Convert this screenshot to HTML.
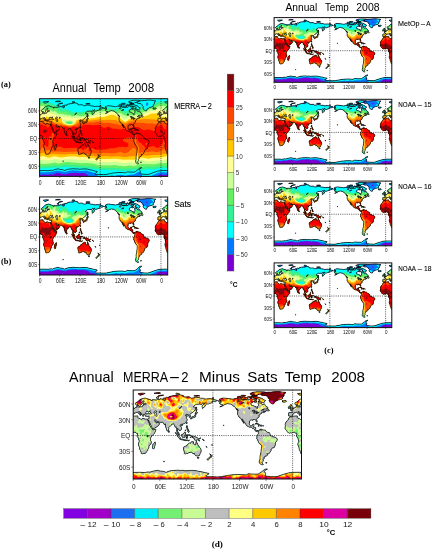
<!DOCTYPE html>
<html lang="en"><head><meta charset="utf-8"><title>Annual Temp 2008 - MERRA-2 vs satellites</title>
<style>
html,body{margin:0;padding:0;background:#fff}
svg{display:block}
text{font-family:"Liberation Sans","DejaVu Sans",sans-serif;fill:#111}
.t{font-size:12.2px;fill:#000}
.tc{font-size:10.4px;fill:#000}
.td{font-size:14.1px;fill:#000}
.s{font-size:8.7px;fill:#000;stroke:#000;stroke-width:.1}
.k{font-size:6.8px;fill:#111}
.kc{font-size:5.8px;fill:#111}
.kd{font-size:7.7px;fill:#1a1a1a}
.cb{font-size:6.3px;fill:#333}
.p{font-family:"Liberation Serif","DejaVu Serif",serif;font-weight:bold;font-size:8.4px;fill:#000}
.co{fill:none;stroke:#000;stroke-width:.72;vector-effect:non-scaling-stroke;stroke-linejoin:round}
.fr{fill:none;stroke:#111;stroke-width:1}
.gl{stroke:#000;stroke-width:.6;stroke-dasharray:1.1 1.1;fill:none}
.tk{stroke:#222;stroke-width:.5}
</style></head><body>
<svg width="434" height="550" viewBox="0 0 434 550">
<rect width="434" height="550" fill="#fff"/>
<defs>
<path id="land" vector-effect="non-scaling-stroke" d="M-1 70.1l16-0.3 10 0.5 10-1.3 3 0.8 2-1 5-1.1 10-1.7 5 1.3 10 0.9 2 1.3 3 0.2 7-2.4 5-0.6 10-0.7 5-0.2 5 0.7 5-0.5 5 1 15-0.8 5 0.1 5 0.5 5 1 10 1.5 5 1.2 9 1.3-1 1.7-4 1.5-2 1.8 2 1.2 24 0.5 10-0.3 3-1 7-0.7 5-1 10-1 10-0.5 10 0 5 0.6 5 0.2 5-2.3 5 0.5 10 0.3 5-0.1 3-0.4 2-1.3 6-3 3-2.7 2-1 3-1 3-0.5 1 0.4-4 1.8-3 2.5 3 4 0 2-2 1.5 3 1.5 10 1 10 0.2 5-0.4 15-4.3 5-1 5-1.5 10-1 15-0.2 6 0.3 0 13.4-382 0zM70.4 49.6l-1.4 0.1-0.2-0.7 1.5-0.2zM45.5 15.8l2-1.3 1.8-2.5 1.1 3.5-0.9 2-2.3 7.3-2 0.7-1.5-2-0.2-2 0.9-1.7-0.4-2.3zM11.5 -33.2l3.8 0.9 1.2 1.1 2.5 0.9 1-0.7 0.2-1.3 1.8-0.6 3 1.2 4 0.8 2-0.6 1.3 0.3 0.2 0.9 0-0.8 1.7-0.2 0.5-0.5 1.1-2.7 0.2-2.3-1 0.1-1.2 0.5-1.8 0.1-1.4-0.7-1.1 0.6-2.2-0.8-0.3-1.4-1-2.4-1.5 0-0.7 0.6-1.1-0.1 0.3 1 1 1.3-0.8 0.2-0.2 1.1-0.5 0.2-0.8-0.3-0.5-1.5-1.8-2 0.1-1.4-4.3-2.5-0.7-1-0.9 0.2 0.1-0.7-1.4 0.4 0.1 1 1.2 0.7 0.9 1.3 1.4 0.4 2.6 1.6-0.1 0.3-1.4-0.5-0.4 0.8 0.5 0.7-0.6 0.7-0.8 0.3 0.3-0.8-0.3-1.2-3.2-1.5-1.5-1-0.8-1.4-1.4-0.5-3.3 1.2-1.5-0.3-1 0.2 0.2 1.4-2.3 0.9-1.2 1.5 0.5 0.7-1.2 1 0-11.9 1.3-0.1 1.4-1.1 1.5-0.4 1-0.7 0.8-1.2 3.8-0.8-0.7-1.5 0.4-1.5 2-0.5 0 2-0.5 1 1 0.5 1-0.2 2.2 0.3 4.3-0.9 1.3 0.4 1.2-0.8 0-1.3 1.5-1.2 1.7 0.5 0.2-1.1-0.9-0.2 0.5-0.9 4-0.1 2-0.4-1.5-0.6-2.5 0.1-3 0.5-1.6-0.7-0.1-1.4 1.2-1.3 2.8-1.6-0.8-0.9-2.3 0.1-1.7 1.9-2.8 1.3-0.4 1.5 1.6 1.2-2.2 2.3-0.2 1.2-2.3 0.9-1.4-0.6-2.2-3.3-3.1 1.3-1.7-0.8-0.8-1.7 0.5-1.5 5-2.3 2.5-1.7 2-2 3.5-1.5 7.2-1.6 2.3 0.1 3 1 10.2 2.5-1.2 1.2 3.5 0 0.5-2.2 2.5 0.7 6.5 0.3 1-0.8 6-0.2 0.5-1.3 3.5 0.3 4.5 1.3-1.5-0.8 1.5-2.5 4 0.5-0.5 2.5-2 2 2 0.2 1.5-2.2-0.5-3 2-1.3 5.5 0.8 0-1.5 6.5-1.7 13-1.1 4-1.4 9 1.7 0.5 2.3 5.5 0.7 7-0.5 3.5 1.5 1.5 1 5-0.5 5-1.3 7 0.6 4 1.3 7 0.2 2 1.2 5 0 5-0.5 5 0.3 14.5 3.2-0.5 0.5-2.5 0.5-1.5 1-3 0-2-1-2.5-0.5-1 1.3 1.5 0.2 0.5 1.7-7 1.8-2.5 1-4.2 0-2.8 2.2-1 2.8-2 0.8-1.8 1.9-1.5 1.1-1.1-3.8 0.1-1.8 4.3-3.2 3-1.5 0.5-1-3.5 1.5-3.3-0.6-2.2 1.6 0.5 0.6-2.5 0.4-3-0.7-3.5 0.4-3 0-2.5 0.8-5.3 3.7 2.3 0.8 2-0.2 1.9 1-0.9 1.7-0.3 2.5-4.7 4.5-4.7 2.1-3.3 2.7 1 1.2 0.9 1.7-0.4 1.6-2.5 0.7-0.2-2 0.2-1-1.5-0.3 0.3-0.9-0.8-1.1-1.5 0.1-1.8 0.7 0.8-1-0.8-0.8-2 1.3-1.5 0.5 0.3 0.8 1 0.9 2-0.3 1.5 0.6-2.2 0.9-1.1 1.1 1 0.8 0.6 2.2 1 1.1 0 1.7-1.5 1.9-1 1.8-1.5 1.5-1.8 1.1-5.5 1.6-0.2 0.9-0.8-1.1-1.5 0-1.2 0.8-1 1.2 0.2 1 2.8 3 0.5 2.5-0.4 1.7-2.1 0.9-1.6 1.7-1.7-1.8-1-1.5-2.5-1.4-0.7 2.9 1.6 3.5 2.1 1.5 1.2 4.1-0.7 0-2.2-1.4-1.5-3.7-1.5-1.5 0.3-3.5-0.9-4-0.7-1.3-1.5 1-1-0.2-0.5-2.5-1.7-2.3-0.5-1.6-4.8 0.9-0.5 1.5-2 1.2-2.5 2.3-1.9 1.2 0.2 1.8-0.4 1.5-0.7 1.7-1.7 2.2-1.5-1.9-3-7.5-0.4-4.8-0.6 1.1-1.7 0.3-1.3-1.3 1-0.1-2.6-1.9-0.9-1.2-5 0.2-4.2-0.5-0.8-1.3-2 0.4-2-0.9-1.5-1-1-1.5-1.2-0.3-0.8 0.8 1 1.7 1.8 2.3 0.8-0.3 0.2 1.8 2.2-0.2 1.2-1.4 1.1-0.6 0.1 1.3 0.6 0.9 1.8 0.4 1 1.1-1.8 2.1-1 1.6-1.5 1-7.5 3.8-4 1.4-0.7-0.4-0.5-1.8-0.8-1.7-1.5-2.5-1.3-1.5-0.2-1.5-4-6-0.1-1.5-0.6 1.7-0.8-0.4-0.6-1.2 0.6 1.4 1 1.5 1 2.5 1.4 2 0.5 3.2 1.1 0.8 1 2.5 1.7 1 1.9 1.8 0.2 1.2 1.2 1.1 2.5-0.8 4-0.8 0.2 1.5-1.4 3-1.8 3-2 2-2.5 2-3.3 3.5-1 2-0.4 1.5 0.7 1.5 0 2 1 1 0.2 3.5-0.9 1.8-2.8 1.5-1.7 3.2 0.2 2.5-2.5 2-0.7 3.3-1.3 1.2-2 2.5-2 1.3-4.5 0.4-2.5 0.6-1.6-0.6-0.2-1.7-1.8-4-1.4-2-0.5-3.5-2.5-5-0.2-2 0.7-2.5 1.3-2.5-2-6.5-2.3-2-0.7-1.8 0.7-1.7 0.2-3-1.2-0.6-1.5 0.2-2.5-1.9-2 0-3.5 1.1 0-30.4 2-0.9 2-0.4 7-0.4 1 0.4-0.8 1.4 0.1 1.2zM33.8 -0.3l-2 0.8 0.2 2 1.5 0 0.7-1.5zM48.5 -46l-1.5 1.5 0.5 1.5 1 1.2 0.8 1.5-0.3 2.1 1 0.9 2 0.6 2-0.3-0.3-1.5-0.7-1.5-0.2-1.5-0.8-1-1.5-1 1-1 1.5-0.5-0.5-1.5-2.5-0.2zM28.6 -43.6l-0.8 0.9 0.2 1.2 1.5 0.3 2 0 1.5-0.8 2 0 1.5 0.7 2.5 0.3 2.5-0.5 0-0.8-4-2.5 0.3-1 1.4-1.3-1.7 0.4-1 1.5-2.3 0.8-1.2-1.6-2-0.6-2.2 1.8zM61 -46.5l-2 0.5-0.5 2 1.5 0.5 1.5-1.5zM109 -55.6l-2 2.1-3.2 1.9 1.7-0.1 3-1.8 1.3-2.1zM-0.2 -54.2l0.4 1.2 1.5 0.3-0.3 1.5-2.4 0.5 0-4.1zM51.5 -71.5l2.5-2 4-2.3 8-1.2 2.7 0.2-9.7 1.8-3 2 1.5 2.3-3.5-0.1zM27 -80l-10 3.3-3-0.8-3-2 9-1zM47 -80.2l3-0.8 8-0.5 4 0.9-7 0.6zM168 44.2l2.5-1.2 2.3-2.4 1.2 0.6 0 0.8-1.2 1.5-1.5 0.8-0.5 1.5-1.5 0.8-2.8-0.8zM148.2 42.2l-0.9 1.1-1.3 0.2-1.3-2.8 1.8 0.4 1.7-0.2zM175 39.8l-1.2-0.5 0.9-1.3-0.2-1-1.8-2.5 2.8 2 0.5 1.1 2 0 0.3 1-1.3 0.8-0.2 1.1-1.5 1.1-0.5-0.8zM129.7 14.8l0.5-1.8 0.8-0.8 1.7-0.7 2.3 0.7 1.7-0.2-1.2 3 2 1 2 1.5 1.3 0 0.8-2.5 0.1-2.2 0.8-2 1 2 0.5 1.7 1.3 0.5 1 4 2.2 1.2 1 1.8 1.3 1.5 1.9 1.5 0.8 3.8-0.5 2.2-2 3.2-1 2.3-0.2 1.2-2.3 0.3-1.5 1-1.5-0.8-2 0.3-2-0.5-1-1.8-1.3-1-0.4-2-0.8 0.8-1.5 0.8-1.5-2-2.5-1.3-5.5 0.8-2 0.7-0.5 0.9-3.5 0-2 1.1-2.3-0.6-0.6-0.8 0.6-1.8-2.2-5.8 0.2-3.5 0.5-0.7 2.6-1.2 4.7-1.6 0.8-1.8 1.4-0.4 1.3-1.6 1.8-1.2 1.7 0.8zM164 20.2l1.5 0.8 1.5 1.3-0.7 0-1.8-1.3zM178.6 18.2l-1.2 0-0.1-0.7 1.2-0.1zM123.5 10.3l1.5-1.3 2-0.6-0.5 0.8-2 1zM115 8.2l4 0.3 4-0.2 0 0.7-3 0.5-4.8-0.7zM156 6.8l2 1 2.5 1.5-0.5 0.5-2.5-1.5zM105.2 6.8l1.3-0.8 2 0.7 2.3-0.3 3.7 1.4-0.2 0.9-6.3-0.9-1.7-0.4zM146 5.3l1.5 0.7-0.3 0.8 1.3 1.7 2 1.8-1 0.1-2.5-0.9-1.5-1.5-2 0-0.5 1.2-2-0.1-1.5-1.1-1.5 0.4 0.5-1.4-0.5-1.5-4.5-1.7-0.7-1 1.2-0.6-1.7 0-1.3-0.8 0-0.6 1.5-0.4 1.5 0.4 0.3 1.7 1.2 0.8 2-1.6 3.5 0.9 3.8 1.4zM151 6l-1.5 0.3-1-0.6 1.7-0.2 1.8-1.3 0.3 0.8zM130.8 3.6l-1.8-0.1-1-0.3 2-0.3zM122.8 4l-0.5 1.2-0.8-0.7-0.7-1.7-0.5 2.7-0.8 0 0-2-0.7-0.7 0.7-1.8 0.2-1.8 1.3-0.5 2 0.4 2-0.7-0.5 1.2-2.5 0-1.5 0.4 0.5 1 2.2-0.1-1.2 1.1zM102.5 4.2l-3-3.7-1-2-3-3.3-0.2-0.8 2.2 0.4 6 5.7 1 1.5 1.5 1.3-0.2 2.5-1.3 0zM127.5 -1.8l1 0.3-0.2 1 0.4 1.3-0.9-1.1zM118 -1.2l-1.5 2.7-0.5 2-1.5 0.5-1.5-0.8-1.5 0.1-1.3-0.8-0.2-1.3-1-1.2 0-1.5 1-0.2 3-1.5 4-3.8 1.5 1.5-1 2.5zM124 -8.5l1.5-0.7 1 1.7-0.5 1.2-0.7 0.3-2.4-1.5 0.6-0.3zM81 -6l-1-0.5-0.2-1.5 0.4-1.8 1 1.3 0.6 1.5zM119.3 -11.3l0.2 0.5-2.3 2.3 0.3-1zM125.5 -10l-2.5 0.5-1-1 1-1 2 0.3zM120.3 -16l0.2-2.5 1.5 0 0.3 2-0.8 2.3 2.5 1.2-0.2 0.5-3.1-1.5-0.7-1zM108.7 -19l1.3-1.1 1 0.3-0.5 1-1 0.6zM120.2 -22.8l0-1 0.8-1.4 0.8 0.4-0.8 2.8zM142 -39.5l-1 1.5-0.2 2.5-1.8 0.7-2 0.2-1.5 1.1-1-0.3-1.5 0.8-1-0.2-0.5 1.7-1.5 0.3-0.2-2.1 1.2-1.1 2-1.1 3-0.2 0.8-1.3 1.7-0.3 1.3-1.7 0.2-1.8 1.3-0.5zM141.6 -43.5l0.4-1.9 3.5 2.1-2.2 1.3-2.3-0.5-1 1 0.3-1.5zM142 -46l-0.2-3.5 0.5-4.7 1 0.2-0.3 2.5 1.5 2.3-1.5 0.2 0.5 2.2zM182.5 -71.3l-1.5 0.5-2.5-0.2 1.5-0.6zM146 -75.2l-4 0.4-5-0.5 3-0.7 8 0 2 1zM96 -79l2-1.5 5 0.7 2 1.3-5 0.3zM302.2 52l-2.2 0.3-1-0.5 3-0.4zM290 -12.2l1.5 0.9 2.5 0.7 1.7 0.3 2.5-0.3 0.3 0.8 1 1.2 1.5 0.6 1.5 1.7 4.7 1 1.3 1 0.7 2.3 0.8 1.3-0.5 0.9 2 0.6 1.5-0.1 2.5 1.5 1 0.3 4 0.5 4.3 2.8 0.4 1.7-0.4 1.7-2.3 2.8-1.3 1-0.4 4.8-1.8 4-1 1.2-2.5 0.2-1.8 0.8-1.7 1.3-0.7 1.2 0.1 2-4.4 5.2-1 0.9-2 0.3-2.2-0.7 1 1.8-0.3 2-1.5 0.7-3 0.2-0.3 1.6-2.5 0.5-0.2 1.3 1 0.5-1.3 1.7-1.7 1-0.5 1 1.7 1-1.7 2-1.5 1.3 0.7 2.2 2.3 1.8-2 0.7-2.5-0.5-2-1-2-1.5-0.7-2-0.3-2 1.7-3.5 0.3-2-0.3-1.5 0.2-2 0.4-2.2 1.6-4.3 0.3-4 0.8-4 0.3-4-0.1-2-1-1.5-4.2-2.5-4.5-8.5-1.2-0.7 0-1.5 1.2-1-0.7-1-0.1-1.3 1.3-2 0.7-0.5 0.3-1.1 1.2-1.2-0.2-1.7 0.2-2.7-0.2 0.7-2-1.5-1 1.7-1.3-0.9-1.2 0-2-1.6-0.7-0.7-0.5-1-1.3-1-0.3-0.5-3.7-1-1.5-1.3-1.5-0.9-1.5 0.5-2-0.4-6-2.7-1.5-1.2 0.2-1-0.7-1.8-3.3-3-1.2-1.7-1.7-1.7-0.8-1.8-1.7-0.2 1.2 1.7 0.7 1.5 3.3 4.8-0.7-0.1-1.3-1.5-1-1.7-1.5-1.5-0.8-1.5-1.2-1.3-1.2-1.8-1.3-1.4-2.1-0.6-1.9-3.2-1.3-1.5-0.5-1.2 0.3-7.3 1.2 0.3-0.2-1.5-4.5-2-1-1.5-1.5-1.5-1-0.8-2-0.7-2-2-5-2.2-3-0.3-3-0.7-3 0.2-1 1-2 0-6.5 3.3-2.5 0.9-3.5 0.7 4.5-1.4 2.5-1.5-0.5-1.2-4 0.1 0-1.2-2.5-0.7-1.5-1 2-1.5 3-0.5 0-1-4 0-3-1.1 4-0.9 3 0.2-2.5-0.7-0.5-0.7-2-1.1 2.5-0.2 1.5-1.2 5.5-1.1 17.5 1.7 4 0.6 4-0.9 3-0.4 6 0.5 6.5 1 2 1 9.5-0.2 3 0.2 3-0.2 2-1.5 0-1.5 2-0.7 2 2 3.5 1.2 2 0.5 1.5-1.8 2.5 0.2 1 1.1-0.2 1.5-1.8 0.8-2-0.3-1 0.5-1 1.5-5 2.2-2 1.3-0.2 1.5 1.7 0.8 0.5 1.7 2-0.2 2.5 0.7 3 1.2 2.7 0.5 0 2 1.3 1.5 1.5-0.2 0.5-1-0.7-2.2 2.7-2.3 0-1.5-1-2 0-1.9 3 0.2 3 0.7 2 1 1 1.7 2 0.3 3-1.7 2 2.2 0.5 1.2 1.5 1.3 4 2 0.2 1-1.2 1-2 0.7-2.5 0.6-3.5 0-2.5 0.8-2 1.4-1 1 2-1.5 2-0.7 2.2 0.3-0.7 1.1 0.3 1.3 1.7 0.3 2-0.8 1 1-5.7 2.5-0.3-0.8 1.5-1.3-5.7 1.9-0.6 1 0.8 0.7-4 1.4-0.2 0.9-1 1.3-1.1-0.1 0.7 3.2-5.4 3.3-0.4 1.5 1.3 4-0.4 1.3-0.8-0.3-0.7-1-0.7-1.3-0.1-1.2-1.2-1-1 0.3-1-0.7-3.5 0.2 0.2 1-0.7 0.1-3.5-0.7-1.3 0.4-2.5 1.7-0.5 5.2 0.5 1.7 1.3 1.8 1.5 0.8 3-0.3 0.7-0.8 0.5-1.7 1.8-0.5 1.5 0.1-0.8 2.9-0.5 1-0.2 1.7 3.5-0.1 1.5 0.7 0.2 1.2-0.4 2 0.2 1.5 1.2 1.3 1.3 0.3 1.5-0.7 1.5 0.2 0.8 0.9 0.7-0.3 1-1.8 4-1.7-0.3 1.3 0.3 1.5 0.5-1.4 1-0.6zM281 -42.8l-3.5 0.8-0.8 0.2 3.3-0.4zM280.5 -43.8l-0.2 0.5 2.7 0 0.7-0.7zM273 -45.7l-1 1.2 0.2 2.5 1.5-0.2 0.8-3.3zM276.5 -46.2l-1 0.4 2 2.8 1-1.5 1.5-0.3-1-1.2zM273.5 -47.8l-2.5-0.2-3 1.3 7.3 0.1zM262 -53.8l-1 0.8 0.2 2.5 2.3 0zM249 -62.8l-4 0.8-2 1 3.5-0.2 4-1.5zM240.5 -67l-3.5 0.8-0.5 1.2 3.5 0.2 2.2-1.2zM371.5 -33.2l3.8 0.9 1.2 1.1 2.5 0.9 1-0.7 0.2-1.3 0.8-0.3 0 67.2-1 0.2-1.6-0.6-0.2-1.7-1.8-4-1.4-2-0.5-3.5-2.5-5-0.2-2 0.7-2.5 1.3-2.5-2-6.5-2.3-2-0.7-1.8 0.7-1.7 0.2-3-1.2-0.6-1.5 0.2-2.5-1.9-2 0-4.5 1.5-1.5-0.4-1.5 0-2.5 0.8-1.5-0.6-2-1.7-1.5-0.8-0.8-1.5-1.4-1.7-2-1.6-0.8-2.4 1-1.3 0.2-3-0.7-2 1-2.5 1.5-2.5 1.5-1.8 1.5-0.7 1.5-1.2 0.3-1.8 1.2-1.8 1.7-0.9 0.9-1.6 3.9 0.7 3-1.4 2-0.4 7-0.4 1 0.4-0.8 1.4 0.1 1.2zM381 -38.5l-1.6-1.8 0.1-1.4-4.3-2.5-0.7-1-0.9 0.2 0.1-0.7-1.4 0.4 0.1 1 1.2 0.7 0.9 1.3 1.4 0.4 2.6 1.6-0.1 0.3-1.4-0.5-0.4 0.8 0.5 0.7-0.6 0.7-0.8 0.3 0.3-0.8-0.3-1.2-3.2-1.5-1.5-1-0.8-1.4-1.4-0.5-3.3 1.2-1.5-0.3-1 0.2 0.2 1.4-2.3 0.9-1.2 1.5 0.5 0.7-2.2 2-2.4 0.1-1.2 0.7-1.6-1.2-1.6 0.2-0.6-1.8 0.6-2.7-0.4-1.5 1.2-0.7 6.5 0.1 0.3-2.4-1.1-1.2-2-0.6-0.4-0.7 3.1-0.2 0.1-0.9 1.8-0.2 1.4-1.1 1.5-0.4 1-0.7 0.8-1.2 3.8-0.8-0.7-1.5 0.4-1.5 2-0.5 0 2-0.5 1 1 0.5 1-0.2 2.2 0.3 4.3-0.9 1.3 0.4 1.2-0.8zM377.7 -62.5l-0.4 1.5 1.6 1.2-2.2 2.3-0.2 1.2-2.3 0.9-1.4-0.6-2.2-3.3-3.1 1.3-1.7-0.8-0.8-1.7 0.5-1.5 5-2.3 2.5-1.7 2-2 3.5-1.5 2.5-0.6 0 5.7-0.5 0.6zM283.5 -18.4l0.2 0.5-2-0.4 0.3-0.2zM294.3 -18.5l0 0.5-1.5 0 0-0.5zM287.4 -19l-0.7-0.8 1.3-0.1 2.2 0.3 1.4 1-2.6 0.9-1.5-0.5-1.9-0.2zM204.8 -20.2l0.2 0.8-1 0.4 0-1zM277.5 -22.4l-2.4 0.5 1.9-1 2.5-0.2 2.5 0.8 2.5 1.6 1.3 0.5-3.3 0.3 0.3-0.7-1.3-0.9zM300.7 -47.7l3.1-3.7 0.7 1.6 2 1 0.8 1.2-0.8 0.9-2.5-0.1zM231.7 -50.7l2.8 0.6 2 1.7-1.5-0.2zM354.2 -54.7l-0.2 2.5-3.5 0.7-0.8-0.4 1-0.7-0.5-0.6-0.2-1 2.8-1.1zM354 -57.3l1-1.3 2 0-0.5 0.9 1.5 0.1-1 1.4 1 0.2 0.5 0.8 1.3 1 0.4 1.2 1.5 0.3-0.3 1.5-1.4 0.4-3 0.2-2.5 0.5 2-1.3-1.7-0.4 1-0.5-0.3-0.9 1.3-0.1 0.2-0.7-1.8-0.8zM279.5 -63.8l-3 0.5-3.5-0.3 2-2.2 3 0.6zM346.3 -65l-1.3 0.7-3.5 0.9-4-0.5 0.5-0.4-2-0.6 2-0.2-2-0.4 1.5-0.9 2.2 0.3 3.8-0.4 1.7 0.4zM281.5 -70l-6.5-0.2-3.5-0.6-1-1.2 0.5-1.5 4-0.2 4 0.2 6.5 1.5 6.5 2 1 1.5 5.5 1.8-2.5 3.4-2.5 1.3-8-2.5-3.5-0.2 1.5-1.3 3.5-1.5zM255 -68.8l-9 0.1-3-1.1 1-1-2.5-0.7 3.5-1.2 4 0.1 3-0.4 3 0.5 3 1.8 0 1.4zM301.5 -75.3l-3.5-0.7-5 0-4-1.2-1-1.1 4-0.7 1-1.2 1.8-0.7-4.8 1.1-4 1.3-4 0.7-2 1.5-10-0.2 1-1 3-1-1.3-1-0.7 1.2-7 0-1-1.7 8-2.3 8-0.7 10 0 8 0.5-2 1.3 4-0.8 12-0.5 8-0.8 9-0.2 9 1.2 7 0.5-2 1.3-3 1.5 1 2-2 3.5-3 1.2 2 1.3-1 1.2-4 1.3-6 1-4 1.8-3.5 1.2-2.5 4.5-2 0-2.5-0.8-1.5-0.7-2-1.7-1.5-2-1-1.8 2.5-2-2-0.7-2-1.3-1-2zM258 -71.5l-0.5-1.3 2-1.2 3.5 0.5-1 2zM242 -74.3l2 1-4 1.7-3 0.4-2-0.6 0.5-1.7 2.5-0.9zM269.5 -74l-0.5 1.3-4.5 0.7 1-2.2zM276 -76l4 0.5-2 0.9-6 0.1-4-0.2-0.5-1.1zM253 -75l-5 0.5-5-0.5 1-1.3 6-0.2 4 0.5zM381 -80.4l0 2.4-4 1.3-3-0.8-3-2 9-1z"/>
<clipPath id="lc"><use href="#land"/></clipPath>
<clipPath id="fc"><rect x="0" y="-86.5" width="380" height="169"/></clipPath>
<g id="gm"><rect x="0" y="-86.5" width="380" height="169" fill="#7800d2"/><path fill="#0078ff" d="M145 81.5l3.6 1 200.9 0 1.6-2 7.9-1.9 11 1 4-0.6 6 0.3 0-165.8-380 0 0 166 5 0.2 5-1.3 15 0.5 7-1 6 0.8 13-3.7 7 0 6 1.5 4.4 0 8.6 1.7 3-0.4 3-1.6 5 0.1 4-1.4 10 0.3 5-0.4 8 0.2 5 0.9 10-0.6 7 1.1z"/><path fill="#00ffff" d="M170 79l4.1 3.5 28.9 0 7-0.8 4-1.5 6 1.2 6-0.5 3.7-1.4 4.3 0.6 5-1.2 4 0.7 6 0.2 5 1.2 17-2.9 9 0.2 8-3.5 8-2.8 1.9 1.5 0.2 2 4.7 3 3 4 22.1 0 13.1-4.9 11-3.2 7-1 8-0.1 13 0.5 0-160.3-380 0 0 160.2 25-0.2 9-1.3 8-0.1 8-1.7 6-0.3 7 1.3 12 1.3 10-2.1 14-1.5 6 0.8 6-0.4 13 1.1 14-0.7 25 5.1 2.7 2.5zM317 -71.4l-1.2-1.1-0.6-2 2.4-4 1.4-0.3 3 1.9 0.4 2.4-1 2-1.3 1-1.1 0.4z"/><path fill="#32f096" d="M230.8 69.5l27.2 0.8 22-1 9-1.2 7-2.9 2 0.4 1 2.7 1 0.5 4 0.2 16-2.3 18 0.9 16-2.7 14 0.2 12-0.9 0-141.1-3 0.3-3-0.7-2.6-2.2-0.2-2-1.2-0.2-16 1.5-5 0.9-6 2.1-7 7.5-8 2.3-7.5 2.9-4.5 3.6-3-0.4-2.4-1.2-3.5-3-1.1-2.3-2-0.8-5 0.9-2.1 3.2-2.9 1.4-9.2-2.4-0.3-2-2.2-1-2.3-0.1-4 3.9-2-0.6-8 2.2-5 3.5-3 0.8-4-1.5-3-0.1-1-2.3-1-0.6-5-0.6-3-3.3-4 0.3-3 1.1-6-0.6-7 2.2-3-0.4-4 0.4-3-1.3-4-0.6-7 1.1-3.7-1.5-2.3-2.7-1-0.1-5.1 0.8-0.8 2-2.1 1.3-5-0.7-5 2.6-3 0.8-4-0.2-3 0.6-3-0.5-5 0.5-4 1.7-15 0.2-6 2.6-4-0.6-3 0.3-4-0.9-8 1.6-4-0.3-4-1.3-4 1.2-5-0.2-3-2-4-1.1-2-1.4-3-0.1-7-2-2 0.3-3 1.3-2 0.2-5-3.1-5-0.9-0.8-0.9 0.3-2-0.5-0.6-7-0.9-18-6.5-7-0.9-10 1.8-3.4-0.9-3.6-2.9-10-0.3 0 145.8 30-0.3 14-1.7 13 0.6 21-2.1 29 2 16 0.1 19 1.7 17 0.2 21 2.7 13 0 17 0.9 13-0.5z"/><path fill="#64f064" d="M238.3 65.5l15.7 0.1 14-1 11 0.2 13-1.6 9-0.6 6 0.7 13-1.6 18 0.8 17-2.7 12 0.3 13-0.6 0-126-3-0.2-0.8-0.8 0.8-1.1 3-1.3 0-5-11-1.5-18 1.8-9.7 3.1-5.3 3.2-8 1.8-7 2.6-3.7 3.4-1.3 0.5-3-0.4-7-2.8-8.1 1.7-1.4 1 0.6 2-1.1 1.3-1.2-0.3-0.8-1 0.7-2-2.7-0.9-1.6-0.1-0.9 2-2.5 0.6-2 1.8-1-0.5-3-5.8-4 0.8-6-0.3-4 1.4-1 0.9-0.3 1.1 0.9 2-0.2 1-2.4 2.2-2-0.5-3 0.6-9-1.3-3-1.8-5-1.8-3-2.3-4-0.4-6 2.4-3 0.1-9-1.7-9 0.1-5-0.9-6 0.7-1.3-0.4-0.9-2-2.8-0.6-7 0.9-4-0.2-2 1.1-8 1.9-5 0.5-5 2.9-3 0.5-1.1 0 0.1-1 1.3-2-1.3-0.6-2 1.1-3 0.6-11-0.1-4 1.6-3 2.6-2 0.8-4-0.2-6 1.6-3-1.3-3 0.4-5-0.4-2-2-4 1.2-4 2.1-5 0.5-2-0.7-3-2.7-5 0.4-1-0.5-5-3.8-3 0.8-3-0.3-4 1.2-4-2-4 1.3-5-0.7-4-3.1-2-3.3-3-0.1-5.3-3.4-11.3-4-11.4-2.2-12-1.1-8 0.1 0 136.4 31-0.8 13-1.6 14 1.2 15-2.4 6-0.3 12 1.1 24 0.8 20 1.6 22 0.1 22 3.6 12-0.4 19 0.9 14-0.4zM339 -64.4l-1.2-1.1 1.2-0.6 4-0.1 1.6 0.7-1.6 1.1zM35 -65.5l-6-0.4-4-1.6-4 0.8-5 0.2 0.2-1 3-2 8.8-2.7 6 2.3 2.7 2.4-0.1 1zM86 -32.4l-2.8-1.1 0-1 3.8-1.5 2-0.2 3.9 1.7 0.2 1-1.1 0.4z"/><path fill="#c8ff96" d="M233.5 59.5l19.5 0.8 14-1.3 12 0.9 5-0.7 16-3.8 40 0.7 15-2 25-0.9 0-117.6-5 1.4-3-0.5-0.1-1 3.1-5 0.1-1-8.1-0.6-12 0.8-5 0.9-4 1.7 0.4 2.2-1.4 1.6-5 0.9-6-1.6-11.8 2.1-5.2 3.3-6 0.3-6.2 2.4-1.5 1-0.4 2-5.9 2.3-3.5-0.3-4.5-1.3-5 1.5-2.8-0.2-0.9-3 0.5-3-1.8-0.8-5-0.1-0.9 0.9 4.4 3 1.3 3 0 1-0.8 0.4-3-1-10 0.7-1-0.2-2-2-0.9 1.1 0.8 2-1.9 0.6-6-0.4-3-1.6-4-0.6-3-2.1-6-2.2-6 1.3-5-1.6-4-2.1-5.5-1.3-5.5-0.3-9 2-10-1.8-7 0.8-11-0.2-7 0.8-3 1-3 2.5-3 1.6-9 0.9-5-1.1-1 0.3-1 1.5-2 0.1-3 2-2-0.8-7 1.5-6 0.5-4 0-7-1.8-5-0.4-1-1.9-1.8 2.8-7.2 1.7-2-0.4-4-2.6-5 1-3.2-0.7-2.8-1.7-4 1.1-4-1.6-3 0.1-6-1.4-4 0.6-3-1-2-0.1-6-4.4-2-0.3-6 0.7-2-0.2-7-3.4-6-0.4-0.7-2-1.3-0.7-6 1.6-2 1.6-6 0.1-0.4-0.6 2.4-1.6 1.9-2.4 2.2-3 0-1-8.1-0.7-7 0.4 0 125.4 11 1 21-1.4 13-1.8 10 1.9 4 0.3 14-2.8 9-0.5 27 1.4 13 1.2 16-0.6 20 1.4 20 3.9 12-0.5 15 0.6 19-0.8zM289 54.9l-1.7-1.4-0.5-2 1.2-5.7 1-0.6 0.7 8.3zM367 -61l-0.3-0.5 1-1 1.7 0-0.8 1zM84 -31.3l-5.4-2.2-2.1-2 1-1 1.5-0.3 5-0.1 6-1 5.7 1.4 1.8 1 0.4 1-1.4 2-2.6 1z"/><path fill="#ffff96" d="M237.8 52.5l13.2 0.6 14-0.9 14 0.9 4-0.3 1-0.2 0.8-1.1 3.2-9.6 1-1.2 1.9 4.8 0.1 4.2 1 1 4-2.7 5-0.9 5 0.2 13 2.2 6 0.4 12-1.4 29-1.3 14-1.9 0-107.7-2 0.7-3 3-2 0.2-2-0.6-3 0.7-2-0.5-1-0.9-0.6-1.7 0.6-2.4-1-0.5-12 0.5-10 2.8-12 1.5-6 1.5-17 6.3-1.4 1.3-0.6 1.7-4-0.6-5 0.3-5 2.2-8-1.2-7 1.3-5-1.1-5 1.8-3 0.3-2 1.7-3 1-5 2.7-3-0.9-3-2.6-4-2-3-2.8-4-1.8-3-0.5-3.8-2.5-5.2-2.2-8.8-1.8-7.2 0.2-6 1.9-14 2.7-15-0.2-12 3.7-8 1.7-8 0-2 0.6-3-0.8-5 2-7-0.3-17 1.7-10-0.6-5 1.3-2-0.6-4-2.5-2 0.6-5 0.2-4-1.9-6 2.1-5-2.4-3 0.1-5-0.8-3 1.5-1-0.2-7-3.4-3 0-2-2.7-8 0.2-6-3.3-2-0.2-2 0.6-1-0.5-1.5-2.7-3.5-2.9-2 0.9-0.5 2-1.5 2.3-2 0.8-3-2.4-4 0-1.2-0.7-0.7-2 2.1-3 0-1-7.2 0.1 0 111.9 26 1.6 7-0.6 13-2.5 4 0.4 10 2.5 14-2.2 12-0.7 20 0.6 13 1.8 15-1.4 15 2.5 15 0.6 12 1.9 27 0.5 21-1.6zM352 -52.7l-1-0.8 0.8-1 1.5 0 0.2 1zM358 -53.4l-3.2-2.1-0.5-2 0.7-1.2 1-0.2 1.5 1.4zM83 -30.4l-5-1.3-7-3.4-2.1-2.4 0.4-2 1.7-1.1 3-0.9 4 1.8 5 0.7 4-1 3 0.1 8 1.6 3 1.6 0.9 1.2 0.1 1-0.8 1-4.2 2.4-5 1.1z"/><path fill="#ffc800" d="M226 44.1l24 2.4 20-0.6 11 0.3 3-0.5 2-2.2 4-12.7 1 0.7-0.5 5 0.7 5 0.8 2.4 1 0.8 2-0.5 2-2 3-0.7 7 0.2 16 2.3 14-1.9 24-0.5 12-2.2 7-0.5 0-89.1-1.5 3.7-1.7 1-5.8 0.7-6-0.6-2-1.1-3 1.1-5.9-5.1-4.1-0.4-2-2.9-1-0.5-13 0.1-4.2 0.7-9.8 3.4-10 2.2-4 1.9-10 0.9-7 1.6-5-0.9-11 0.8-5 1.6-3 0-1.4 0.5-1.7 2-1.7 1-7.2 1.9-3.8-0.9-5.4-4-6.8-3.3-17-6-7-0.9-22 4.9-16-0.1-13.3 2.4-10.7 1.2-10 0.8-4-1-9 1.6-13 0.5-7 2.9-4.3 6-5.7 2.4-6 1.3-11-0.9-10-2.8-2.7-2-1.5-2-0.8-3 0.7-3-0.7-1-3 0.1-3-0.6-6 0.5-3-1.9-3-0.2-2 0.7-2 1.9-1 0.1-8-4.1-7 1.7-4-1.8-4-0.9-4 2.7-5 1-5-0.3-3.8-0.9 0.5-3-0.5-1-2.2-0.3 0 89.6 11-1.6 13 3.1 4 0.4 4-0.5 9-2.4 4-0.3 18 2.8 24-2.3 17-0.3 14 2.4 11-1 5 0.2 8 1.2 4 1.7 4-0.2 15 0.8 3 0.5 2 1.1 17-0.8 22 0.3z"/><path fill="#ff8200" d="M172 39.5l3-0.2 2 0.6 9-1.4 8-0.4 18 1.1 23-0.6 17 1.5 20-1.6 12-0.1 2-1.2 1-1.5 3.5-11.2 0.1-4-0.9-4 0.3-0.5 2.8 2.5-0.6 6 0 12 0.8 2.8 1 0.8 11-3.4 15 0.9 13-1.8 25-0.5 11-2.3 11 0.4 0-73.6-5-0.9-4 0.7-9-0.2-6 2-8-2-32-1.8-7 0.2-13 1.6-8 0.3-4-0.7-4 0.1-19 4.8-5 2.8-5-0.7-8-2.5-3-0.3-3-4.1-1.3 2.4-0.7 0.3-11-2-18-0.6-16 0.4-14-1-32 2.7-13-0.8-3 1.2-8-1-3 2.2-2 0-5 2.4-2 2.5-2 1.3-13 3.3-7-0.2-14-2.4-8-3.2-4 0.2-3-1.8-4 1.5-10-2.3-6-2.4-2-1.6-3-0.2-11-2.5-16 2-5 0 0 74.6 7-2.8 3-0.5 5 1.1 4 2.2 3-0.3 5 0.9 15-1.6 24 1.6 40-1.6 6 0.7 6 1.8 9-1 5 0.2 5 0.7 8 2.8 8-1.2zM23 33.2l-0.7-0.7 0.7-1.3 1-0.3 0.9 0.6z"/><path fill="#ff4600" d="M142 33.3l4 2.2 3-0.6 4-3.2 2-0.9 18 2 20-2 19 1.6 16-1 11-2.4 3 0.5 8 2.6 5 0.2 7-2.1 5-3.1 7-5.4 4-1.3 4 1 6 3.7 1-2.2 0.1-4.4-6.2-8-2-9 0.4-2 2.3-4 0.4-3.6 1-1.2 1 0.6 0 1-1.6 3.2-0.7 4 2.3 9.4 0.9 1.6 7.6 8 0.8 7-0.4 4 3.1 3.1 6-3 5 1.3 4-2.1 9 0.5 12-1.4 12 1.4 7-0.2 6-1.5 8-4.2 2-0.5 2 0.6 5 4.3 3 0.2 1-0.5 0-60.5-2 0.4-5-0.7-5-2-5-0.6-5 1.2-4 0-6 3.1-4 0.3-12-1-13 0-16-1.9-19 0-2-0.8-4-0.1-4 1.1-7-0.4-2.9 0.9-5.9 3-1.2 2 0 2.5-2-0.8-1.8-2.7-1.2-0.7-6-1.3-2 0.2-2 2.1-4 0.3-12-3.2-8-0.1-13-2-14 0.8-13-2.4-7-0.5-13 1.3-21 0.1-5 1-6-0.8-5 0.6-2 2.2-4 0.1-7 3-7 0.5-7 2-5 0.2-15-2.2-4 0-7.5-2.2-3.5 1-5 0.2-6-2-4-0.5-7-2.9-1 0.1-3 2.3-5 0.5-6-1.1-3.6 0.4-9.4-3-3 0.5-3-0.5-3 0.3 0 62.8 2.8-2.1 4.2-5.2 3-1.3 2 1.6 3 4.6 3 2.3 4-2.1 4-1 4 1 4 3 24-0.1 14 1.1 23-0.6 13-0.9 5 0.8 3.3 3.8 1.7 0.8 3 0 10-2.4 3 1 4 0.1zM258 -23l-0.9-0.5 0.9-1.2 0.3 1.2z"/><path fill="#ff0000" d="M150 28.8l-3.7-2.3-1.1-2 1.8-2.6 0.3-1.4-1.6-2-0.8-3-1.9-1.7-2 3.7 0.2 1 2 1-0.2 1-2 0.9-2-0.7-2 2.3-3-0.9-2 0.1-0.2 3.3-1.8 0.8-3.4-1.8-2.6-2.3-10-0.3-2-1-6-0.8-33 1-4-0.7-7-2.6-5-0.4-6 0.9-2.8 3.2-1.2 0.4-1-1.4 1.7-2-0.7-2-2.8 1-2.2 2.6-4 0.2-0.7-0.8 0.2-1 2-2 0.1-1-0.6-0.9-2-0.6-0.2-0.5 1.3-1 1.8-11-0.6-3 1.7-2 1.7-1 0.5-1-1.2-6-1-1.1-1-0.2-3.4 1.3-1.1 3 0.1 3-1.2 1-2.4 0.5-3-0.8-1.5 1.3-0.1 1 1.3 2-2.8 8 0.9 3-0.9 4-1.5 2 1.9 2-0.2 1-1.7-1-0.4-0.9-4 1.2-1-0.9 0.1-2.4-1-1-3.1 0.8-1.5-0.8-0.4-1 0.6-4-2.7-6.1-11-4.7 0-29.7 6 1.1 3-0.6 3 2.1 6 0.9 3 1 1.3 1 0.6 2 1.1 0.2 4-2.3 2.3-3.9 5.7-2.1 1 0.1 7 2.9 3 0.2 5 3.4 3.7 0.5 4.3 2.5 2 0.5 5-0.1 0.6-0.9-0.5-2 0.5-1 1.4-0.4 9 0.1 6 1.8 3 0.1 4 1.4 10-3.9 4 0.3 3 1.2 7 0.5 4-0.9 4-1.8 11-2.5 26 0.8 13-0.9 5 1.1 9 4.4 4 1.1 4-0.3 6-2.2 4-0.2 3 0.8 7 3.2 4 0.8 9 0.1 12 1.6 12-2.1 5 3.5 5 1.1 0.9-0.7 1.1-4.5 10-1.3 4.2-1.2 0.2-1-0.8-3 0.4-1 3 4.6 8-0.1 7 1.1 12 6.2 3-0.2 6-1.7 4-0.2 19 3.5 2-0.7 1.7-5.5 2.3-3.2 2-1 3 0.9 1-0.2 6-4.2 4-0.8 1.8 0.5 1.2 3.8 1.8 3.2 2.1 0-0.1-1 0.6 0-0.4 2 0.4 1 1.6 1.3 2 0.3 1.3-0.6 0.9-2-1.6-2 0.4-1 3.9-4 2.1-0.2 0 49.6-2 0.9-4-2.3-1-3 0.8-3-0.7-3-2.7-5-3.4-2.6-1 0.8 0.6 3.8-0.9 3-6.7 7-5 3.4-3 0.7-3-0.1-8-3.6-4-0.6-15 2.8-3 2.7-4 0-3-3.3-0.2-2-0.8-0.9-6-2.5-2.8-2.6-4.8-2-5.3-4-0.8-3 2.2-2-0.5-1.6-2-0.7-1 0.2-0.2 3.1-0.8 1-1 0-1-1.3-0.2-1.7 1.5-5 0.2-3-2.5-0.8-1.8 0.8-0.6 1-0.6 3.7-3 5-13-2.3-5-0.1-9 1.5-5.3 2.2-0.7 1 0.3 1 2.4 2 4.3 2.2 7 2.2 2.3 1.6 0.8 2 0.1 2-1.6 2-2.6 1.3-3 0.1-7-1.1-15 0.7-13 2.6-12 0.2-10 2-27 1.4-4-0.2-8-2.7-4-0.4-3 0.4-1.2 0.7 0.2 4-1 1.9zM317 14.8l2.3-1.3 1-2-0.2-1-1.1-0.9-4-0.2-0.9 4.1zM320.3 18.5l0.2-1-0.5-0.7-1 0.4 0 0.7zM13 0.1l2.3-0.6 0.4-1-0.5-1-3.2-0.4-0.5 0.4-0.4 1 0.6 1zM18 10.4l0.4-0.9-0.4-0.5-1 0.4 0 0.7zM24 2l1.4-1.5-0.4-1.4-2.7 0.4-0.7 1 0.4 1zM47.6 15.5l1.4-0.3 0.7-0.7-1.7-0.3zM139 19.1l1.7-0.6-2.3 0zM140 6.3l3 0.9 1.3-0.7-1.9-2-3.4-0.9-0.2 0.9z"/><path fill="#7d0a0f" d="M366 -8l-1.1-2.5-5.1-3-1.8-1.7-0.4-1.3 0.4-1.5 6 0.9 1 2.2 2 2.6 1 0.4 1-1 1-3 1 0.8 0.6 1.6-1.1 5-0.9 1-1.6 0.5zM10.8 -14.5l0.6-3 2.6-2.3 4 3.1 1.9-1.8 1.1-0.3 1.1 0.3 1.1 2-0.8 1-1.4 0.4-2 1.7-3 0.9-5 0.2zM47.2 -15.5l1.8-3.7 1-0.3 2.9 1 0.1 1-1 0.9-3 1.4z"/></g>
<g id="gs"><rect x="0" y="-86.5" width="380" height="169" fill="#7800d2"/><path fill="#0078ff" d="M165 80.3l2.4 2.2 171.9 0 2.7-1 3.4 0 4.6-4.7 4.6-1.3 25.4-0.2 0-161.8-380 0 0 161.8 25-0.1 5-0.9 7 0.1 9-1.8 10-0.8 18 2.6 3-0.2 6-1.8 10.2-0.9 12.8-0.6 10 0.6 5 0.9 7-1 8 1.4 5 0.1 7 2.9 2 1.6 10 1.5zM316 -74.4l1-2.1 1-0.5 3.2 1.5 0.5 1-3.7 0.5z"/><path fill="#00ffff" d="M200 81.6l-25-0.6-4-2.4-5-4.1-6-1-7-1.8-22-2.7-11 0.9-13-1.2-11-0.1-12 1.5-9 1.8-20-2.7-17 2.8-7-0.1-6 1-25 0 0-156.2 2.2 0.8 0.2 1-2 2 0.6 2.8 1 0 1.6-0.8 0.4-4 2-2.1 2.5-0.9 0.6-2 5.5 0-0.2 2 0.6 1.9 3 1.6 1-0.2 2-2.5 4.5-1.8-1.6-1 15.8 0 2.3 1.9 1-0.1-0.3-1.8 10.9 0 0.2 1-1.6 4 0.8 1.2 3 0.3 0.5 0.5 1.5 4.5 2 0.5 4-0.2 7 1.2 3.1-1-0.1-1.3-1-1-4-0.2-3-1.2-1-0.1-2 0.9-0.5-2.1 0.4-3-2.1-2-0.4-2 10.9 0 0.7 0.4 8.9-0.4 0.3 2 1.8 1.6 1 0.3 5-0.5 3 2.3 2-3.2 4 0.8 1 1.5 1 0 1.7-1.8 0.4-3 24.4 0 0.5 3.1 2 1.2 4 0.2 2 2.9 1 0.4 1-0.4 2-1.8 3 1.4 1.2 2-1.4 3 2.2 0.9 4-0.7 4 0.6 6-1.5 4 1.6 4.9-0.9 1.8-5 2.3-1.8 1 1.7 0.1 2.1-1.8 3 6.7 3.2 0.6-0.2 0.1-2 1.8-1-1.3-2-1.9-8-0.3-0.4-2 0.7-2 2.5-1 0-2-4.8 15.5 0 3.2 3 1.7 5-1.9 3-0.1 1 3.6 1.3 3.9-1.3 0-1-2.9-2-0.7-1 2.7-1.3 3 0.6 0.8-1.3-2.8-2.5-1.9-3.5 49 0-0.1 1.3 3.3-1.3 3.7 0-2.1 3-0.2 2 2.3 2.1 4-3.8-0.8-3.3 14 0 1.4 3-0.6 1-3.8 1 0.7 3-0.9 0.9-5 1.8-3.5 0.3 0 1 0.5 0.1 1.7-0.1 1.3-0.9 2 0.2 2.8 1.7 2.2 2.2 1 0 0.5-1.2-0.4-1 1.5-1-1.4-3 3.5-2 2.5-3 1.7-4 23.4 0-0.1 4-1.2 1.5-1 0.2-3-1.4-2-0.2-1.3 0.9-0.5 3-2.2 2.8-1-0.2-2-2-5.5 3.4 11.5 0.1 6-3.2 1.2 2.1 1.4 1 5 1 1.4 0.7 1 2.3 4 3 1 0.5 4 0.2 5 3.7 2 0.6 2-1.6 7-8.6 1.8-0.8 5.7-1 0.5-1-7.5-5 0-1 1.5-0.5 1.5-1.5 1.5-3 11 0 0.7 2 2.3 1.8 2.2-0.8 1.4-3 13 0-0.9 3 0.3 1.1 3 0.6 2 1.6 1 0.1 2.6-3.4 1.1-3 3.8 0 1.5 2.1 0 157.3-21 0-7 0.6-15 4-12 4.4-18 0.2-2.8-2.6-2.2-4.2-4-5.2-1 0.2-1-1.1-6 3.8-10 4.3-16-0.4-4 0.5-7 1.7-6-1.1-4 0-5 1-11-1.1-6 1.2zM210 -79.1l1.7-0.4 0.8-4-1.5-1.7-1-0.2-1 0.2-0.5 0.7-1.4 4 0.6 1zM223 -74.6l1.2-0.9-1.2-1.1-1.5 1.1zM231 -73.1l3-1.2 5-0.2 0.5-1-0.3-1-1.2-0.2-1.4 0.2-1.6 1.5-5-0.8-1.9 1.3zM270.6 -74.5l3.4 0.4 2.7-0.4-1.3-1-2.4-0.4-1.8 0.4zM348 -74.5l1.7-2-0.4-2-2.3-1.5-2-0.6-1-2.6-1-0.1-3 4.8 0.5 1 5.5 2.8zM358 -73.8l4.3-0.7 0-1-2.3-1.6-3 0.7-1.4 1.9zM260 -80.8l1.9-1.7-0.9-1.4-2-0.1-2 1.5 0.1 1 0.9 0.7zM16.5 -75.5l4.5-0.8 0.6-1.2-0.6-1.2-2-1.4-2.8 3.6zM37 -83.4l0-1.1-1-0.1-1.7 1.1 0.7 1 1 0.2zM47 -74.8l1-1.7 1.6-1-0.6-0.6-2.8 1.6-0.5 1 0.3 0.7zM84 -74l1.8-0.5-1.8-0.5-1.4 0.5zM98 -73.6l4.1-0.9-3.1-1.8-4-0.3-3-3.4-2.3 1.5-1.3 2 0.1 1 5.5 0.6zM123 -73.2l1.9-1.3-1.9-1.6-2 0.3-1 1.3zM131 -73.6l3.7-0.9-0.3-1-1.4-0.5-3 0.1-1.5 1.4zM147.4 -77.5l3-2-0.4-2.1-1-1.1-4-1.1-3.5-2.7 11.1 0 0.4 1.8 1 0.5 1-0.1 3.1-2.2 6.6 0-1 4-1.7 3.1-2 1.8-1 0.3-3-1.8-2-0.1-2.3 0.7-2.7 3.2-1 0-0.9-1.2zM136 -83.2l-2.6-3.3 6.5 0-2.9 3.5z"/><path fill="#32f096" d="M0 69.5l0-6.1 6 0.6 7-1 4.1 1.5 0.9 2 2 0.5 1.2-0.5 0.6-1-0.4-1 1.6-1.4 5 1.1 5-0.4 2.5 0.7-2.5 1-1.2 1-0.2 1-5.6 2.1-6-0.7-12 1.2-4-0.8zM187 78l-12-1.2-9-6.3-5.2 0-8.8-3.3-3 0-3-1.2-8 0.3-7-0.9-13 1-16-0.7-4-1.1-4 0-9 2.3-8 1.1-3-0.4-5 0.3-15-2.4-12 3-5.7-1 2.1-3 3.6-1.3 18 1.1 6-0.7 9 0.8 5-0.9 17 0.9 6-1 13 0.1 4 0.4 10-0.7 3 0.6 6-0.4 4 0.6 3-0.2 1-0.9 0-0.4-6-1.7-4 0.5-8-0.6-2 0.3-6-1.4-4 1.1-4-0.9-8 0.6-5 1-16-0.5-7-0.8-7 1.2-4-0.9-15 0.1-9 1.4-4-0.8-2 0.7-10-0.7-3 1-3-0.6-7 0-4-0.6-9 0.4 0-127.8 9 3.1 3-1.3 2 1.9 1-0.1 1-1.2 3.5-4.4 1.5-2.8 6 1.6 3.6 0.2 2.4 2.2 1 0.2 1.1-0.4 2.9-2.9 2-0.5 5.7 2.4 2.3 0.4 4-0.4 3-1.2 1.7 2.2-0.1 2 1.4 2.1 1.2-0.1 0.8-2 0.9-1 1.1 0 3 1.6 3 0.3 3 2.6 1 0.2 1-0.2 2-2.8 2-0.6 4.3 2.9 1.2 2 0.5 2.6 5 2.8 6-0.4 3 2.9 1-0.3 0.7-1.6 1.3-1 5-2.1 1 0.2 3 2.3 3-1 7 0.2 4 1.3 4-5.2 1 0 5 2.4 3-0.1 7 1.7 4-1.5 4 0.9 3-1 2 0.5 2-0.7 3 0.4 3-1.5 4-0.9 7 1.4 3-1.3 4.4 0 4.4-5 1.2-0.4 3 0.1 3 1 3 0 3 0.8 4 0.1 3 2.4 0.2 2 1.8 1.9 1 0 2-1.2 2.5-2.7 2.5-1.6 2 0.3 3 2.3 1-0.1 2-2.3 3-0.5 3-1.6 3 2.8 8 3.5 4 0 2 2.2 2 1.1 3.6-1.1 1.4-1.2 6 0.9 8-2.2 2 0.4 1-0.5 1.1-2.4 0.9-0.6 1 0.1 3 3 1 0.2 1.6-1.7 1.4-0.5 6 0 5-0.9 2 1.2 7-1 6 2.2 4 0.1 3 1.4 4-1.2 5 1.5 2-0.6 2-2.5 3-1.1 1 0 2 2.3 1.3 0.1 2.7-4.7 2-1 3-0.4 3 1.6 4-0.3 3 1.3 1-0.6 1-2.4 1-0.8 6-1.9 4 0.6 5 2.4 2-0.7 3-3.1 2-0.5 2 0.6 0 130-1.9 0.9 1.9 0.7 0 6.1-3.3-0.8 0.6-1-0.2-1-2.1-0.5-1.3 0.5-0.7 2-2 0.5-15.3 0.5-2.2-1-0.5-1.9-0.9-1.1-2.1-0.7-1 0.2-0.2 0.5 1.9 2 0.5 2-5.2 2.3-12 2.3-6.1 3.4-4.9 0.3-3.3-1.3-3.7-5.7-1-0.8-1 0.5-0.2 1 0 3 0.8 2-4.6 1.5-2 0-1 0-1-2.4-1 0-7-10.3-1 0.3-1-1.7-2 1-5 4.3-10 2.7-9 0-4 1-4-0.8-7 1.5-6-0.5-4 0.7-18-0.4-4 1-4-0.3-6 1-3.5 1.4-4.5 0.8-8 0.3-4-0.5zM216 63.8l6-0.6 1-0.7-2-0.4-5.5 0.4-0.2 1zM257 65.9l3-2 3-1.1 9 1.1 4-0.1 4 0.8 4-0.9 5-0.2 1.5-1-1.5-0.6-7 0.2-3-1.2-4 0-3-0.7-8 2-4-0.5-3-1.4-4 0.2-3 1.5-3-1-2 0.8-5 0.4-11.9 0.3-1.2 1 2.1 0.8 7-1 11 0.8 4-0.6 4.9 1zM308.5 72.5l0.4-2-0.9-1.1-1 0-1.1 1.1 0.2 2 0.9 0.7zM319 65.3l2-0.9 4-0.4 15 0.2 3.7-2.7-7.7-0.5-7 0.6-3-0.6-5 0-7.5 1.5 2.5 2zM348 63.1l2.8-1.6-5.1 0zM354 63.6l3-0.5 5 0.8 9 0 5.2-1.4 0.1-1-3.3-0.6-9 0.9-4-0.4-6.7 1.1zM64.1 -57.5l0.4-2-1.1-2-2.4-0.8-1 0.6-0.3 1.2 0.7 2 2.6 1.3zM87 -31.3l6-0.6 3-1.6 0.5-1-1.5-1.7-6-2.6-2 0.3-3 1.7-4 0-1.9 1.3 0.4 1 2.7 2zM159 63.8l6 0.6 9-1.4 2 0.6 4 0.3 2.1-0.4 2.9-1.7 5 2.1 8 0 3-1 5 0.9 4.5-1.3-25.5-1.1-4-0.7-5 0.1-3 0.7-2-0.4-4 0.1-3-0.8-3 1.2-6-0.3-2.4 1.2zM308 63l3-0.3 1.3-0.2-6.4 0zM250 -63.4l2-2.1 1-0.1 0.9 1.1-0.4 2-1.5 1.3-2-0.2zM170.9 -64.5l0.4 1-0.3 0.8-1 0.3 0-1.4zM330.5 -64.5l-0.4-1 1.2-2 1.7-0.5 1.4 0.5 0.4 2-0.8 1.6-1 0.7z"/><path fill="#64f064" d="M7 68.5l0.6-1 1.1 0 0.2 1zM293 61.7l-5-1.4-6 0.1-2-1.5-6-0.5-7 0.1-3 1.7-3-0.2-3-1.4-2-0.3-9 0.4-2.2 0.8-4.8 0.6-7-0.5-7 1.6-4-1.4-3 0.8-3-0.7-3 1.4-12-1.7-3 0.5-14-0.2-7-1.5-7 0.9-7-0.6-4 0.5-2-0.5-5 1.4-2-0.4-2 0.5-8-1.7-3 0.6-11-0.5-4-0.9-6 0.7-4-0.4-5 0.9-7-0.6-4 1.1-4 0-7-0.1-4-0.9-5-0.3-6 1.4-3-1.4-5-0.4-3 1.1-8-0.2-4 1-10-0.6-4 0.9-2-0.7-8 0.1-2-0.6-7 0.6-5-0.9-5 1.1-4-1.1 0-123 8.7 3.1 6.3 0.7 5-6.5 2-1.4 2 1.3 5 1.2 6 4.4 1.6-0.7-1-3 1.4-1.6 1.5-0.4 2.5 1.4 3-1.3 3.6 0.9 3.4 1.8 3 0 2.5 3.2 0.8 2-0.1 2 0.8 1.4 6 1.3 1.3-0.7 1.7-2.6 2-1.1 4.2 0.7 2.8 1.4 4 0.1 5.4 3.5 1.6 1.8 1 0.2 3-1.4 1 0.2 3 4.2 2 1.5 5-0.4 1-0.9 0.2-1.2-1.6-2 1.8-3 1.6-0.5 4 2.5 2-0.4 2-1.3 6 0.9 1.5 0.8 2.5 2.9 5 0.3 1-0.5 1-1.7 2-0.7 2-1.6 3 0.5 3-1.1 4 1.2 6-1.5 3-0.1 3 1 3-0.5 5-2.7 3-0.6 6 2.3 3-0.7 7-0.6 3-2.1 4.9 3.2 2.1 0.3 8-4.3 2 1.8 3 1.2 2 2.9 2 1.3 4-1.8 5-0.4 6-2 1-2.1 2 0 1-0.7 1-1.8 1-0.5 1.4 1.1-0.7 4 0.6 1 8.7-0.6 10 3.5 3-0.4 3-1.7 2 0.1 5 1.5 5-2.1 3 0.5 2-1.1 2-0.2 1.6 1.5 0.4 2 1 1.1 1-0.2 2.4-2.9 3.6-3.1 4-0.3 1.1 0.4 0.7 3 1 1 3.2 0.3 2.3-1.3 1.5-3 2.2-1 6 2.2 2-0.6 1.9 0.4 2.1 3.1 5 0.7 4-2.1 4-0.3 3-2.7 5 1.5 2-0.1 3-2.6 5 1.1 1.3-0.6 0.6-2 2.1-1.1 4 2.8 2.5 0.3 2.5-1.4 0.6-2.6 2.2-1 1.2-1.9 1-0.3 3 0.3 4 2.4 2 0.2 2-1 3-3.6 1.1-0.1 1.9 1 0 125.4-1 0.4-7-0.5-6 1-19-1.2-2 0.6-2-0.5-4 0.9-2-0.4-8 0.5-8.8-1.2-4.2 0.6-3-0.5-3.8 1.9-3.2 0.1-3 1-6-0.8zM91 -30.5l6.6-2 1.6-2-0.2-1.6-10-5-3 0.7-2 1.4-4 0.2-4 1.3-2-1.5-1-0.1-1.1 0.6 1.1 1.9 7 4.7 5 1.2zM289 54l0.4-1.5-0.4-8.2-1 0.5-1.3 6.7 0.3 2.2 1 0.6zM216 -58.5l0-1 1-0.7 1.6 0.7-0.6 2-1 0z"/><path fill="#c8ff96" d="M218.9 58.5l4.1-1.8 4 1.6 7-1.5 8 0.8 3-0.8 11-0.2 6 0.8 6-1.5 4 1 9-0.2 1 0.2 1.8 1.6 1.2 0.2 5-1.5 12 0.8 2 0.7 4-1.9 4-1 2 0.6 16 1.4 3-0.5 6 0.5 5-1.1 8-0.1 4 0.6 3-0.4 6 1.3 4-0.3 3-0.9 4 0.2 4-1.4 0-119.8-3 0.2-6.1 3.4-0.9 1.6-1 0.3-1.9-2.9-1.1 0-1.2 2-0.4 2-0.9 1-2.5 1.1-7-0.1-4-1.9-6 3.4-3-1.1-0.3 1.6-1.7 0.8-5-1.9-3-0.4-1.2 0.5-1.9 3-2.9 1.5-3-1-4 0.7-3-0.4-2-0.8-5 0.1-3-1-3 1.1-7 0.6-3 1.2-3-0.8-3 1.1-7 0.3-5-2-5.4-0.6-3.6 0.8-3 1.7-5-1.3-0.7 1.8-2.3 1-2-2-2.5-1-6.5-0.8-2-1.1-5-1-4 1.1-3-1.5-2-0.1-4 1-3 1.4-5-0.2-2.8 2.2-1.2 0.2-4-0.6-3-3.2-2-0.5-2 0.5-2-1.4-2 1.3-2 2.5-1 0.1-5.5-3.9-1.5-0.4-6 2.9-4 0.5-2-0.3-3 1-6-0.3-3-2.5-2 1.4-3 0.5-2 1.4-3-2.1-2-0.3-3 2.1-3.3 0.1-4.7 3.5-3-1.1-2 1.4-3-1.2-7 0.7-11-1.8-5.7 3.5-4.3 0.4-7 2.7-0.7 0.9 0.2 1 1.5 1.2 3.6 0.8 1.6 3-1.3 2-2.7 2-7.2 1.8-7-0.4-5-1.2-8-4.2-2.2-2 0-2 1.2-1.3 3-0.9 4 0.7 4-0.6 1-0.2 2-2.1 6-0.8 1.4-0.8 0.3-2-0.7-1.1-4 1.5-3-1.1-5-6.2-1 0.1-2 2.7-2-0.6-3-3.2-6 3.6-6-0.3-3-1.3-2-2.6-1-0.6-4 0.1-2-1.1-1.2-1.9 2.3-3-1.4-2-1.7-0.9-4 2.7-2.5 3.2-1.5 0.5-3-1.1-5-3.7-2-0.7-2.7 1-1.3 3.1-3 1.3-2-1.4-4 1.6-8-2.3-3.5 0.7-2.5-1.7 0 117.9 4 1.5 6-0.8 6 0.7 5-0.9 6 1.8 3-0.8 4 0.2 4-1 10 1 3-0.7 8 0.2 4-1.3 8 1.2 4-0.6 5 0.2 6 1.2 15-1.4 5 0.5 3-0.6 4 0.3 10-0.5 10 1.1 4-0.6 8 1.3 13-1.2 3 0.6 4-0.8 3 0.8 10-1 6 2.3 9-1.1 5 0.5 4-1.5 5 1.7 3-0.2 2 0.6 2-0.7 2 0zM252.2 -43.5l-2.2-0.1-2.8-2.9-0.5-1 0.3-0.8 1-0.4 1 0.4 2 1 1 1.1 0.7 1.7zM287 55.7l-1-2.2-0.1-3 3.1-12.3 1.2 8.3-0.1 9-1.1 0.7z"/><path fill="#ffff96" d="M24 55l-1-1.9-4-0.4-3 1.4-4 0-3-0.6-2-1.2-1.6 0.2 0.1 1-0.5 0.4-0.5-0.4 0.5-1-2-1.8-1-0.3-2 1.3 0-111.7 2 1.9 4-1.5 12 3.8 4-1.5 5-4.2 3 1 2.6 2 2.4 1 3 2.8 1 0.2 1-0.4 2-3 2 0 4 4.8 4 2.9 3 1.2 6-0.3 3 0.6 3-1.1 1-1 3-0.1 1.5 1.4 0.8 2-2.3 3.1-3 2-1.2 1.9 0 2 1.2 2.5 3 2.5 7.3 3 5.7 1.1 7 0.5 7-1.5 4.1-2.1 1.3-1 2.7-4 2.9-2.7 6-4.1 4-1.1 7 0.5 3-0.6 8 2 3-0.6 3-1.5 4-0.8 2-1.6 4 1.4 3-0.2 3-1.1 8-0.5 4 1.6 5 0.5 4.6-2.2 4.4-1.4 1 0 1 1.6 3 1.7 5 1.7 5-2.8 4-1 2 0.8 2 2.5 1 0.4 2-0.2 6-2.8 2 0.5 3 2 2 0.3 12-4.5 3 1.6 2 0.4 1.5 2.2 4.4 2 4.1 4.4 1 0.3 1-0.1 2-1.9 4-0.9 5-3.2 2-0.5 3-1.8 3-0.1 2 0.9 3-0.3 5 0.5 5-0.7 4 0.9 7-3.1 7 1.2 3-0.8 2 0.9 5 0.6 6-1 3 1.8 2 0 3.1-1.1 2.9-3.5 2-1.3 5 1.8 4-0.6 4-1.4 2-2.2 2 0.4 2 2.5 5-1.4 6-0.3 4-0.8 4.2-3.2 2.4-3 2.4-1.3 3-0.3 0 114.6-1 1.1-14 2.7-5-1.5-7.7-0.3-2.3-1.7-1 0.1-2 1.5-2 0.2-7-2.3-1 0.2-1 1.9-6 1.7-4-1.4-3 0.4-1.4-0.6-0.6-1.9-1-0.8-1 2.6-1-0.1-1.1-1.8-0.9-0.4-3 0.6-2-0.9-2 0.7-3-1.5-1 1.5-1.7 1-7.3 1.7-4-2.3-1-2.5-0.7-9.9 0.3-9-0.6-0.8-5 17.6-1 1.1-3.4 1.1-1.6 2.4-2.1 1.6-1.9 0.6-2-0.4-4-2.4-2 1.4-4-0.1-2-0.6-4.5 1.5-5.5 0.2-4-1.4-5 1.8-3-0.1-1.8-0.5-2.2-2.5-2-0.7-1.3 1.2-0.2 2-1.5 0.7-7-1.5-3 1.7-2 0.1-5-2.5-2 1.6-3 0.3-1.8-1.4 2.4-3-0.3-1-1.3-1.1-1 0-3.4 1.1-1.3 2-2.8 2-0.5 1.1-3-0.5-1-0.8-3 0.1-0.5 1.1-1.8 1-2.7 0.5-1-0.1-1.5-1.4-0.5-2.2-5-2.4-2 0.4-4 3.6-1.6 0.6-3.3 0-0.9-2-1.2-1.2-2.8 1.2-0.6 2-0.6 0.3-3-1-4 0-5 1.8-4-0.5-3-1.2-2 0.1-3-2-3 1.1-1-1-1 1.4-1 0-4-1.8-2 0.1-3 1.7-4 0.5-3-1-3 0.6-5-1.4-3 1.1-4-0.3-5 1.2-2-0.5-4 1.2-6 0.7-6-1.5-3-1.7-3 1.8-4 0.2-2.2-1.9-0.8-2.2-2 1-1-0.4-3 0.7-1.4 0.9 0.9 2-2.5 0.7-6-2.2-1 0.9-4 0.7-6-1.1-2 1.2-5 0-4 1.7zM134.7 50.5l-0.3-1-0.5 0-0.4 1 0.5 0.5zM18.1 -51.5l-0.1-1.4-1.3 0.4 0.7 1zM76 -43.8l-1.4-2.7 0.4-0.5 4-1.2 0.4 1.7-1.4 2.2-1 0.7z"/><path fill="#ffc800" d="M81 51.6l-4-1.4-2-1.8-2-0.2-4-1.4-2.1-1.3-0.9-1.3-1-0.3-5 1.7-3-0.2-3 0.8-1.5-0.7-1.5-2.1-6-1.4-1.4 1.5 0.2 3-0.8 0.7-6-1.6-4 1-3-1.3-2-0.1-4 0.4-7 2.1-3-0.3-5 1-7-2.4-1 0.4-1 1.3 0-100.6 5 1.1 2 2.3-0.4 1-3.6 2.9-1.8 0.1 1.8 0.1 3 2 4-0.7 4 0.2 2.1-0.6 1.9-1.7 0.9-2.3 3.8-2-0.3-2 0.6-0.4 2.1 1.4-0.4 1-1.5 1 2.8 1.2 2 2.4 1 0.3 1-0.9-0.1-1-1-2 1.6-2 0.1-1-0.7-2-2.8-2 0.9-0.8 4.8 1.8 2 3 2.2 1.4 3.1 4.6-1.1 2 1.2 1 0.8 4 3 1.7 6 1.2 2 1.6 1 0 2-0.6 1.8-1.9-2.8-4-2 0.3-5-0.7-2.6 0.4-0.1-1 1.7-3.1 1-0.7 1 0.1 3 1.1 4 0.5 4 2.7 2-0.7 1 0.2 0.9 0.9 0.5 2 1.6 1.2 2 3.4 4 3.1 10 2.7 12 1 12-3.9 3-3.7 3-1.9 2.5-2.9 2.5-1.5 2 0 3 1 4-1.3 2 0.6 2 1.6 4 0 12-3.1 3 0.6 2-0.3 4 1.3 1-0.4 1-1.6 5-1.3 3 1.7 2 0.5 4-1.1 6 2.7 1.2-0.4 1.8-1.9 3-1.7 2-0.6 4 2.1 2 0 3 1.2 4 0.4 3-1.5 2-0.3 5 2.6 5-0.3 2-2.1 3-1.1 6 3.2 3 0.1 4-2.2 5-1.4 5 3 2-0.4 4 2.4 4 3.7 3 0 1.8-0.2 2.2-1.2 3-0.3 2-1.5 1-2 5-1.7 1-1.2 9 1.5 7-0.7 3 0.4 3 1.2 4.9-3.5 2.1-0.5 3 1.5 4 0.7 2-0.4 1 0.4 0.2 1.3 0.8 0.9 1 0.1 2.1-2 4.9-0.9 6 0.8 6-0.5 2 0.4 3-0.6 3-2.2 8-1.9 3 1.5 2 2 4 2 1.9-0.6 4.1-2.7 3-0.2 6 2.7 4-0.3 4.3-1.5 1-2-0.3-1.1-2-1.1-3 1.6-4 0.1-1.4-0.5-0.3-1 0.7-1 2-1 5-0.5 2.3-1.5 0.8-1-1.8-3 0.2-1 1.5-1.5 2-0.5 0 108.8-2 0.2-2 1.3-8-3.2-2 1.1-3-0.7-3 1-3-0.2-2-1.3-2-2.6-1-0.1-4 2.9-1.7-1.2 1.9-2-1.2-0.8-2.2 0.8-0.5 1 0.3 1-0.6 0.9-1 1.2-2 0.7-4-1.7-1-0.1-2 1.2-3-4-2-0.2-1.8 2-0.3 3-1.6 2-1.3 0.5-0.8-1.5 1.9-4-1.1-0.9-6-0.1-3.3 2-0.7 1.8-1 0-1-1.3-2.3-1.5-1.7-0.3-2 0.4-3 2.9-3-0.2-4-2.7-3 0.5-1.2-1.6-0.7-4 0.7-16 1-6-3.8-4.2-2-1.3 0 0.8 2.9 3.7 0.4 7-0.9 5-3.4 11.8-1 1.8-6-1.5-5 1.3-0.8 0.6 0 1 1.9 1 0.6 1-0.7 2.2-3-1.3-4 0-2-0.7-4 1.1-4 3.1-1 0.1-3-1.7-3 1.3-3.3-2.1-0.7-2.6-1.3-2.4-0.9 0-1.8 2.7-1 0.5-3-0.2-3 1-3-0.8-4 0.9-4-0.9-2 0.9-1-1-4-1.5-1.2-1.6-1.8-0.6-1.9 0.6-4.1 2.9-4-0.8-5 2.8-9-0.9-3 2.1-1 0-2-4.5-4 0.7-2-0.3-4 0.8-2.3-2.8-3.7-2.6-1-0.1-2.9 0.7-2.1 1.9-4 1.4-1 0.1-1.2-1.4-1.4 0-1.4 2-4 1.3-0.5 0.7 0.1 2-0.6 0.8-4.9-2.8-2.1-2-7 0.1-3 1.2-3 0-3.1 1.7-1.9 0.3-2-1.3-2-0.2-6-2.7-3 0.9-0.3 3-1.7 0.7-4 0.6-1.4-0.3-1.1-1-0.5-1.6-1-0.6-4 1.3-1.9-1.1-1.1 0-4 0.5-2 2.8-1 0.4-2 0.1zM307.4 -41.5l-0.4-0.3-0.4 0.3 0.4 0.7zM7 -49.5l1.4-1 2.6-0.4 1 0.4 0.3 1-1.3 1.3-1 0.1-2.9-0.4z"/><path fill="#ff8200" d="M197 42.3l3 1.6 1-0.7 1.3-1.7 0.7-2.2 1-0.4 3 1.1 2-1.3 2-0.5 4 2.5 8-0.3 2 0.4 6-2.4 2-0.1 2-1.8 3-1.4 3 0.3 2 2.2 5 1.7 1 0 1-0.8 0.5-2 1.5-0.8 2.7 1.8 1.3 3.3 2 0.3 4-0.5 3 0.8 2 1.6 1 0 3.4-2.5 1.6-2.3 5 0.3 2-2.4 2-0.7 3 0.4 1-0.5 1-1.7 1.5-4.1 0.7-4 0.2-7-5.4-7.7 0-1.7 5 4.4 4.6 5-1.6 18 0.9 6 1.1 0.9 1.3-0.9 0.7-1.3 5-2.9 5 2.3 3-0.1 2 1 8-0.6 3 0.6 3-1.1 2-2.8 1-0.3 7 1.7 5-0.8 0.9 3.3 1.1 0.3 4-1.3 2-2 3-1.2 5 3.9 3-0.5 7 2.7 2-0.8 2-3.3 1-0.5 3 0.2 2 1.3 1 0 3-1.9 0-78.6-2-0.1-2-1.9-2 0.7-0.7 2-2.3 0.2-8-4.2-3 1.7-2 2.3-3 0.8-4.6-0.8-2.4-2.8-4-1-1.4 0.8-1.6 3.1-5 1.9-8-2-4 2-1-0.1-6-2.1-4 1.7-2 2.4-4-1.1-4-2-2-2.1-3 0.2-3-0.6-2 1.8-3 0.5-6-1.5-2 0.6-3-0.5-10 1.2-2-1.3-1 0-1.2 0.9-0.3 3-0.5 0.6-3 0.6-5 3.1-3-1.6-4-0.2-2-1.5-4-0.4-3-1.1-0.9-0.5-0.1-1-2-2.6-1-0.3-5 0.5-2 1.4-5 1.5-3 0.1-3-1.7-1 0-9 2.5-5-0.6-2-2-1-0.3-3 1.5-7-2.4-4 1-5-1.1-6 2.8-4-1.2-8 1.5-3-0.8-2 0.9-5 0-3-1.9-6-0.2-3 0.2-4 1.4-6 1-6-1.4-7 1.5-2-0.4-6 3.7-2 3-3 0.9-4 0.3-8 2.5-8-0.4-14-2.6-7-3.7-3 1.5-3-0.3-5 1.4-3-1.2-2-1.6-5-1.4-5-0.2-3-2-2 0.1-5-4.1-5-0.6-2-1.5-4 2.5-6-0.9-5 2.1-3-0.8-3 1 0 78.5 2-0.1 2.5-2 1 0 1.6 2 0.4 2 1.5 0.9 3.4-0.9 1.6-3.2 0.7 0.2-0.5 2 0.8 0.6 2 0.1 2 1 2-0.6 3 0.4 4-1.5 3 2.3 4-1 1-1.7 2-1.2 3 0.1 2 0.9 3-1.1 4 0.9 2-0.1 2 3.3 3 0.1 5-1.4 4-0.3 1 0.1 2 2.1 1 0.3 5-2.6 4-1.1 1.4 2.4 4.6 0.7 1-0.5 2-3.3 3-1.4 1 0.2 2.6 2.3 0.4 3.1 2-0.8 3-3.3 1 0 5 2.7 3.2-0.7 2.3-3 1.5-0.5 4 0.4 3 1.9 2 0.6 5-1.8 4 2.1 2 1.8 4-0.8 4-2.2 1 2.1 3 1.3 3.5-1.9 0.8-2 0.7-0.3 1.5 0.3 2.5 1.8 1 0 3-1.5 3 1 5-2 7-0.7 2 0.9 1.2 3.5 1.8 1 5-0.7 4 1 2-1.5 1-0.1 4 1.5z"/><path fill="#ff4600" d="M185.3 38.5l-3.3-2-1-2.6-2-0.4-2-1.2-2 0.2-2-3.2-3 0.8-1 2-3 1.6-3-1.3-5 1.7-3-0.7-4 1.3-5 0.7-2-0.7-2-2-5-0.2-1.3 1-0.5 3-1.2 1-6-2.5-5 1.4-3-0.1-4-3.2-1-0.3-2 0.9-4-0.2-8-4.3-1 0.2-1 2.3-1 0.7-2-0.2-3 1.8-2-0.2-3 1-1.5-0.3-0.5-0.7 0-2.3-4-1.5-1 0.2-2 2.8-4 1.5-2-2.8-5-1.3-3 1.6-3-0.1-2 1.6-2-0.1-2-1.3 0 1.4-1 0.6-2-0.4-3 1.5-4-1.4-3 1-3-0.7-1.8-0.6-0.2-1-0.3 2-1.7 0-3.2-5-2.8-2.5-2-0.9-2 0.2-2 1.3-2-0.1-5 4.9-2-0.3-2 0.7-2-0.8-3-0.2-3 0.8-5-0.7 0-67.8 3-1.9 1 0.2 2 1.9 2.1-0.8 1.9-2.1 3 1.1 6-0.5 2.5 0.5 4.5 2.6 2-0.7 2 0.5 4-0.2 3 1.2 2 1.7 4-0.2 13 3.6 7-1.2 3 1.2 4 0.7 4-0.2 16 2.5 5-0.3 6-2.3 7 0.8 6-4 5-1.2 2-2.1 5-0.8 4 1.2 3-0.2 3 0.8 2-0.3 4 1 1.2-0.1 3.8-2.3 0.6 0.3-1.5 1 0 1 5.9 2.7 7-3.6 2 0.2 2.1 1.7 2.9 0.5 0.9-0.5 0.2-1-0.6-1 0.5-1 5-0.5 3 1.4 4-1.6 3-0.6 7 0.4 2-0.7 3 0.9 2 1.5 4-1.3 3 1.8 7 0.9 3-1.2 2-0.1 2-1.1 7 1.7 6-0.9 3-1.2 1.7 0.6 1.3 2.3 1 0.5 3 0.7 2-0.2 6 1.4 3-0.4 3 3.9 3 1.3 1-0.8 3-4.7 3-0.8 3-2 2-0.2 3 1.4 2-0.1 9-3.6 1.5 0.3 0.2 1 1.3 1.2 5-1.6 2 0.2 3-1 6 2.1 3-0.4 6 1.7 2-0.6 3-2.4 7 2.1 6-1.1 3 0.2 4 2.9 3-0.4 1.2-0.9 0.8-2 2-0.4 2-1.7 1-0.1 2 1.1 4 0.1 2 0.8 9-2.1 4 1.9 2-1 4 1.7 5-1.2 2 0.9 0 65.7-4 1.6-1 0.4-2-0.5-3 0.8-2 1.9-3 0.9-7-2-2 0-1 0.7-2-0.9-1 1-5 0.6-2 1.5-1 0-4-1.1-3 0.6-4-0.1-2-1.4-5-1.6-2 0.6-1 1.9-1-0.5-0.7-1.1 0.6-3-0.9-0.7-1 0-6 2.5-4 0.1-3-0.8-2 1.2-2-0.2-3 1.9-2 0.2-1 1.5-1-0.1-0.5-1.6 0.9-2-2.4-3 0-8 0.5-3-7.9-9-2.8-7 0-4 2.3-6-0.1-1.2-1-0.9-1 0.2-0.4 0.9-2.6 9.6 1.7 9.4 5.4 7 0.4 2-0.5 7.3-1 2.1-1.9 0.6-1.1 1.8-4-0.5-4 1.6-0.3 1.1-1.7 1-3-1.1-1 0.3-5 2.5-2 2.2-1 0.2-1-0.1-5-3.4-1.9-3.6 0.5-3-1.6 0.2-0.2 2.8-1.4 1-4.4 0.1-3 1-3-1.9-1.1-2.2-2.9-1.6-6 3-3.1 2.6-0.9 1.7-1 0.4-2-2.7-2-0.7-3.8 0.3-1.2 1.6-1-0.1-1-1.3-2-0.7-1 0.4-3-1.2-5 0-3 1.4-3 0-4 1.3-2 0.1-1.8-0.5-1.2-2-1-0.2-1.6 1.2-0.5 5zM250 24.7l0.1-1.2-1.1-1.3-1-0.3-0.9 0.6-0.2 1 1.1 1.3 1 0.5z"/><path fill="#ff0000" d="M86 23.5l2-0.2 1.3 1.2-1.3 0.7-1-0.3zM164.3 23.5l-0.2-1 0.9-0.8 1-0.1 2.8 2.9-0.6 1-1.2 0.5-1-0.4zM257 22.3l1-1 0.8 0.2 0.2 1-1 1.4zM296.8 20.5l1.1-2 1.1-0.1 1.1 1.1 0 2-0.6 1-1.5 0.3-1-0.5zM221 16.2l1.2 1.3-0.2 0.8-1 0.5-1-1.3zM121 28.9l-3-0.8-1-1.8-3-2.8-2-0.3-2.2 1.3-0.2 3-2.6 0.8-4-5.8-4-2.4-2.5-0.6-0.2-4 0.8-3-0.5-2-1.6-0.5-1.3 0.5-0.7 1.3-1-0.1-0.8-3.2-1.2-1-2.3 1 0 1 1.7 2 0.6 3.6 1 0.2 2-0.7 0.6 0.9-1.6 1.7-0.5 1.3-0.5 0.6-3-1-6 0.3-1-0.6-1-2.5-1-0.9-1-0.1-0.9 1.2 0.5 2 4 4-1.2 1-2.4 0.3-0.8 0.7-0.3 2-0.9 1.5-1 0-3-1.8-3 0.3-2-1.3-2 0.2-4.8-1.9-0.5-1 4.1-3 0.6-2-1.8-1-2.6-0.4-1-2.2-2.3-1.4 0-3-0.7-1-1 0.1-2 3.8-3.5 3.1 0.5 1.1 4 1.4 0.9 1.5-0.4 2 0.3 4-0.3 1-1.5 1.6-4-0.9-5 1.6-1 0.8 0.2-2.1-0.6-1-4.9-2 0.1-2-1.6-2-0.3-2-1.9-1.6-1.3 0.6-0.5 1 0.1 1 1.7 2 0.6 2-0.3 1-1.3 1.1-1 0-1.2-1.1-2.8-1-6-1.1-2 1.2-3-1-2 1.1-2-3.2-1.3-1-0.3-2-1.4-0.9-0.5 0.9 0.4 2-2.2 3-0.2 2-4.5 1.8-2 0.2-1 0.7 0-58.6 7 1.8 2-0.4 2 0.7 4-0.5 2 1.1 5 0.7 3-1.1 1 0.2 2 3.7 1 0.9 1 0.2 1.3-0.4 1-1-0.7-3 0.4-1.2 1-0.5 3 0 3 2.9 10-0.7 2 0.4 3 1.8 5.1 1.3 0.9 1.2 3-1.5 4 0.5 7-1.5 10 1.7 3 0 5 1.6 3-0.1 5-2.9 2-0.6 3.3 0.6 5.7 2.9 1-0.6 7 2.7 2.1-5 0-4 1.9-1.7 3-0.4 2.7 2.1-1.5 2-0.2 1 1 0.8 1.4-0.8-0.2-2 3.8-1.5 2 1.2 3-0.9 2 0.6 5 3.2 4 0 3-1.2 4 1.3 2-1.3 1.6 0.6 0.4 1.5 2-1 6 1 4-0.2 2-1 3 0.2 2-1.8 2 1.3 3 0 0.6 2 2.1 1 0.3 2.7 1 0.2 1.7-0.9 1.3-3.8 1 1.6 1.8 1.2 1.2 2.2 5-1.2 1-0.6 1.1-2.4 0.1-1-1.2-0.8-5-1.4-0.9-1.8 0.9-0.7 3-0.3 2-0.8 1 0.2 2.2 1.6-0.1 2 0.9 0.5 4 0.2 3 1.4 1-0.5 1-2.8 0.8-0.8 5.2-1 2 2.4 3-0.5 1.3 4.1-0.5 1 0.4 2 1.8 1.1 2-0.3 1.1-1.8 2.9-0.3 5-3.7 4 0.3 5-0.4 0.3 1.1-0.6 2-3.6 1-1.1 2.8-1.8 1.2 0.1 1 2.7 3.2 3 1.2 3 0.1 2 1.9 6 3.6 1-0.1 1-2.1-0.1-1.8-1.1-2 0.2-1 1-1 3 0.5-0.6-4.5 0.6-1.1 2-1.6 1.4-5.3 1.6-1.4 2.8 0.4 3.2 1.5 1-0.2 2-2 3 0.8 3-1.2 1 0.2 3 2.4 2 3.4 3.2-0.9 2.8-2.6 1-1.9 1-0.5 4 1.4 2 2.4 2-0.7 1-2.1 3-1.3 3 1.4 5-1.6 2.9 1.5 0.8 2 1.3 1 1-1 0-2.2 1-0.7 2 0.1 3-1.1 1 0.1 5 2.7 3-1.3 5 0.9 2 1.6 2 0.5 3 2.1 4-2.5 1.7-2.2 4.3-2 3 1 2 2.7 2 0.6 2-1.6 3 0.1 1.5-1.8 4.5-2 2-0.2 0 57.1-1 0.7-5-1.4-2 0.6-1-2-1.6 0.2-0.2 1 1.3 1-0.1 3 0.6 0.7 1.5 0.3-1.5 0.7-5-2.1-2 1.6-1 0.1-2-1.1-4-0.4-0.9-0.8-0.1-3-1-1.1-4 0.8-3-0.4-0.5 0.7 0.5 1 1 0.2 1-0.9 1-0.1 0.3 0.8-1.1 3-2.7 1-0.6-1-2.3-1-0.7-1 1.1-2.4 1.7-1.6-0.7-2-1-0.2-1.9 1.2-1.1 1.5-2-0.2-3 1.7-3 0.1-5 3.5-1-0.6-1.1-4-0.9-0.8-9 0.6-3-0.5-3.8-3.3-1.2-1.9-2 0.3-5-3.5-4-0.7-5 0.1-1.5-1.3 0.1-2-1.9-3-0.4-4-2.3-0.2-1.3-0.8-0.3-3 1.3-3 0.6-4-0.3-1-2-0.7-2.6 0.7-2.9 10-0.2 3 1.7 3.4 0.5 3.6 3.8 5-0.6 3 1.6 2 0 1-2.3 1.5-2-1-1 0.2-1.1 1.3-0.9 2.6-1-0.2-3-3.1-2.6-1.3-3.4-3.6-1 0.8-0.6 1.8 0.6 2-2 1.3-5-3.1-1-0.1-1 0.7-2-4.2-1-0.4-2.3 0.8-1.7-2.4-1-0.5-2 1.1-3 0.4-0.8 2.4-3.2 3.4-3-0.7-2 1.5-4 0.2-4 2-1 2.2-3 0.6-0.8-1.2 0.4-1 1.4-0.9 3-0.7 1.2-1.4-0.2-1.4-2.3-1.6-0.2-3-0.8-1 0.3-1.1 4.3-1.9 0.6-1-0.7-2-1.2-0.4-6 0.7-4 1.3-1.7-1.6-3.3-1.5-4-0.7-0.5 1.2 2.4 4 0.5 9-1.4 1.5-2.8 0.5-0.2 2.5-2 0.5-3 2.1-1.5-0.1-1.5-1.5-2-0.5-2.8-2-0.6-1-0.1-3-3.5-3.4-2-0.2-4 0.1-1.5 3.5-4.5 2.2-3 0.3-1.3 1.5-1.7 0.6-1.4-0.6-2.6-4.5-2 0.2-2-1.6-2 1.4-2-1.9-1 0.1-1 1.4-0.4 2.9-1.6 1.1-1.1 3.9-0.9 0.9-1 0.3-2-0.5-6 3.3-1-0.1-4-2.1-5 0.5-3 1.2-2-1.4-4-0.9-2 1.8-3 0.1zM140 17.9l4.4-1.4 0.5-2-0.9-0.8-2 1.6-2.1 0.2-0.9 1zM154 12.8l0-0.9-1-1.1-2 0.2-3-1.8-1.6 0.3 1.3 3 1.3 0.8 2-0.2 1 0.7 1 0zM159.4 -13.5l-1.4-1.1-1.8 0.1 0 1 0.8 0.3 1 0.3zM174 -8.6l2-2.9 0.1-1-0.2-2-1.9-3.6-1.6 2.6-2.4 1-1 3 2.1 3 1.9 0.4zM175 12.1l1.4-1.6-0.4-1.6-1-0.5-1.7 1.1-0.3 1 0.6 1zM185 6.8l2 0.3 0.8-0.6-0.1-1-1.7-1.7-3.5 1.7-0.6 1 0.3 1 0.8 0.3zM202 -13l-0.3 1.5 0.3 0.3 0.7-1.3zM206 9.1l0-0.7-2.4 1.1 1.4 0.3zM211 16.1l-1-0.4-0.2 0.8 1.2 0.1zM227.8 -0.5l1.6-2-0.1-4 0.8-2-1.1-0.6-2 0-3 1.6-1.3 3 1.6 2 0.7 2.4 1 0.3zM240 17.8l0.5-1.3-1.5-1.2-1 0.1-1 1.1 0 1.4 1 0.9zM249 1l1.2-1.5 0.1-1-1.3-1.9-4 2.9 1 2 1 0.7zM253 4.9l-1.3 0.6 1.3 1 0.3-1zM265 8.3l0.2-0.8-1.2-2.8-2.1-0.2-0.6 1 1.6 3 1.1 0.4zM273 8.9l3.4-1.4 0.1-2-1.5-1.2-2-0.3-1.5 3.5 0.1 1zM291.6 -0.5l-1.6-1.7-1.4-0.3-0.3 1 0.7 1.4 1 0.5zM307.5 -11.5l0.4-1-0.9-1.1-2 0.1-0.6 1 0.6 1.2 1 0.5zM329.2 19.5l0.5-2-2-3-1.7-0.9-0.5 0.9 0.7 4 0.8 1.2 1 0.4zM332.8 13.5l0-1-0.8-0.9-1-0.1-1 1 0 1.4 1 1 1-0.1zM335 -10.9l-1-0.9-1 1.3 1 0.8zM337.3 15.5l-0.3-2.5-1-0.6-1 0.4-0.6 1.7 0.4 1 1.2 0.5zM340.1 0.5l0.9-0.7 2 1.3 1.8-0.6 0.1-1-1.9-3.3-1 0.1-1 1.5-2 0.4-1.4 1.3-0.1 1 0.5 0.2zM363 16.4l-0.3 1.1 0.3 0.6 0.5-0.6zM30.7 6.5l-1.7 0 0 1.9 1-0.2zM35 6.4l0.5-1.9 2.5 0.1 1.2-1.1-1.2-1.9-2 0.4-1.6 2.5-2.6 1 0.3 1 1.9 0.8zM54.4 -3.5l-1.7 0 0.2 1 1.1-0.3zM68.2 13.5l0.8 0.8 0.4-0.8-0.4-0.3zM74.5 9.5l0.2-1-1.4-2-0.7-3 4.1-3 0.3-1-1-1.5-3 1.2-2 3.3 0.2 2 1 2-0.5 3 1.3 0.9zM80 -3.5l-3-2.1-1 0.1 1 1.7 1.7 1.3zM97.6 -17.5l0.4 0.5 1-0.5-1-0.5zM107 13.5l1-3-1-2.3-2 0.4-3.3 3.9 0.5 1 2.8 1.4 1-0.2zM151.9 0.5l-0.9-1.1-2 1.1 0.3 1 1.7 0.5 0.8-0.5zM173 -20.5l0.5-2-1.5-0.2-1.7 2.2 1.7 0.8zM187 -2.4l-1 0.9 1 1.2 0.4-1.2zM210 -10.2l-1.1 0.7 1.1 1.1 0.9-1.1zM107 -0.7l4-0.5 2-2.3-0.4-1-2.6-1.4-5.1 1.4-0.9 1.1 0 2 1 1.5z"/><path fill="#7d0a0f" d="M129 19.8l0.1 1.7-1.1 0.3-0.8-2.3 0.8-0.4zM109 18.4l1-4 1.3 0.1 0.5 1-0.3 2 1.2 2-0.7 0.7-1 0zM1.7 14.5l-0.6 1-1.1 1.3 0-3zM20 12.5l-1 0.2-0.6-0.2 1.6-1.5 0.7 0.5zM19.6 7.5l4.4-1.6 0.6 0.6-0.1 1-2.5 2.6-1 0.3-1-0.6zM80 4.6l1.1 0.9-0.1 3-1.9-2 0.1-1zM128 1.5l1 1-1 1-1.5-1zM1.1 1.5l-0.1 1.1-1 0.3 0-2.4zM46.8 -1.5l1.4 1 0 1-1.2 1-0.6-2zM113.9 -11.5l0.7-2 0-3 1.4-0.5 1.1 0.5 1.3 2-0.2 3 0.5 1 2.3 0.4 0.1 0.6-1.1 1.4-2 0.3-2 1.2zM29.9 -3.5l-0.9-1.1-1 0.7-2-0.6-4 0.6-2 1.9-3-0.1-2.3-2.4-0.1-3-0.6-0.8-2-0.5-2 0.3-1-0.3-1-1.3-1-0.1-2.1 1.7 0 1 2.1 2.4 1.2 0.6-0.2 0.7-1-0.4-3 1.5-2 0.1-2-1 0-8.6 1-0.7 1-2.5 1-0.4 2 0.3 1.3-2-0.8-2 0.3-1 2.2-0.8 4 2.3 2-0.5 2 0.7 2-1.7 4 0.5 3 1.4 2.6-1.9 3.4-1.2 2 1 3 0.3 1-1.1 3 2.3 3 0 1-1.7 1-0.1 0.8 1.5-1.2 3 0.5 1 1.9 0.5 1-0.5 0.3-1-0.1-2-0.7-1 0.5-1.3 1.4-0.7-0.4-2 2 0.5 1.3 2.5 1.7 1.3 3-0.7 1.2 0.4 0.1 2-1.1 2-1.2 0.6-2 2.8-2 1.6-2 3-1 0.3-2-1.3-2-3.6-3.1-2.4-3.9-1.3-4 1-1.6 4.3 0.6 4-0.3 1-2.7 4.6-2.4-0.6 0.4-1 1 0.1zM28.8 -16.5l0.2 1.6 1 0.5 0-2.1zM81 -7.5l-0.1-2 1.1-3-0.4-2 2.2-4-0.2-1-2.4-2 1.8-0.9 1 0.1 3 2.9 3-0.8 2.7 4.7-0.4 2-1.3 1.5-3 0.8-3-1.4-1 0.1 1.1 6zM78.3 -16.5l-0.5-1 1.2-1.6 1 0.1 1.5 1.5-2.8 2 0.8 1-0.2 1-2.3 1.2-0.7-2.2 0.7-1.4zM65.3 -16.5l-1.3-3 0.1-1 0.9-0.8 2-0.2 3 3 3.8-1 0.5-2 1.7-1.2 3-0.1 1.8 1.3-3.3 1-1.2 2-1.3 0.1-1 0.9-2 3.4-3-0.1-0.9 0.7 0.3 1-0.7 1-1.1 0-1.2-1zM131 -22.8l1 1.3-0.4 1-1.6 0.2-1.2-1.2 0.2-0.6 1-0.7zM146.9 18.5l2.1-1.8 5-0.1 1.1 0.9-0.2 3-1.9 2.2-5 0.7-1.3-0.9zM189 11.8l-0.9-0.3 0.9-1.1 0.5 0.1zM214 -1l1 2.3-1 0.5-1.1-1.3 0-1zM134.5 -2.5l0.3 1-0.8 1.4-1 0.6-1-0.7 0-2.7 1-0.5zM158.9 -4.5l2.1 1-0.2 1-1.8 0.3-2 2.4-0.7-0.7 0.3-3 0.4-0.8zM253.4 -4.5l0.6-0.7 2 0.4 1.4 2.3-0.4 0.3-3-0.8zM178.5 -8.5l2.5-0.3 1.8 1.3 0.1 1-0.9 1.2-2 0.4-2.4-2.6zM268 -6.5l-0.6-2 0.6-0.8 0.7 0.8 0 1zM144.1 -12.5l0.3-2 0.8-1 3 0 1.2 1-1.6 2 0.5 2-1.3 1.7-2 0.1-1.7-0.8-0.4-1zM140.3 -15.5l0.5-1 0.6 0 0.3 1zM231 -13.8l-5.5-2.7 1-1 4.5-1.2 1.6 1.2 0.1 1-0.7 2.3zM179 -18.1l0-3 1 0 3.5 1.6 0.2 1-0.7 2.4-1 0.1zM140 -23.5l1 0.9-0.3 1.1-0.7 1-2 0.6-0.8-0.6zM374.2 17.5l0.2-1 1.6-0.5 2-2.8 2-1.1-0.3 8.4-2.7 0.2zM353 14.7l1-6.4 3-1.6 1.9 0.8 0.3 2-0.6 2-3.6 4.1-1 0.3zM311 9l0.9 1.5-0.9 0.8-2 0.6-1.4-0.4 0.4-1zM294.8 4.5l1.2-1.8 5.2 1.8 0.6 1-0.8 1.4-4 1zM309 0.6l2-0.8 1.1 0.7-3.1 4.5-1.6-1.5-0.2-1zM317.1 -1.5l0.1 1-1.2 1.6-1 0-0.5-1.6 0.5-1zM269 -3.7l4-0.4 1.1 0.6-4.1 1.3-0.7-0.3zM364.6 7.5l-1.1-2 1.4-2-0.6-5-2.2-1-1.1-1.4-2 0.5-1-1.5-3-0.6-2-2.1-2.2 0.1-1.2-1 0.2-2-0.8-0.7-5-0.8-3-1.2 0-1.6 2.9-2.7 2.1-1 3 1.9 3 0.9 1-1.4 2 0.3 2-1.8 3-1.6 3 0.2 4 3.9 1 0.2 3-1.1 1.7 0.5 0.7 1 0.6 2.7 1 0.7 5 0 0 16.8-7 2.9-4 3.8-1-0.2zM377.6 -1.5l0.4-2-1-1.2-3 0.1-0.8 1.1-0.4 2 1.2 0.9zM277 -9.4l1.8 0.9 0.2 1-1 3.3-1 0.3-1.1-0.6-0.6-1 0.9-3zM294.8 -8.5l0.3 1-1.1 0.1-1.2-1.1 1.2-0.4zM317.3 -10.5l-0.4-3 1.1-0.7 1.2 1.7-0.1 1-1 1-0.3 2-1.8 1.3-0.3-2.3zM274.7 -11.5l-2.2 0 0.6-1 1.3 0zM289.5 -12.5l-1.5 1.1-1.4-0.1-0.1-1 0.5-0.2 2-0.2zM283.1 -14.5l-2.1 0.1-0.4-1.1 1.4-0.4zM270 -17.4l0.6-4.1 0.5 0 1 2 1.5 1-0.6 1.3-2 0.7z"/></g>
<g id="gd"><rect x="0" y="-86.5" width="380" height="169" fill="#8200e1"/><path fill="#a000c8" d="M0 82.5l380 0 0-169-380 0z"/><path fill="#1e6ef0" d="M0 82.5l380 0 0-169-380 0z"/><path fill="#00ebf5" d="M0 82.5l380 0 0-169-380 0z"/><path fill="#73f073" d="M0 82.5l380 0 0-169-380 0zM87 -35.5l-2.3 0 1.3-0.3zM355 9.7l0.6-1.2 1.1 0 0 1-0.7 0.6z"/><path fill="#c8fa96" d="M0 82.5l0-90.9 0.4-0.1-0.4-0.5 0-77.5 380 0 0 85.6-4 0.7-2 1.2-3 0-1 1-2.1 0.5-0.5 2-2.4 1.5-2-0.9-0.6 0.4 0.1 1 0.5 0.3 2-0.1 1 1.3 1 0.1 2-1.8 1-0.1 2 1.2 2-0.8 3-2.1 2.5 0 0.5-0.8 0 10.4-2.1 2.4-0.9 0.3-3-1-0.8 0.7-0.1 1 2.9 4.7 4 0.4 0 59.9zM4 21.9l3-3.4 0-1.3-1-0.5-2.1 1.8-1 3zM19 18.6l2.8-2.1-3.8-2.2-1 0.8-0.3 1.4 1.3 2.2zM23 12.1l1.5-5.6-1.5-0.2-3.2 1.2-0.5 1 0.7 1.8zM33 3.7l1.1-4.2-1.2-5-0.9-1.5-1-0.4-2 0.4-1.8 1.5-1.2 2.3-4 2.5-1-1-1-2.6-0.6-0.2 0.6-3.3 0.1 1.3 3.9 0.9 0.6-0.9-0.2-4 2.6-0.9-0.5-1.1-2.5-0.1-1 0.7-3 0.5-3-0.7-2 0.7-3-0.2-1.4 1.1 2.4 0.5 2 1.5 0.3 6 1.7 0.7 2-0.1 1.7 1.4 3.3 0.2 2-0.7 1 0.2 1 1.3 0.1 2 0.9 0.6zM41 -16l0-0.7-1.2 0.2 0.2 0.4zM50 22.5l-0.3-1-0.8 0-0.1 1zM86 -35l1.4-0.5-1.4-0.5-1.8 0.5zM117 -9l0.5-1.5-0.5-1.7-1-0.8-1 0.4-0.2 1.1 1.2 2.6zM131.6 25.5l-0.6-0.5-0.3 0.5 0.3 0.3zM134.5 37.5l-0.6-3-0.9-0.6-1 0.6 0 2 1.2 1zM143 25.2l8-3.7 2-0.1 0.5-0.9-0.3-1-5.2-2.6-1 0.5-3 3.5-2-0.3-0.8 0.9 0.9 3zM181.5 -6.5l-0.5-0.5-0.6 0.5 0.6 0.5zM185.7 38.5l-0.7-1-0.4 1 0.4 0.7zM224.8 70.5l0.2-1-1 0-0.3 1 0.3 0.4zM241 -0.5l0.5-1-0.5-0.5-0.6 0.5zM253 -63.4l0-1.3-1-0.1-0.8 1.3 0.8 0.5zM297.5 8.5l0.2-1-0.7-0.6-1 0.4 0.4 1.2zM348.9 -12.5l-0.9-1.9-1.4 0.9 1.4 1.4zM354 12.9l3.6-1.4 0.8-1 0.7-2-0.1-1-1-0.9-2-0.3-2.3 1.2-0.4 1 0.4 4zM371 30.6l0.8-1.1-1.7-2-0.2-1-0.9-0.7-2 0.7 2 3.7zM369 -1.3l3-0.8 1-1.4-0.1-1-1.7-2 0.6-3-0.3-2-1.5-1.6-4-0.7-0.4 1.3 1.1 2-2.1 5 0.4 1 2 1zM375.8 -6.5l2.2 0.6 0.5-0.6 0.3-2-2.5 1zM4 -2.7l1.8-0.8 0.7-2-1.1-2 0-3-1.4-0.4-0.2 2.4-2.3 3-0.1 1 0.7 1zM132.3 28.5l2.7 0.3 0.5-1.3-2.5-0.5-1 0.5zM356 -6.7l2.8-2.8-0.4-1-2.4 0.5-3-1.7 0.1 2.2 1.9 2.8z"/><path fill="#bebebe" d="M27 20.5l1 0.2 0.5 0.8-0.5 2-2.7-1-0.2-1zM9.6 18.5l-1-3 0.9-1 0.5-2.6 3-2.2 2-0.9 1 0.2 0.8 1.5-0.8 1.5-2 1.3-0.7 1.2-0.3 3-0.9 2 0.5 2-0.6 0.8-1-0.1-0.9-0.7-0.9-2zM0 13.3l0-9.3 2 0.6 0.6 0.9 0.4 6zM30.1 8.5l-1.1 0.6-0.6-0.6 0.6-1.5zM35.5 7.5l-0.5 0.4-0.5-0.4 0-1 0.5-0.2zM15 5l1-3.8 1.2 2.3 1.3 1-0.2 1-3.3 1.6-1-0.6-0.1-1zM3.1 2.5l-0.9-3 4.8-1.3 3 0.3 1.2 1 0 3-1.2 0.9-4 0.4zM12.4 -4.5l-0.4 1.5-1-0.2 0-1.4 1-0.5zM26.4 -15.5l-1.3 0 0.9-1.1zM189.6 41.5l-0.7 1 0.1-1.4zM375 27.8l-1.1-2.3 1.1-0.9 2.6 1.9 1.7 2 0 1-1.3 0zM135.2 23.5l0.3 1-1.5 0.2 0-0.7zM45.4 19.5l-1.4 2.3-0.8-0.3 0.8-2.5zM372 10.5l4-3.6 4 0 0 2.8-3 3.4-4-0.1zM355 1.6l1.8 0.9 0.6 1-1.6 1-1.8 0.2-0.3-0.2zM0 82.5l0-34.1 0.4-0.9-0.4-1.2 0-23 1 0.3 2 2.3 1-0.3 2-1.8 1.2 0.7-1.2 2-2 0.2-0.9 0.8-0.8 2-1.1 1 0.8 0.4 1-0.2 0.6 0.8 1.4 0.3 2-2.8 3 2 1-0.7 1-2 8 1.6 0.8-0.4-0.8-1.6-2.6-1.4-0.4-3.6 1-0.2 2 0.9 2-1 2.6 0.9 0.2 1-2.6 2 0.1 1 1.7 1 3.4-2 0.6-3 1 0.2 0.7 2.8 4.3 3 0.7 3-0.7 2-1 0.5-5-2.1-1 0.5 0.7 1.1 0.1 3 3.2 3.2 2 0.2 2-2.7 3.6-1.7 1-1-3-4 1.1-3-0.7-0.7-2.1-0.3-1-1-0.2-6-1.4-3 1.3-3 0.4-2.8 2-0.5 2 1.5 2.3 0.8 1.6 2-1.9 3.6 0 3.2-1 1.2 3 1.1 1.8 1.9 1.2 0 2-1.5 5-0.2 1-1.3-1.4-4-0.6-0.5-5-0.1-1.7-3.4 2-2 0.2-2 2.6-2-0.4-2 2-2-1-3 0.6-2-0.3-1-3-4.5-2-0.6-1.2 1.1 0 1 1.2 1.3 0.5 1.7-0.5 4-1 1-6 0.1-2-0.4-0.6-0.7 1.2-5 2.1-1-0.8-1 2.5-3-0.3-3 2-1 2.4-3-0.7-4-1.8-1.8-4-1.1-2 0.5-5-0.9-1.3 0.3-0.7-0.2-1-1.9-1 0.1-2 1.5-0.6 2.5-1.4 0.6-1 1.7-6 0.6-1 0.6-4 0.5-2.4-3 0.2-2-0.5-1-2.3-0.2-1.2 1.2 0.1 2-3.1 1-0.8 4-1 0.3 0-42.5 1.6-1.8 0.1-1-1.7-2.5 0-26.5 380 0 0 26.9-1.6 1.1-0.2 1 1.8 2.1 0 22.9-2 0-4.4 2 0.2 2-1.8 1-0.6 1 1 2-1.4 1.3-0.8-1.3-2.2-1-3 0-2.5 1 0.4 1 4.1 2.5 1 0.2 2-0.6 2 0.2 1 0.7 0.5 2-0.5 1.4-3 1.9-2 0.2-6-2.6-2 5-1-0.7-0.1-1.2-1.9-1.5-1 0-2 1.5-3-0.4-5-3.7-3.9 4.1-0.2 1 2.1 2.3 4.2 1.7-1.8 3-0.1 1 0.7 0.8 2 0.9 2-1.4 3.2 1.7 0.3 1-1.5 2.5-1 0.4-1-0.3-1-2.2-1 0.1-1.2 1.5 0.3 3 3.2 2 0.4 1-0.7 1 0.7 5-0.9 3 3.2 3.4 3 2.1 1-3.5 2.4-3 0.6-3.5 1-0.9 2 0.5 3 3.4 2.8 0.5 0.9 1-0.3 3-3.1 3 2.7 1.7 0 0.5-4.9 0.8 1.6-3-0.1-1-0.6-0.2-1.4 0.2-2.6 2.7-2 0.8-1.4-0.5-0.6-1.1-1-0.6-0.4 0.7 0.4 4.9 2 0.8 2-0.3 2.5 4.6-0.1 6 1.1 2-0.3 1 1 3 0.8 0.7 2-0.3 1-2.4-1-2.3-1.4-1.7-0.5-2 6.9-4.1 1.9 3.1 0.1 2.1 1 0.2 1-0.7 2 0.9 1-0.1 0 9.1-2 1.5-2.8 1-0.2 1 3 2.1 2-0.6 0 31.5zM10 48.8l3.5-3.3 0.1-1-1.6-2 0-1-1-0.4-4.8 3.4 1.8 4.6zM17 55.8l-1-0.8-1.4 1.5 0.4 2 1 0.5 1-0.1 0.6-1.4zM20 48.4l3.2-2.9-0.5-1-2.7-2-0.4-1 3.1-3-0.1-1 1.8-3-4.4-2.1-2.8 1.1-0.2 4.2-1.5 0.8 0.4 1 1.1 0 1 0.8 0.6 1.2-1.8 4 0.2 1zM24.7 59.5l1.3-0.2 2.9 2.2 1.1 0.2 2.1-0.2 1.3-1-0.4-0.4-3 0.2-1-0.8-0.4-4-1.6-2-1.8 1-3.7 7 1.5 0.5 1-0.4zM36.6 62.5l-0.6-0.6-0.7 0.6 0.7 0.9zM42 28.1l0 1.4 1 0.7 0.4-0.7-0.4-1.7zM42.2 33.5l0.6 2 0.2 0.1 0.5-2.1-0.5-0.6zM48.9 67.5l-0.9-0.6-1.6 0.6 0.6 1.9 1 0.1 1-0.9zM52.7 1.5l1.3 1.3 0.9-1.3-0.9-1zM57 -15.8l1.7-3.7-0.7-0.5-2.1 1.5-0.6 2 0.7 0.7zM66.1 20.5l-1.1-1.1-1-0.1-1.8 1.2-0.1 1 0.9 0.7 2 0 1.1-0.7zM76 60.4l-1-1.3-3-1.4-2 1.2-1.4 1.6 0.4 0.8 6 0.6 1-0.4zM79.7 67.5l1.3-3.6 3-1.3 0.1-1.1 0.9-0.9 2.9-1.1 0.5-1-1.3-3-1.2-1-1.9-7.3-1-0.3-2 0.5-2-0.7-2.1 0.8 1.2 2 0.3 2 4.1 6-0.5 2.2-4.2 2.8-0.5 1 0.7 4.8zM90 15.9l-0.8 0.6 0 1 0.8 0.8 1-0.3 0.5-1.5zM91 45.5l1 0.2 0.5-0.2-0.5-0.5zM96 43.5l-1-1.2-1.7 1.2 0 1 1.7 0.6 1-0.4zM98.1 69.5l-1.1-1.3-2-0.5-0.4 1.8 0.4 1.4 2 0.3zM106.1 57.5l-2.6 0 2.9 1zM136.8 41.5l1.8-3-2.1-3-0.5-3 2-2.3 7.4-0.7-0.2-2 0.8-1.1 2.3 1.1-0.9 2 1.6 0.1 1.3-4.1 0.7-0.5 4 3.9 1-0.1 1.2-1.3 0-2-1-4-2.2-4-2-0.3-4-2.5-1.3-0.2-2.7 3.3-4 2.2-1-0.1-2-2.9-1-0.4-2 0.7-1.5-0.8-0.4-1 1.1-2 0.1-2-1.3-4-1-1.5-1 0.1-0.6 0.4 0 3-1.8 1-1.6 3.2-2 1.4-3-1.3-2.1 0.7 0.1 1.7 1 0.9 2-1.2 1 0.3 2 2.2 1.4 4.1-0.4 1.9-3 0.5-4-1.7-2.9 3.3-0.2 1 5 3 0.3 1-0.8 2 1 2 1.4 1 1.2 0 3-1.6 1 0.3 3.8 4.3 0.8 3zM140.8 66.5l-0.8-0.9-0.5 0.9 0.5 0.5zM146.2 67.5l2.8 0.1 1-0.5 2-3.6 2-1-1-3.5-1-0.1-2 2.2-3-1.6-3 0.8 0.1 1.2 3 1-0.4 1-4.2 3-0.4 1 1.8 2 1.1 0zM162 54.5l-2.1-1-0.4 1 0.5 2 1 0.6 1.2-0.6 0.3-1zM170.4 25.5l-0.4-1.2-3-0.1-0.8 1.3 0.8 1.6 1 0.1 1.6-0.7zM175.8 70.5l-1.5-2-0.4-2-0.9-0.8-2-0.2-0.5 1 1.5 4.3 0.8 0.7 2.2 0.1zM178.6 2.5l-1.6-2.5 0 3.6 1.4-0.1zM183 -3.4l1.3-3.1-0.1-1-1.2-1.4-2-0.3-4 1.3-1.2 2.4 0.2 1.2 1 1 3 2.1 1-0.3zM186.2 62.5l-1.3 0-0.9 1-0.2 1 1.2 1.4 1.6-0.4 0.2-2zM190 60.2l4.6-1.7-0.5-1-4.1-2.2-1.6-1.8 0.9-3-0.4-1-2.9-2.3-1 0.3-0.3 1 1.8 3 0.5 2-0.8 2 1.6 2 0.1 2zM198 56.7l-1.7 1.8 1.7 1 0.4-1zM203.6 68.5l-2.6-2-1.6 1-0.2 1 0.8 1.5 3 1.1 0.9-1.6zM206 16.7l-1-0.6-1.1 0.4 1.1 3.4 1.4-1.4zM210 -18.5l-2-0.8-0.9 1.8 0.9 1 2 0.2 0.5-1.2zM211 21.1l-1-0.8-1 0-1 1.2 1 1.1 2-0.5zM214.8 61.5l-0.6-3-1.2-0.7-2 0.2-1.5 1.5 0.5 1.5 3 1.2zM217 38.3l-2 0.1-0.6 1.1 1.6 1 1.3-1zM220.2 59.5l-0.6-3 0.9-1-0.5-1-1 0.1-1.3 1.9 0 4 1.4 0zM225 8.4l1.3-0.9-0.9-1-1.4-0.5-2 0.5-0.6 1 0.6 1zM225 72.2l1.6-2.7-1.6-1.8-2.4 1.8-0.3 1 0.7 1.6 1 0.3zM229 28.5l-1-0.4-1 0.4-0.4 1 0.4 1.3 1 0.9 1.2-1.2zM232 44.4l-2-0.4-0.7 0.5 0.7 1.3 1 0.1 0.8-0.4zM234.4 -34.5l-0.5-1-1.4 0-0.3 3 0.8 1.2 1.1-0.2zM239 6.4l4.7-3.9-0.3-3 0.5-2-2.9-1.7-4 0.8-0.3 0.9 3 6-1.3 2zM239.8 41.5l1.2 1 0.9-1-0.9-0.8zM246.2 69.5l8.8 0.5 1.1-0.5 0.3-1-0.4-1-3-0.2-2 0.5-2-0.4-3.3 1.1zM259.1 49.5l-0.1-1.5-2 0-1.1 0.5-0.5 2 0.6 1 1 0.2 1-0.3zM266.5 60.5l-1.5-1.6-4.1 0.6 0.3 1 1.8 1.1 2.8-0.1zM268 40.5l-1-0.4-1 0.7-0.4 1.7 0.6 1 0.8 0.4 1-0.4 0.6-2zM272.5 -2.5l0.4-1-2.3-2 0.2-2-0.8-1.7-2-1.2-1 0.4-0.9 2.5 0.9 2 0.3 3 0.7 0.9 2 0.9zM276 55.8l1-2.5 0.9-0.8-0.4-1-3.5 0.4-2.5 1.6 0.5 3.3zM280.3 26.5l-1.9-3-0.7 0-0.2 1 0.5 1.6 1 0.9 1 0.1zM281.8 30.5l1.2 0.4 0.7-0.4-0.7-0.8zM288 60.5l0.1-4-1.1-1-2 1-1.7 2 1 2 1.7 0.7zM298.7 22.5l0.4-3-1.1-0.2-1 1-2-0.1-0.8 2.3 0.8 1.3zM300 33.5l4.9-2 0.6-1-3.5-0.7-1.4 0.7-0.6 1zM304.2 61.5l1.5-3-0.7-0.6-1-0.1-1 0.7-0.6 3zM309 59.8l-1 0.1-0.8 0.6 1.7 1 1.1-0.2 0.3-0.8zM314.1 45.5l-1.1 0.8-0.4 1.2 0.4 1.8 1-0.1 0.7-0.7zM322 16.5l0.2-3 1.3-3 2.5-0.3 0.5-0.7-0.5-2-4-2.4-4 1.1-2-1.6-2 1.7-2-0.8-1 0.2-0.2-2.2 1-2-0.8-0.8-3 0.8-2 1.7-3-1.1-2 1.7-6-1.9-2.5 2.6-0.3 3 1.8 2.7 3 2.1 3 0.7 2.5-0.5 0.9-1-0.2-2 0.8-0.6 4-0.7 1.4-0.7 0.6-1 0.7 1-3.6 4-0.1 1.2 6-0.2 4 1.1 2 0.9-0.4 2 0.4 1.1 1 0.3zM327.1 56.5l2.9 0.9 3-0.6 1 1.2 1 0.3 3-1.5 1 0.8 1.1-0.1-1-1-2.1-0.8-3 0-0.3-2.2-0.7-0.4-4 0.6-3 1.7-2-1.4-0.9 0.5 1.9 3.1 1-0.1zM347 65.1l2 0.4 2.4-1 0.8-1-1.5-1-5.7-0.1-3.3 1.1-0.5 1 0.9 1 1.9 0.6zM379 65.6l-1-2.8-1-0.4-1 0.4-0.7 1.7 0.7 3.4 1-0.2zM346 -36.5l-1 0.1-1 1.9 0.2 1 0.8 0.6 1.3-0.6zM350 -50.3l1.5-3.2-0.3-1-1.2-1.2-1.7 0.2-1.1 2 0.4 3zM358.2 -34.5l-2.2-0.2-1 1.2 1 0.7 2.2 0.3 1.5-1zM1 -50.9l0-1-0.8 0.4zM4 -36l-1-1-1 0.2-0.4 1.3 0.4 1.4 1.5-0.4zM24.1 -22.5l0.4-2 1.5-2-0.2-2-0.8-1-4 3-1-0.1-0.4-0.9 1-2-0.5-1-2.1 0-2-0.8-3 0.9-3.7 5.9 2.7 1 6-0.1 2 1.6zM36 -45.7l1.3-1.8-0.4-3-2.9-2.3-0.6-1.7-1.4-0.6 0.2 8.6 1.8 0.9zM51.3 -7.5l0.7-1.4 2.3-0.6 1.1-2-0.7-3-1.7-1.3-1 0.6-2 3.2-3 0.9-0.5 1.6 1.8 2-0.1 2 1.8 1.1 1.1-0.1zM53 6.1l-1-0.3-0.8 0.7 0.3 2 0.5 0.1 1.1-1.1zM65 -5.1l5.9-2.4 1.8-2-2.7-1-2 1-0.5-3-1.5-1.4-1 0.3-2.3 2.1 1.4 6zM73.7 42.5l0.3-3-2.1-1-1.9-1.8-1.9 0.8 0.9 5.2 1 0.7zM74.4 46.5l-0.4-0.4-3.9 0.4 0.9 1.4 2 0.1zM76 23.5l-1-0.5-2 0.2-1 1.3 3 2.8 1 0.3 0.5-2.1zM85.2 40.5l-0.2-1.9-1-0.7-2 0-1-0.6-1 0.6 2 3.6 2 0.1zM86.3 5.5l1.4 0 0.1-1-0.8-0.5-0.7 0.5zM99.4 60.5l-2.4-1.6-1.1 0.6 0.1 1zM126 2.9l-2-0.1-1.2 0.7 0.4 1 1.8 0.5 1.6-1.5zM132.5 -20.5l0.2-2-0.7-0.8-6.6-1.2-1.3-1 1.9-3.9 6 1.5 1-1.1 0.7-2.5-1.7-2.8-1.7-0.2-1.3 1.9-3-0.7-3 0.6-2.1 1.2 0 2 2.1 3.8 0.6 0.2-0.3 2 1.5 2 4.2 1.6 2 0zM133.7 -0.5l0.4 0-0.1-1.3-0.3 0.3zM142.2 6.5l-1.2-0.6-1 0.7-0.5 1.9 0.5 0.7 1 0.2 0.8-0.9zM147.9 -11.5l-0.3-1 1.4-0.6 1.9-2.4-1.9-0.9-2.9-0.1-1.2-1 0.1-1.1 2-0.4 0.1-1.5-0.7-1-2.4-1.4-0.5 0.4 1.5 2.1-3 0.3-0.9 0.6-0.2 2-1.3 2 2.7 2 0.2 3 0.5 0.5 3 0.7 1-0.4zM152.7 -20.5l-2.7-1-0.3 1 1.3 1 1.3 0zM162 0.7l-0.1-3.2 0.6-2-2-2-2.5-1.2-2 2.2-1 2 0.3 3 1.7 1.3zM148.5 44.5l-1.7-2-0.2-3-0.6-0.4-4.2 1.4 2 3 2.2 1.6 2 0.4zM154.1 50.5l-0.1-1.5-1-1.4-3.5 2.9 3.5 0.4zM173.3 -34.5l-1.3-0.7-2 0-1-0.9-1-0.1-1 0.7 1 1.3 1.8 0.7 2.4 0zM194 45.5l1.5-3-0.1-2-3.4-0.6-2-1.2-6-7.1-1 0-0.7 0.9 0.7 2-0.6 6 6.6 5zM201 46.3l0.1-1.8-1.1-1.4-2 1.6-2.5 0.8 2.5 2 2-0.3zM206.6 1.5l-2.6-2.1-1.4 0.1 2.4 3-0.2 2 1.2 1.1 0.8-1.1zM211.8 -24.5l-1.8-1.1-1.3 0.1-0.5 1 0.8 1.8 2.7 0.2zM216 4l2.6-3.5-0.6-1.4-2 0.6-3-1.3-4.4 2.1 2.4 4 2 0.7 1-1zM226 -32.5l-1 0.8 0 0.6 1 0.2 0.5-0.6zM231 -14.1l1.6-3.4-0.6-1-3-1.3-2.8 1.3-0.4 1 0.3 1 1.3 1zM251.5 52.5l-0.1-4-1.4-2.6-1-0.6-3.1 3.2 2.2 2 0.9 2.2 2 0.3zM256.4 -3.5l-2.4-2.3-1.2 0.3 0.4 2zM257.1 38.5l6.9 0.3 0.6-1.3-1.5-1-2.1-0.5-2-3.1-2-0.5-1 0.7-0.4 2.4zM267.2 33.5l-1.2-0.1-1 0.7 0 1.8 1 0.5 1.4-1.9zM273.2 -18.5l-1.6-1 0.1-2-1.7-0.7-0.3 0.7 2.3 6.5 1.1-0.5zM274.7 32.5l-1.7-0.2 0 1.2 1 0.4 1.1-0.4zM277 29.3l-0.2 1.2 1.2 0.4 0.4-1.4zM288 -10.3l3.4-2.2-0.5-1-4.9-0.4-1-1.4-3-1-1.2 0.8 0.2 1.2 2.4 1.8 0.4 1 2.2 1.3zM317 39.9l-1.8-2.4-1.2 0.2 0 2.2 2 0.3zM299.4 -5.5l-1.2-3-2.7-2 0.6-1-1.1-0.7-0.8 0.7 0.4 1-1.5 2 0.6 1 2.1 1 1.2 1.3 2 0.1zM321.2 -19.5l-0.5-2 0.9-1-1-1-1.6 0.2-1 1.1-0.4 1.7 1.4 3.4 1.7-0.4zM324 51.5l0.6-1-0.6-0.6-0.3 0.6zM324 36.5l-0.9 1 0 1 0.9 0.9 1 0.2 0.5-1.1zM330 28l1.7-2.5 0.3-1.6 3.3-1.4-0.3-2.3-1-0.3-6 2-0.5 0.6-1.7 4 0.2 1.4 2 0.4zM332.8 29.5l-1.8-0.8-0.1 1.8 2.1 0.2zM336 35.1l-0.8-2.6-1.2-0.9-1.6 2.9 0.6 3zM341.4 48.5l-2.4-4.2-1 0.1-1.6 1.1 0.1 1 2.9 1 0.6 1.2 1 0.4zM346.7 34.5l0.1-2-2.8-1.5-1 0.1-1.3 3.4 0.4 1 2.9 0.9 1-0.5zM353.2 34.5l-2.2-3-1 0.1-0.6 0.9-0.1 2 0.7 0.4 2 0.4zM347.5 -40.5l-3.2-4 1.6-2-0.9-2.2-1.4 1.2 0 2-1.3 5 0.7 1 3 1.8 1-0.8zM17.5 -34.5l0.5-2-5-0.5-2-2.4-1 0-1.1 0.9 1.1 3 0.9 1 3.1 0.3 1 1.2zM49 -22.4l2-0.3 0.5-0.8-0.7-1 1.3-3-0.6-1-1.2 0-0.9 1 0.1 2-0.8 1-4.8 2 1.1 1.4 1 0.5zM64.3 -18.5l-0.3 1.1 2.4 0.9-0.3-1zM69.4 -50.5l1.6 1.6 0.7-0.6-0.7-1.8zM81.4 34.5l-1.4-1.9-1.7-0.1 0.7 3.3 1 1.1zM85.8 12.5l0.1-1-3-2 0.1-2-1-1-0.5-2-2.5-1.1-2 1.1-0.1 4 1.1 0.5 2-0.3 1.4 0.8 0.3 1-0.7 2 1.9 2 1.3 0zM99.1 55.5l-0.5-1 0.5-1 2.9 0.1 3-1.5 2-2 2 0.2 1.5-0.8-0.2-2-1.3-1.6-3-0.7-0.7-0.7 0.7-1 1 0 0.4-1-1.4-1.2-3.3 3.2 0.2 2-3.9 2.5-0.8-0.5 1.1-2-1.3-1.1-1 0.1-0.3 2 1 2 0 2-0.7 0.9-2.1 0.1-0.2 1 1.3 3.6 2-0.1 0.9-0.5zM128 -57.5l0.3-1-0.3-0.7-0.2 0.7zM133.3 -25.5l0.7 0.8 1.4-0.8-0.4-0.8-1-0.1zM141.8 -23.5l-2.1-4 0.8-1 0.1-1-2.6-1.8-1 0.2-1.4 4.6 3.4 1.9 1 2.7 1 0.4zM149.4 -36.5l-0.4-1.3-1-0.6-1.9 1.9-0.2 1 2.1 0.3zM184.2 16.5l0.8-1 3 0 0.2-2 2.5-2 0-1-0.7-0.7-3 0.4-1.9 1.3-1.1 3.3-2.1 0.7-1.1 1 1.2 2.2 2 0.9 0.5-1.1zM194.4 33.5l0.6-1.1 1 1.1 1 0.2 1.1-1.2-2.1-2.5-2-0.5 1-0.9 1 0.4 1.4-0.5 0-1-2.4-1.7-2 0.7-0.7 1 0.5 2-3.1 5 3.3 0 2 1.8 0-1.8zM201 25.5l1-2-1.2-1-1.8-0.3-1.1 1.3 0.2 2 0.9 1zM219.6 -28.5l1.7-2 0.1-1-1.4-2.2-1 1.6-2 0.8-0.5 0.8 0.3 4 1.2 0.6 1-0.1 0.6-0.5zM222 -12.4l0.1-1.1-1.1-0.5-2-0.1-1.1 0.6 0 2 1.1 0.4 1 0.2zM249.3 -8.5l-1.3-0.4-0.7 0.4-1.2 1 0 1 0.9 1 2.4-2zM251 13l-0.7 0.5 0.2 1 1.5 0.2-0.3-1.2zM265.4 13.5l-1.4-0.5-2.2 1.5 2.2 0.9 1.5-0.9zM278 -9l-1-0.7-1.1 0.2 1.1 3.2 1.6-1.2zM314.7 32.5l-0.7-0.9-0.4 0.9 0.4 0.4zM301.9 -29.5l-1.9-1-0.2-1 2.7-1-0.9-1-2.6-0.3-0.9-0.7-1.1-3.4-1-0.6-1.5 1-0.6 1 3 2-0.3 5 1.4 1.9 2 0.9 1-0.4zM317.9 -32.5l1.5-4-2-2 1.1-2 0.3-2-0.8-1.4-1-0.2-3 1.6-0.5 1 3.1 3-0.8 1-0.8 3 0.3 2 0.7 0.9 1 0zM330 -18.9l-1-0.3-0.9 0.7-0.1 1 1 0.6 1-0.8zM334.1 -51.5l-0.1-1-1-0.4-0.2 1.4 0.9 1-0.1 1 1.4 0.7 0.9-0.7-0.1-1zM339.5 -4.5l0.9-2-2.4-1.1-1 0.4-2 2.7 1 1 1 0.1zM340 15.5l0 1 1.2 0-0.2-1.2zM341.5 42.5l-0.5-0.5-0.7 0.5 0.7 0.8zM346 29.1l2 0.9 2-0.9 1.2-1.6 1.2-4-1.8-1-0.6-2.5-1.3-1.5 0.3-1.1-1-0.3-1 3.4-0.1 3-4 2 1.1 4.4zM79 -13.1l-0.4-1.4-1.8 0-1.9 3 0 1 3.1 1.4zM84.4 -7.5l-0.6-5 1.2-0.1 2 1.1 3-0.8 2.4-2.2 0.6-2-0.4-3-1.8-2-0.7-2-1.1-0.9-3-0.8-3 1.3-0.9 1.4 1.2 5-1.3 1.3-0.7 1.7 1 2-0.1 1-1.9 2 1.5 2 1.2 0.6zM100.9 8.5l1.1 0.5 0.2-0.5-0.2-0.3zM109 3.5l0-1.3-2-0.7-3.1 2 0.1 1 1 1 2-1.7zM107 37.4l-1-0.5-0.8 0.6 0.8 2.8 1 0zM109 22.4l5-1.7 4 0.3 1-1.5-2-0.4-1-1.4-2 1.5-1-0.2-1-4.8-1-1.9-1 0-3 6-0.7 0.2 1.5 2 0.2 1.7zM192 -13.2l2-2.1 2.9-1.2 0.5-1-0.4-0.8-3 0.2-5-0.7-5-2.2-3-0.2-1-0.8-0.6 0.5-0.3 3 2.4 3 5.5 1.8 1 1.5 1-0.1 1-1.1zM194 0.4l1 0.8 0.4-0.7zM198.2 14.5l-0.3-1-1.9-1-0.6 1 0.6 3.8 1 0zM201.9 -30.5l-0.9-1.6-2 1.2-2.5 0.4 3.5 1.4 1.4-0.4zM224 -25.9l0-2.1-1 0.2-2.8 2.3 1.8 2.6zM254 -64.4l-1-1.5-1 0.2-1.4 1.2-0.2 2 0.6 0.6 2-0.3zM264 -12.8l-1-0.9-1.3 1.2 0.3 1.4 1 0.8 0.9-1.2zM268 -38.5l1-2.3-2-0.8-1 0.3-1.7 1.8 0.7 1.4 1 0.5zM333 -28.1l0.5-1.4-1.1-1 0.1-2-0.5-0.6-4 1.1-1.2 1.5-0.2 1 1.4 2 1 0.4 2 0.3zM339 -18.7l3.6-2.8 0.2-1-1.2-2 0.2-3-3.8-2.9-1 0.7-2.7 4.2 2.8 6zM342 12.2l3.5-2.7-0.2-2-2.3-5-2-1.6-1.9 1.6-1.4 3 0.3 1.2 2.1 1.8-1.3 2 0.7 1 1.5 0.7zM78.9 -21.5l1.1 0.2 0.5-0.2-0.5-0.9-1 0.2zM87.8 -35.5l-2.8-0.6-1.2 0.6 2.2 0.7zM110.1 -17.5l-2.1-0.5-1 0.5-0.3 1 1.3 1.6 1 0.3 1.5-0.9 0.2-1zM116.8 10.5l-0.8-3-1 0-2.6 2 1.2 3 2.4 1.5 0.5-0.5zM181 -32.1l3-3.1 2 1.8 5-1.1 1.1-1-0.9-2-0.2-2.3-2-0.5-7 3.8-3-1.1-1 0.7-1.4 2.4 0.9 1zM333.8 -67.5l-1.8-0.7-1.2 0.7-0.5 1 0.7 1 2.2 0 0.7-1zM337 -40.5l2-4-1-0.6-1-0.2-0.9 0.8 0.2 3zM118 2.5l-2-2.3-1.1 0.3 0.6 3 1.5 0.6zM185.3 -43.5l-3.3-3-1.5 1 0.3 1 4.2 3.5zM187 -54l-1 0.2-0.9 1.3 0 1 0.9 0.4 1-0.6zM116 -5.5l6.6-1 2.2-2 0.5-1-0.3-1-4.6-3-2.4-4-3-1.9-2 0.4-0.5 1.5 0.8 4-1 3 0.7 1.6zM183.3 -66.5l-0.9 0 0.6 0.9zM35 -13.3l3-1 1.1 0.8 0.4 3-0.5 1-1-0.7-4-0.3-0.6-1zM374 -15.4l0.6-1.1 2.4-0.2 0.6-0.8-2.8-5 0.9-1 4.3-1.8 0 13.1-1-0.1-2 1.2-1.9-0.4zM190.1 -36.5l-1.1 0.2 0-1.6 1.1 0.4z"/><path fill="#ffff82" d="M68 64.7l1-0.1 2.1 0.9 1.4 1 0 1-4.5-0.5-0.5-1.5zM38.3 64.5l1 0 0.6 2-0.9 1-1.8 0-0.5-1zM98 62.6l0.6 0.9-0.6 1.1-1.3-1.1 0.2-1zM118.9 62.5l1.1-0.4 0.9 0.4-0.9 0.5zM124.4 61.5l-1.4 0.5-1.8-0.5 0.8-1.1 2 0.4zM66 56.4l-1.1 0.1 0.1-1.2zM60.8 49.5l2.2-0.8 2 0 0.9 0.8 0.7 2-1.6 1.5-1 0-2-1-2 0.7-2 0 0.4-1.2zM45.5 43.5l0.5-0.5 2.1 0.5 0.5 3-0.6 0.4-2-1.4zM104.3 -2.5l0.7-0.8 1.1 0.8-1.1 0.7zM39 -31.9l1.7 2.4-1.7 0.9-1.1-0.9 0-2zM51 -31.8l-2-4.4-4-1.6-3 0.9-4 2.2-1.9-0.8-0.2-1 2.7-4 3.4-2.7 1 0.6 0.5 2.1 0.5 0.2 3-0.8 3 1 4-0.6 2 1.4 2.7 0.8-2.5 6-1.7 1zM32.8 -37.5l-0.1-1 1.2 0-0.6 1zM59 -42.8l2.1 3.3-1.1 0.5-1-0.5-0.6-2zM121.9 -49.5l0.2-3-1.1-1.8-2-1.2-6.3-1-0.3-1 4.6-2.7 4-0.4 1-0.9 1-3.2 2.4 1.2 0 3-1.6 4 0.7 3 1.5 1.1 4-1.3 1.3 1.2 0 1-2.3 3.9-2 0.3-2 1.2zM0 82.5l0-10.3 4-0.9 6 2.4 0.8-1.2-0.6-3 2.1-1 5.7-0.9 0.5 0.9-1.2 2 0.2 2 1.5 1.8 3 1.5 2-0.9 2-4.4 2-1.2 9 4.8 0.7-0.6 0.3-2 2 0.1 3-1.5 1 2.7 1 0.8 2 0.2 1-0.3 3-3.1 1-0.4 1.4 0.5 1.6 1.6 4 1.8 7 0.8 5-0.5 2-2.7 1-0.3 4 0.1 4-1.4 2 0 1-0.6 1-2.5 2 0.2 3-1.7 2 7 3.7 3.2 1.3 2 1.1-1-0.4-2 1.1-2 1.2-0.8 2 0.2 2 1.3 5-0.2 6-2.2 2-0.1 1 0.3 3 2.8 5 0.8 1-1 1-3.4 1 0 1.8 0.3-0.1 3 1.3 1.8 6 0.2 1.6-2 2.4-1 2.3 1 1.7 3.1 1 0.6 2 0.1 1.9-0.8 0.6-1-2-3 0.1-1 2.2-3 1.2-0.5 0.4 0.5-0.8 6 0.4 1 4 0.9 1.1-0.9 0-2 1.8-2 0.5-2-0.4-1.2-3-0.8-1.2-1 0.2-2 1-1.4 2 0.9 4-1.4 4-0.4 3.6 0.3-2.6 1.2-2.4 4.8-1.6 2 0.4 1 2.6 2.3 4 0 2 0.5 2.9-0.8 1.5-4-2-5 0-2 4.5-1 0.1-1.1 0 5.1 3 3.2 2 0.6 2-0.2 1-0.7 1-2.1 1-0.1 1 1.3 2-0.1 5 5.4 3 1.8 3-0.4 3-3.7 2-0.8-0.1-1.2 1.1-1.4 3-0.6 1.9-2 1.1-0.4 1.2 0.4 0.8 1.3 2.4 0.7 0 1-1.1 2-0.1 3 0.8 1.6 1 0.3 4-0.7 3-1.6 4 0 3-1.9 1.4 0.3 0.5 2 1.1 0.9 3-0.5 2 0.9 6-2 5 1.7 4-4.3 1-0.4 2 1.3 2 0 6 2.3 4-0.4 2-1.1 4 0.8 2.4-1.2 0.9-3 2.1-2-0.1-2 1.7-0.6 1.5 0.6 1.8 6 1.7 0.9 6 1.8 3-2.7 0.5-3 1.5-0.9 5 1.4 1.4 2.5 2.6 2.8 2 0.5 0.9-0.3 0.5-1-0.5-5 0.4-1 1.7-2 3-1.2 6.3 0.2 0.8 1-4.1 2.8-1-0.1-1-1.7-1 1.4-0.9 3.6-1.4 2-1.6 1 0.1 1 1.8 1.5 3-0.4 3-1.6 2-0.1 2-2 1-0.3 1 0.1 3 4.8 2 0.6 1.9-0.6 0.8-1-1.5-2 0.4-1 3.4-1.3 7 0 7 1.2 4-1.8 7 0 6-1.5 1.3 2.4 2.7 1.6 1.5 3.4 0.9 0 2.6-2.8 0 9.8zM51 74.9l-1.4 0.6-0.1 1 1 1 1.9 0 0.5-1-0.3-1zM190.2 74.5l0.1-2-1.3-1-3.8 2-0.6 1 1.2 1 3.2 0.7zM230.2 64.5l-0.6 1-1.4 0-0.2-1 1-0.6zM205 62.1l3.9 0.4 0.2 1-3.1 1-2-0.5-0.8-1.5zM177.5 57.5l0.3 1-0.5 1-1.4 1-0.8-1 0.2-1 0.7-1zM205.4 48.5l-1.4 1.3-1.2-0.3 1.2-1.2zM135 46.8l3 1.3 2.3 0.4-5.3 1.9-2-0.6 1-2.4zM166.8 42.5l0.4-1 0.8-0.3 3 0.4 1.4 1.9-0.2 2-2.2 1.4-1-0.1zM229.8 39.5l-1.4 0 0.3-1 1.7 0zM227 11.5l-2 1.7-0.5-0.7 0.5-0.7zM171 9.5l1.3 1-0.5 1-1.4 0-0.4-1.3zM204 10.9l-0.1-1.4 0.4 0 0.2 1zM175.3 10.5l-1.1 0-0.5-1 1.3-0.3zM171 -12.7l1-0.6 1.8 0.8 0.1 1-0.9 2.1-1-0.4-1.1-1.7zM197.1 -24.5l-1.1 0.6-1.9-1.6 0.9-0.7 1 0.3zM133 -44l-1.6-3.5 0.7-1 6.9-0.5 1 0.5 0.4 3-0.4 0.8-3 1.9-1-1zM155 -50.1l1.2 2.6-1.2 1.6-1 0.4-0.7-1 0.4-3zM179.7 -53.5l0.3-0.4 1-0.4 0 0.9zM90 -27.1l-13-1.7-3-2.5-4-0.7-4.8-6.5-1.8-1-0.6-1 0.2-3.2 3-0.8 4 0.6 3-0.7 2 0.4 2-0.4 2-1 2-2.9 2.2-1 1.9-2-0.1-1.4-4-3.1-2-0.2-3 0.6-2-0.8-4.8-7.1-1.2-0.8-1.8 0.8 0 1 2.2 2 0.2 1-1.4 3 0.1 2-1.3 2.9-1 0.7-6 0.6-2-0.5-2 0.8-1.4-0.5-0.4-1 1-2 0.3-3 1.6-2 0.4-2-1-2-1.5-1.4-1.3 0.4-0.9 1 1.1 6-0.6 4-1.3 0.4-4-3.1-2.3-3.3-0.1-1 0.8-1 3-2-0.1-3-2.3-1.2-2.4 0.2-3.1 5 0.2 2-0.7 3 0.3 2 0.9 1 2.4 1 0.8 1-1.4 1.6-2.6-1.6-2-3-3.4-3-2.1-1-3.3-3-1.3-2-2.3 0.1-0.7 0.9-0.4 3-2.5 3-3 1-1 1 1.6 3 0 1-2.7 2-3.3 3.7-0.7-3.7 0.3-4 2.8-2-0.4-1-1-1.1-5-1.2-4-2.7-3 0.7-1-0.5-1-3.6-1-0.8 0-21.8 146.6 0 1.4 0.5 1.4-0.5 52.9 0-0.6 1 0.4 1 0.9 1.2 1 0.3 1.8-1.5 0.1-1-0.7-1 81.1 0 1.7 1.3 1 0 1-1.3 90 0 0 24.7-4 1.3-1.1 1-0.2 2 2 2 0.3 1.2-10.7 2.8-1.3 3.1-2.1-2.1 0.4-2-1-1-7.3-0.7-3.3-4.3-1.5-3-1.2-0.6-1.7 0.6-0.2 1 0.6 2-4.3 4-1.4 2.3-3 0.1-0.8-1.4 3.7-2 0.1-1-1-1.3-1-0.3-1 0.6-1 1.6-1 0.3-5-1-2-1.1-3 6.2-1 0.3-0.5-0.3 0.2-1-1-1-1.7-0.4-2 0.7-2 2.2-1-0.1-1-0.9-2 0.8-2-0.3-3 1.4-2-1.4-0.9-2 0.9-1.8 3 0.7 1.3-1.9-0.6-1-1.7-0.5-1.3 0.5-0.7 0.9-1-0.1-5-3.2-3 0.2-1 0.3-0.3 0.9 0.9 3-0.1 1-0.8 1-3.7 1.8-2 2.3-2-1.3-2 0.1-1 1.8-4 3.4-1-0.3-0.7-1.8-3.3-3 0-2.3 1-0.5 3 0.3 2 1.9 3-0.7 1.1-2.7 3.3-2 0.1-2-1.5-0.5-2 0.8-5-2.3-1 0.1-1.3 0.9-0.7 2.5-1 0.5-2-1.3-1-3-1-1.3-1.2 0.6-0.2 4-2.6 2.8-2-0.7-4 1.4-8-2.2-3 3.2-2 1-6-1.3-3 2.1-2-0.4-2 0.3-2.9-2.2-1.6 0-1.9 2 0.4 2-1 2.3-6 5.2-1.9-0.5-1.1-3-3.4-2-1.8-2-0.8-1 0.5-2-2.5-0.4-1.4 1.4 0 2-1.9 2 0 3 1.1 2-0.1 1-0.7 0.1-4-3.9 0.1-2.2-1.3-2-0.8-5-3-2-2-2.9-1-0.1-1.7 2-1.9 1-1.7 5 0.6 1 2.3 1 0.5 1-1.4 5-2.7 0.3-1.8-1.3-1.7-2-0.3-2 1.6-3-2.4-4 0-3 1.6-1.1 8-1 0.4-1.9-1.4-1.3-4-0.6-5-2.1-3-0.4-3-2.1-4.1 1.5-0.9 1 1 1.6 5.5 2.4 0.2 1-1.7 4.1-5-2-2 2.2-3 1.4-3-2-5-0.6-4.7 2.9-2.3 3.1-2-0.1-1-1-1-3-2 1.1-4.9 0.9-0.1 2.9-1 0-2.2-0.9-2.8-2.4-1-0.1-2 1.1-1.5-0.6-0.8-1-0.6-4-2.1 0-2-1.3-4-6.5-6 0.3-3-1.2-1 0.7-2.3 5-0.7 0.6-2 0.4-2-0.9-0.5-1.1 0.8-4-1.3-0.8-1 0.1-1 0.5-0.6 1.2 0.2 6 0.4 1 3 0.4 1 0.6 0.8 1-0.2 1-1.6 2.2-1 0.3-3-3.3-3-0.2-3 3 0 2 1 1.2 4 1 2-0.6 2-1.4 2.4 1.8 0.3 3 2.3 0.8 0.3 1.2-1.2 3-1.1 1.5-0.1 2.5-0.5 1-3.8 3-2.6 3.2-3 0.3-5 2.7-3 1zM94.8 -70.5l-0.8-1.5-3-0.7-1.1 0.2-0.9 1-0.1 1 1.1 1 2 0.3 2.3-0.3zM93 -52.8l1 0.4 0-1.4-1 0zM102.3 -78.5l1.7 0 0-0.3-1-0.4zM110 -82.9l-1-0.4-1.5 0.8-0.2 1 0.7 1.6 1 0.4 1.2-1 0.3-1zM118.7 -83.5l-1.7-1.7-2-0.6-1.8 1.3-0.4 1 0.2 1 2 1 3-0.6zM147 -64.5l-0.7-1 0.9-1 1.8-0.4 5 1.8 2.2-1.4 0.6-2-0.8-0.9-4-0.7-5 0.2-4-0.5-2.3 0.9-0.3 2 3.5 1 1.3 1-1.3 3 1.1 1.9 1 0.1 1-0.6zM173 -61.4l0-5.2-2-0.3-2.1 1.4-0.1 3 1.2 1.9zM210 -73.5l-2-0.5-3.5 0.5 3.5 1zM219.4 -57.5l1.2-2-0.6-1.5-1-0.7-3 0.4-1.6 1.8-0.1 2 0.7 1 3-0.2zM228 -48.5l1-2.2 1.8-1.8-0.3-3 2.2-4 0-2-0.7-1.7-1-0.8-2 1.2-4 1.3-1.7 6-1.8 1-0.5 1 0.1 2 1.3 2 1 3 2.6-0.4zM254.3 -61.5l0.7-2 0-2-1-1.5-2 0-2.7 2.5-0.7 3 1.4 2 1 0.3 2-0.7zM262 -66.4l-1-4.7-1-0.8-1 0.4-0.4 3 0.4 1.4 1 0.8zM287 -67.3l1-0.1 0-0.1-1-0.4zM294 -59.8l3.9-2.7 0.1-1-3-1.5-1.7 1.5-0.4 3zM301.4 -66.5l-1.4 0-0.2 2-1.7 1 1.9 0.5zM318.5 -56.5l-0.5 1.2 1 0.2 0.2-1.4zM334.6 -64.5l0.8-2-0.1-1-1.3-1.6-3 0-2.3 2.6 0.1 2 1.2 0.5 3 0.3zM367 -64.2l-1-0.9-2.7-0.4 0.5 4 1.2 1 1 0.1 1.4-2.1zM23 -68.6l-0.8-1.9-1.2 0.3-0.5 3.7 0.5 0.7 2-0.5zM31 -80.2l-2-0.2-1.1 0.9-0.2 1 1.3 0.9 1-0.2 1-0.7 0.4-1zM52.3 -73.5l0.7 1.1 1 0.1 0.5-1.2zM55 -68.4l0.3-1.1-0.3-0.4-0.3 0.4zM71.8 -81.5l1.2 0.5 0.6-0.5-0.6-0.5zM80.7 -61.5l-0.2-2-3.5-2.8-2.4 0.8-0.4 1 0.4 1 2.4 3.1 2.8-0.1zM88.4 -35.5l-3.4-1.1-1.9 1.1 2.9 1.1 2-0.7zM219 -78.1l3.8-2.4-0.8-1.7-2-1.3-3 0-1.7 2-0.1 2 1.8 1.5zM271 65.7l-1.6-2.2 0-1 1.6-1.7 1-0.1 2.3 1.8-0.2 3 1.7 2-0.1 1-0.7 0.7-2-2.7zM242.6 62.5l4.4-0.1 1 1 0.2 1.1-1.2 0.4-0.8-0.4-1.2-2zM253.8 62.5l4 0 0.6 1-1.4 1.1-2 0-1-0.6zM336.1 63.5l-1.1 0.8-1.4-0.8 0.5-1 0.9-0.4 1.2 0.4zM280 63.3l-1 0.2-1.6-1 1.6-0.7 1.6 0.7zM323.2 44.5l-1.2 1.8-1.2 0.2-0.5-1 0.2-1 1.5-0.5zM286 48.8l0.8-6.3-0.3-3 1.1-5 1.8-5 0-11-3.8-5-1-2 0.4-1 2 0.6 6 6.1 0.6 1.3-0.9 4-2.2 18-0.7 13-1.8 0.5-1.6-0.5-1.1-3zM248 20l2 2.5 0 1-3 0.8-1.2-0.8 0.3-3zM231.1 11.5l-1.1 0.5-1.6-0.5 0.4-1 1.2-0.6 1 0.5zM275.3 5.5l0.7 1-0.6 1-2.4 0.8-1-0.8 2-2.6zM309.6 -12.5l-2.7 0 2.1-0.5zM313 -17.5l0.3 2-2.3 1.2-0.5-3.2 0.5-0.8 1 0zM371.4 -44.5l-1.4 2-1.3-1zM248 -45.5l-1.1-1 0.1-0.5 1-0.3 4.2 1.8 0.7 2-0.9 2.9-3-2.5zM351.8 -46.5l2.2 0 0.4 1-0.4 1.2-2-1.2z"/><path fill="#ffc800" d="M88 69.5l0.6-1 1.4-0.3 0.6 2.3-0.5 1-1.1-0.1zM53.2 -37.5l2.2 1-0.4 0.6-1.9-0.6zM92 -28.4l-14-1.4-2-2.2-7.9-4.5-2.5-5 0.4-0.5 7-1.1 3 0.5 6-3.2 2 0.3 3-1.3 4-0.3 3-1.5 3-4.9 1 0.4 0.3 1.6 1.2 1 3.5 0.4 0.9 0.6 3.1 4.8 3 0.3 1 0.7-1.6 3.2 0.1 1-7.8 7-3.7 2.3zM88 -34.8l0.8-0.7-2.8-1.3-2 0.2-1.3 1.1 2.3 1.2zM128.1 -49.5l-1.3 0 0.3-1 1.2 0zM89 -50.7l0 1-1 0.2-1-0.4-0.2-0.6 1.2-1.3zM109.3 -56.5l-0.7 0-0.6-1 1-0.6 0.9 0.6zM140.4 -56.5l-1.4-2 2-1.8 1-0.1 3.6 1.9 0.1 1-1.4 3zM116 -57.1l-0.5-0.4 0.5-0.4 2 0.4zM120.8 -58.5l0.2 1-2.8 0 0.6-1zM45.7 -59.5l2.3-1.6 2-0.3 0.8 1.9-0.3 3-0.5 0.6-2-0.1-2-1.9zM124.1 -60.5l-1 0 0.9-1zM111.5 -66.5l2.5-3.5 1-0.3 0.5 0.8-0.6 4-1.1 2-1.8 1-1.1-1zM0 82.5l0-9 3-0.7 8 2.6 4-2.1 1.3 1.2 3.9 2 4.9 1 1.4-1-0.2-3 0.7-1.2 5 0.6 3.9 2.6 2.1 0.6 3-2.1 1 0.1 5 1.5 2 2.2 2 0.9 2-0.1 1.5-1.1 1.4-3 1.1-0.3 2 1.2 13 0.7 3 1.8 1-0.1 0.5-0.3-0.8-4 1.3-1 2 0.4 1 2.7 3 0.8 3 2.4 1.7-0.3 1.3-2.4 3-1.2 1.7 0.6 0.4 2 0.9 0.9 3 0.6 4-1.8 3-2.3 4-0.7 2 0.4 0.6 0.9-0.1 3 0.5 0.3 1-0.6 1-1.7-0.2-3 1.2-1 2-0.6 2 0.8 2 2.2 4.2 0.6 2.8 2.5 1 0.1 1-1.7 1-0.3 1 1.6 2-0.4 2 1.2 2 0.2 3-2.3 1-1.8 1-0.1 1.9 1 1.1 2.2 1.3 0.8 1.7 0.1 3-0.5 2-1 4 0.6 1.7-0.2 2.3-3.9 1-0.1 2 0.3 3 1.7 4-0.4 2 0.8 3-0.8 2 0.3 1-0.9-0.1-4 1.1-1.1 3.8 2.1-2.5 3-0.4 1 1 1 7.1 1.2 1.2-2.2 0.9-5 2.9 0.3 6 4.7 4 0.1 4-3.8 4 0.3 1 2.2 0.8 0.2 2.3-1 0.7-1-1.6-4 0.8-0.2 0.5 1.2 1.5 1-0.5 2 1.2 2 2.3 1 4-0.4 0.3 1.4-1.4 2 2.6 1 3.6-1 0.8-1 0.1-1.5 1-0.7 2 2 2 0.8 5-2.5 3-0.4 5-2.2 1 0.1 2 1.7 3 0.2 2.3-3.5 1.7-1.2 7.8 3.2 2.2 2.2 6-2.8 6-0.4 4-1.6 8.2 1.6 2.8 1.7 1 0.1 4-3.4 2-0.5 5 1.1 3 2.3 3 0.8 2 1.6 1 0.2 4-0.5 2-1.1 3-0.7 2-1.7 3.2 4.1 2.8 0.7 7-1.5 0-1.3-2-0.8 0-0.5 0.1-0.6 2.9-1.3 2-0.1 8 1.7 2-0.2 2-1.4 2-0.3 2.7 0.6 1.1 1-1.4 3 0.6 1.6 1 0.7 2-0.3 2-2.7 4 0.5 2-1.3 1 0 1.2 2.5 1.8 0.8 3-2.8 0 8zM274 77.1l-0.7 0.4 0.5 1 1.9 0-0.6-1zM229 74.8l0-1 1 0 0.5 0.7-0.5 0.5zM161.1 65.5l2.9-1.6 2-0.3 1 0 0.3 0.9-1.6 3-1.7 1.4-1-0.1-1.9-2.3zM286.4 51.5l0.8-3 0.3-9 0.9-5 1.8-5-0.1-11-3.7-5-0.2-1 0.8-0.1 2.7 2.1 3.3 4-1.4 7-0.8 10-1.2 6-0.1 10-0.4 2-1.1 0.2-1-0.5zM293.8 -56.5l1.2-0.7 1 0.6 0.4 1.1-0.4 1-3 1.3-0.2-1.3zM266 -55.5l-0.8-1 0.8-1 0.5 1zM192 -58.2l2 0.1 0.5 0.6-0.5 1.5-1 0.7-1 0-1.1-1.2-0.1-1zM180 -62.6l1 0.6 0.6 1.5-0.9 0zM176 -65.7l1.4 2.2-1.4 1.5-1-0.3-0.6-1.2 0.6-1.9zM207.2 -55.5l-3.2-3-1.2-2 2-2 0-1-9.8-1.9-6-2.3-3-0.4-3-1.9-6 2.1-4-0.6-3.2 1-1.8 2 0 5.1-1 0.7-3 0.2-3 2.5-1 0.1-6-3-1 0.3-0.8 2.1-1.2 0.7-2-0.8-1.2-1.9 0.2-6 2-0.4 4 1.8 1-0.1 2.6-2.3 0.2-2-0.8-2.6-2 0.6-3-0.5-11 0.1-1 1-0.9 2.4 0.1 1 0.8 0.5 2-0.1 1.4 0.6-0.4 2.5-1 1.4-1 0-1-0.8-2-2.4-3 3-2 0.7-2-1.4-0.2-3-2-4-0.8-0.4-3 1.6-2 0-5-1.6-2-1.8-3-0.5-1 0-2 2.3-3 0.7-1 1.2-0.2 3.5-1 3-0.8 0.3-3-0.8-1 0.4 0.9 3.1-0.2 1-0.7 0.6-2.9 0.4-1.1 1.2-3-0.2-5 2.2-3-2.7-7-1.9-0.5-0.6 3.5-1.3 1.3-1.7-0.6-2-3.7-3.5-2-0.3-2 0.8-1.2 2 0.7 3-0.5 0.3-5-4.1-3.3-0.2-1.7-2.6-2 0.3-1.3 1.3 0.9 2 3.4 1.7 3.2 3.3-1.8 6-3.4 1.1-2-1.6-3.4-0.5-0.2-2 1.2-2 0.3-2-2.7-5 2-2-0.2-3-1.5-3-2.5-0.9-1.8 0.9 0.1 1 1.8 2-0.8 3 0.4 2-0.7 0.6-1 0.3-2-2.1-5-1.3-3 2.8-3-2.8-2.1 1.5 0.1 1.3 3.2 1.7-1.2 4-1 1.4-3-1.1-2.8-2.3-1.2-4 1-3-0.9-1-3.1 0.9-2 1.7-1-3.6-2-2-1.7 0-0.7 7 0.4 0.8 3 0.5 0.7 0.7 0.5 3-2.2 3.1-1 0.6-2 0.3-3-1.3-5-0.7-5-2.8-2-0.6-1-0.6-1.4-3-1.6-1.7 0-19.3 64.2 0 0.8 0.8 2.7-0.8 46 0-2.7 1.7-4.9 1.3-1.1 1.4-4.6 2.6-0.3 1 0.9 1 3 0.7 5-1.3 3-2.7 5-0.1 1.7-0.6 1.8-2-0.5-1-3.5-2 6 0 0.5 1 1.1-1 10.6 0 1.3 1.5 1-0.1 1.1-1.4 7.1 0 0.8 1.4 2 0.4 2-0.5 0.8-1.3 45.4 0 0.8 1.2 0.9-0.2 0.4-1 1.8 0 2.9 4.8 3-2.1 0.5-1.7-0.4-1 48.7 0 1.2 1.3 0.9-1.3 26 0 6.1 2.2 2.6-2.2 46.9 0 0.5 1.4 1 0.1 2.5-1.5 37.5 0 0 23.2-5 2-1.7 1.8-0.7 2-2.1 3-2.5 0.6-2-0.2-2-1.2-3 0.3-4.3-0.5-2.7-1.8-3.2-5.2-1.8-0.7-3-0.1-3-2.5-4.6 1.3-0.4 1 1 1.7 3-0.9 1 0.4 1.7 2.8-0.7 1.2-5-1.8-2 2.6-3 0.3-1.5-1.3-0.1-2-1.4-0.6-2.6 1.6-0.5 3-0.9 1.3-1 0.4-4-1.2-1-1.5-2-1.1-1.4 0.1-2.6 1.7-3-1.9-4 0.1-4-1.3-1.7-1.6-0.2-1 1.1-4-1.2-1.8-1-0.2-7 2.3-1.4 1.7-1.6 3.6-4 1-5-1.6-3 1.7-1-0.3-1.8-3.4-1-4-1.2-1-2 0-0.4 1 0.7 3 0 5-0.7 2-0.6 0.4-1-0.3-6-3.5-0.8 1.4-0.2 2-2 1.3-5.6-2.3-0.5-1 0.6-7-1.5-1.2-2 0.2-3.5 3-0.7 2 0.2 1.7 1 1.7 1 0.8 2.7 0.8 1.3 1.7-0.7 1.3-2.3 1.4-3-0.8-2-2.2-1-0.3-1 0.5-3-0.3-3 1.9-3-1.2-2 0.1 0.7-5.1-1.7-4.6-1-0.2-2 1.7-4.1 1.1-1.9 3.1-1-0.3-2-2.9-3-0.4-2 1-2.3 3.5-0.5 2 0.2 2-1.2 2-0.2 1.7-2 0.1zM216 -67.5l0.5-2-0.5-0.6-1-0.1-2 4.9 1 0.6 1-0.4 0.2-1.4zM218 -77.3l5.6-2.2 0.3-1-0.8-2-3.1-2.2-2-0.3-2 0.5-1.6 3 0.1 2 0.7 1zM254.3 -79.5l-0.8 1 2.2 0-0.4-1zM263.2 -66.5l-1.1-4-1.1-2-2-0.8-1 0.6-0.6 5.2 0.7 1 2.9 1.2 1.4-0.2zM280.3 -80.5l-2.3-0.7-0.4 0.7 0.4 1 1 0.1zM289.7 -66.5l-0.7-2-2-0.8-4-1-0.9 0.8 0.9 1.5 4 2.1 2-0.1zM294.3 -73.5l-2.3-0.1-0.8 1.1 0.8 1.1 1.6-0.1 1.1-1zM334 -62.8l1.9-1.7 0.1-3-2-2.3-3 0.2-2.6 2.1-0.8 3 1.4 1.8zM348.2 -70.5l-1.2-1.6-3-0.7-1.1-0.7-0.1 1 1.2 2 2 1.4 1.6-0.4zM367 -59.1l1.4-3.4-1.4-3.1-4-2.4-3.8 1.5 1.5 2-0.2 1-1.5 1 0.4 2 5.6 2zM379.6 -66.5l-0.6-2.2-1-0.6-1.5 0.8-0.3 2 0.8 1.3 1 0zM5 -72.4l0 1.3 1 0.3 0-1.1zM31 -77.7l1.3-1.8-0.2-1-1.1-0.9-1-0.2-3 0.7-2-0.8-1.6 0.2 0.4 1 1.2 0.5 2 2.5 2 0.6zM45 -79.3l4.6-3.2 0.7-2-0.3-0.8-2-0.2-1 3-2.8 1-1 2zM74 -80.1l1.6-2.4-1.6-0.8-3.4 0.8-0.9 1 0.4 1 1.9 0.8zM100.2 -68.5l-0.4-1-2.8-0.7-3-2.8-4-0.3-1.5 0.8-1.5 2 3 2 4 0.4 4 2.1 1 0zM106.5 -73.5l1.5 1.4 1-1.4-1-0.2zM160 -84.4l-1.8 0.9-0.1 1 0.9 0.4 1.1-1.4zM184.5 -83.5l-2.5-0.5 0.3 1.5 1.7 1.6 1-0.2 0.4-1.4zM208.1 -71.5l1.9-0.9 1-1.1-1.4-1-0.6-1.5-1-0.1-1.1 1.6-4.9 1 2 2.2zM377.9 -79.5l-0.9 0.1-0.3 0.9 1.3 0.9 0.7-0.9z"/><path fill="#ff8200" d="M0 82.5l0-7.3 3-1.1 4.8 1.4 5.2 2.8 3-2 11 3.1 2.4-0.9 1.6-2.7 1-0.4 6 2.3 5 1 3-1.2 1 0 2 1.4 3 0.6 5-2.1 2-0.1 3-1 7 1.8 2-0.1 6 1.8 1-0.1 2-1.7 2-0.4 4 2.1 2 0 4-1 5 1.4 4-1.3 7-1.2 1-1.2 0.5 1.1-0.3 1 0.8 1 2 0.6 3-2.2 6 1.1 1.6-0.5 1.4-1.2 1 0 3.8 3.2-2.9 2zM85 -29.7l-6-1.3-7-5.8-2.2-0.7-0.6-2 0.5-1 3.3-0.8 3 0.4 6-3.5 13-1.1 1.1-1 0.4-2 0.5-0.4 2 0.2 3-0.6 1 0.6 0.2 1.2-2.5 3-0.6 2 0 1 1.8 2 0.5 3-2.2 3-3.2 2.6-5 1.6zM98.5 -41.5l-0.8 0-0.3 1 0.6 0.5 1-0.5zM87.9 -34.5l1.2-1-2.1-1.4-3 0-1.8 1.4 2.8 1.4zM58.1 -56.5l1.2-4 1.7-1.7 2 0.2 2.9 2.5-0.9 3.8-1 1.2-1-0.1-2-1.5-2 0.2zM49 -59.8l0 2.2-1-0.3-0.8-0.6 0.1-1zM157 -60.1l-0.9-1.4 0.9-1.9 3 0.7 1.7 3.2-0.3 1-1.4 0.3zM148.3 -63.5l0.7-1.6 1-0.1 3.1 1.7 0.4 1-2.5 3.2-1 0.4-1.4-1.6zM31.8 -63.5l1.2-0.9 2 0.1 2.3 1.8-0.3 1-1 1.2-2-0.2-2-1.9zM142.4 -64.5l-0.4 1-1 0.2-0.5-1.2 1.5-0.6zM87.5 -55.5l-3-4-0.4-2-1.1-2-5-4.4-4-0.3-3 3.8-3-2.1-0.5-1 1.1-2-3.6-2.7-1 0-0.9 1.7-1.4 1-2.7 0.7-1.5-3.7-2.9-2-0.6-1.2-1 0-2.7 2.2 0.6 3-0.9 1.4-3 0.9-4-1.3-2 2.3-0.8-1.3 1.6-2-0.8-1.4-3.4 0.4-1.2 3-2.4 1.7-1.3-0.7-1.7-3.7-4 0.5-3.8-2.8-3.1 0-0.9 1 0.3 3-0.5 5.2 1 1 2-0.1 1 0.6 0.5 1.3-0.5 1.7-2 2-1 0.3-3-1.2-6-0.6-7-4.2-2-3.4-2-1.4 0-18.2 11.7 0 0.3 1.6 0.5-1.6 19 0 1.5 0.6 1.7-0.6 10.6 0 0.7 1-0.1 2-4.7 3-0.5 1 0.5 1 1.8 0.7 2.2-0.7 4.8-3 1.5-3 0.1-1-1-1 11.1 0 0.3 2 1 0.3 4-0.5 2-1.8 41.7 0-6 2-2.8 3-2.8 2-0.4 1 2.3 2 5 0.9 1 0.8 1-0.1 1.8-2.6 2.2-1.9 5-0.4 3.7-1.7 2.3-1.5 2.2-3.5 8.6 0 2.2 2.4 1-0.1 1.9-2.3 5.2 0 1.9 2.3 3 0.4 1 0 1-0.7 0.7-2 20.2 0 1.1 1 1.4-1 20.5 0 1.1 2 4 0.1 0.7 0.9 0.5 2-0.7 2 0 2 1.6 3-1.1 1 3 3.4 4 0.9 0.8-1.3 3.2-2.4 1.8 0.4 0.3 1-2.1 4.2-3 2.3-6-0.2-7-1.4-2-1.2-1 0.2-3-1.4-3-0.1-0.8-0.4-1.2-4-2-0.6-1.7 0.6 0.8 2-0.4 1-1.7 1.2-2 0.5-2-0.1-3-1.1-4 1.4-2-2.8-2 0.5-3-0.4-0.9 0.8 0.5 3-1.6 1.4-1.2-1.4 0.3-5-0.7-1-1.6 0-1.8 1.3-10 0.8-3-0.5-1.2-0.6 0-1-1.8-0.6-2.3 0.6-0.4 1 2.8 1-0.1 1.4-3.1 4.6-1.9 2.1-1 0.1-0.1-2.2-0.8-2-3.1-3.9-1-0.1-2.6 2-1.4 0.4-5-1.8-0.5-0.6 0.3-2-0.8-0.3-7 0.3-4-0.9-2.3 0.9 1.4 3-1.1 3 0 3-2 1.3-1-0.5-1.1-1.8-0.2-1 0.7-3-0.4-1.1-4-0.8-2-2.1-5-0.3-1.6 0.3-1.4 1-1.7 2 0.1 1 3.6 1.6 3.2 0.4 1.4 1-1.9 3 0.6 1 2.9 2 0.1 2-0.3 1-1.3 1-4.7 1.6zM88.6 -80.5l-0.6-1-2.1 1-0.8 1 0.1 1 1.4 0zM128.3 -80.5l-1.3-0.5-1.4 0.5 0.7 3 0.7 0.3 1-1zM141.2 -77.5l-1.2-0.9-1 0.3-0.6 1.6 0.6 1.1 1.3-0.1 0.9-1zM156 -81l4 0.7 1.8-3.2-0.2-2-1.6-0.4-4 2.9-4 0.5-0.8 1 0.8 1.5zM184 -75.8l2.4-3.7 0.5-3-3.9-3.1-2-0.6-1.2 0.7-0.1 1 0.9 3-0.9 2 0.3 1.8 3 1.9zM195 -72l-1.1 1.5 0.1 0.5 1-0.2 0.8-1.3zM7.2 -69.5l-0.2-3.2-1-0.7-2-0.1-0.7 1 0.7 2.2 2 1.4zM31.5 -77.5l1.8-2-0.2-1-2.1-1.8-7-0.8-1.9 0.6-0.8 1 1.5 2 4.6 3 1.6 0.2zM74.8 -79.5l2-2-0.2-2-0.6-0.6-3 0-4 0.9-0.9 0.7 0.4 2 1.3 1 2.2 0.5zM77.9 -73.5l-0.9-0.1-0.5 0.1 0.5 0.4zM120 -86.1l-1.7-0.4 2.4 0zM134 79.8l7 0.1 3-1.2 5 1 6-1.4 4 0.5 6-2.4 3 0.9 4-0.4 2 0.9 3-1.4 3 1.5 11 0.8 1.4-1.2 0.5-4 1.1-1 7 4 4 0.1 4-2 3 2.5 3-0.1 2-1.2 2-0.2 4 1.9 1 2.1 3 0.7 7-1.7 4 0.3 11-4.4 1.2 0 1.8 1.7 4 0.3 2-1 1-2.6 1-0.7 5 1.6 1.3 0.7 0.9 2 0.8 0.6 7 2.8 1.4-0.4 1.1-1-0.1-1-1.6-2 0.7-1 5.5-0.6 3-1.2 2 1 3-0.8 3 0.5 3 3 4-1.3 2-2.5 2-0.5 7 3.4 2 0.3 2 2.6 1 0.4 6-1.6 3-1.5 2 0.5 2-0.8 1 0.2 1.1 1.9 0.9 0.4 3 0.4 4-0.5 3 0.2 1.5-1.5-0.3-3 0.1-1 0.7-0.3 1.4 0.3 3.5 3 1.1 0.2 1.6-1.2 4.4-0.4 2-1.6 1.9 0 0.4 5 2.7 1.2 2.5-0.2 2.5-1.7 5-0.1 4 1.6 2.1-0.8 0.9-1.2 0 6.2-247.9 0-0.6-2zM358.3 77.5l-2.3-0.9-1.1 0.9 0.3 1 1.8 0.3 1-0.3zM163.3 65.5l1.7-0.7 0.8 0.7-0.8 1.5-1 0.6-1.2-1.1zM288 49.1l0.9 1.4-0.9 2.6-0.7-1.6zM289 35.2l1-1.8 0 2.8-1 4.2-0.4-1.9zM291 23.2l0-6 1.3 1.3zM288 14l1.8 1.5 0.6 1-0.4 0.3-2.3-2.3zM247.6 -57.5l0.4-0.6 3.3 1.6 0.4 1-0.6 1-1.1 0.2-2-1zM207.7 -58.5l1.3-0.1 1 1 0 2.6-1.2-0.5zM163.9 -62.5l1.9-4 0.7 0 0.9 4-0.4 1.5-1 0.3-1.8-0.8zM321 -58.7l-3-0.9-3 1.1-3-1.1-4-0.2-3-1.4-1.2-1.3 0.4-4-1.2-2-2-1.1-5 0.7-0.8-0.6 0.3-4-2.5-0.6-2.3 0.6-0.2 3-0.5 0.6-2 0-5-1.4-1 0-0.9 0.8 0.9 3.1 5 2.5 3.1 0.4 0.9 1-1 1.3-3 1.2-5-1.4-3 0.5-2.1-2.6-0.7-3-2.2-2.1-2-0.4-2.1 1.5 1.2 4-0.1 4-1 0.9-3-1.1-3-2.1-1 0-1.5 4.3-0.5 0.8-1 0.2-3.8-3-0.3-2 0.6-2 0.5-0.9 5 1.1 1-0.2 1-2-2-5.5-1.4-1.5-1.6-0.3-1.6 0.3-0.9 1-1.5 3.7-3 0.6-4 3.1-0.8 1.6-0.2 4.2-4 1.8-5 0-4-4-0.8-2-0.4-4-0.8-0.7-1.1 0.7-1.9 3.1-6 1.1 0.7-4.2-0.7-0.7-4 0-3-4.3-5.1-2-0.2-2-0.7-0.5-2-0.2-3.4 1.7-0.8-1-0.1-4 2.8-3 0.3-3 13.8 0-5.6 0.9-0.8 1.1-0.3 5 1.7 2 2.4 0.6 6-1.7 2 0.8 1-0.3 0.2-0.4-1.4-1-3.4-5-0.4-2 7.9 0 0.1 1.4 2.7 1.6-0.1 4 1.4 1.1 4-1.1 0.5-1-1.5-4.3-3-1.7 19.8 0 1.2 2.2 1 0.2 2.1-1.4 0.2-1 22.6 0 2.2 2-1 2-2.1 0.3-3-0.9-1 0.3-1.5 2.3 0.5 1.7 3 0.9 2-0.9 3-2.5 3 1.3 1-0.5 0.2-2 5.8-2.5 1.3-1.5 43 0 0.7 2.5 1 0.7 4.5-3.2 11.3 0 0.2 1.7 1.6-1.7 4 0 1.4 0.5 1.2-0.5 16.8 0 0 17.8-2-1.5-2 1.1-0.6 1.6 0 4-5.4 6.6-1 0-0.5-0.6-0.1-2 0.7-2-0.6-3-3.5-4.6-1-0.5-6 1.2-3-0.1-0.7 1 0.8 4 3.7 4 2.8 2-0.6 1.2-3.6-0.2-3.8-3-1.6-3.3-2-1-3-0.5-2-1.7-3-0.8-4 0.8-2.3-3.5-1.7-1.1-3 0.5-3.3 2.6-1.1 3 0.3 3-0.8 5-2.1 0.1zM336 -82.6l0 1.3 1.1-0.2 0.3-1zM349 -70.5l-0.3-1-1.7-1.3-4-1.1-1.7 0.4 1.7 3.3 3 2.3 2-1zM379.7 -79.5l-0.7-0.9-4-1.2-0.9 2.1 0.2 1 3.7 1.8 1.6-0.8zM225 -70.5l0.6 1 0.5 0-0.1-1.3zM242 -66.9l4-0.5 0.8-2.1-0.8-0.8-2 0.5-2.1 1.3-2.9 3 1 0.5zM256 -77.4l1.5-1.1-0.3-1-2.2-1.3-2 0.6-1 1.7 1 1.2z"/><path fill="#ff0000" d="M91 80.1l2.7 0.4 1.6 2-5.3 0-0.1-2zM101 79.7l6-0.4 2.3 1.2 1.4 2-12.3 0 0.7-2zM115 79.5l6 0.9 3-1.3 1 0 1.3 1.4-3.3 1.6-3-1-5 0.6-1.3-1.2zM81 78.9l2 0 2.7 1.6 0.8 2-6.7 0-0.7-2zM0 78.8l3.1-0.3-1.4-2 1.3-0.5 3.8 0.5 2.2 1.9 4 0.9 4-1.2 5 0.8 6 2.5 0.5-0.9 3.5-2.3 2-0.6 9 2.7 4-1.4 3 1.4 3-0.1 2-0.9 4-0.3 4-1.5 9 2 2.5 1 0.3 1-0.1 1-31.3 0-0.4-0.4-0.2 0.4-42.8 0zM80.2 -31.5l-3.3-3-0.3-1 2-5 2.7-1 2.6-2 6.1-0.6 2.9 0.6 1.8 2 2.3 4.1 2.4-0.1-0.3 3-1.1 1.4-7 3.2zM88 -34.3l1.5-1.2-0.9-1-1.6-0.6-3-0.1-1.6 0.7-0.7 1 2.3 1.5zM60.5 -59.5l0.3-1 1.2-0.5 1.4 0.5 1.3 2-0.7 2.1-1 0.1-1.5-1.2zM87.5 -59.5l3.5-2.2 2 0.6 1.2 1.6-0.6 2-3.6 1.5-1-0.1-1-0.9zM101.9 -66.5l1.1-3.1 1-0.5 0 4.6-1 0.4zM10 -60.4l-3.2-2.1-2.8-3 0-1.3 4.3-1.7-0.9-5-3.4-0.4-1.9 0.4 0.5 4-0.6 0.8-2-0.9 0-16.9 10.1 0 0.3 2 1.6 1.6 1-0.8 0.9-2.8 11.6 0 2.1 1-0.3 1-5.3 1-1.8 2 0.4 1 3.4 3.2 4 1.6 2-0.2 4.7-3.6-1.1-2-5.4-4 0.8-0.4 4 0.9 4.2-1.5 6.1 0 1.6 2-0.4 1-2.5 1.1-1.4-0.1-0.6-1-0.7 3 0.6 2 2.1 1.7 2-0.5 7-3.8 2.2-4.4-0.3-1 7.9 0 0.2 2 1 0.9 3.2 1.1 1.5 2 2.3 1.5 6 0.7 2-1 1 0.6-0.1 1.2-1.2 1 0.3 2 1-0.1 1.1-1.9 1.9-1.2 4 0.7 2-0.2 2.8-3.3-0.1-1-1.7-0.7-2.5 0.7-2.5 1.6-1 0-2.9-3.6-0.1-1 1-2 23.3 0-0.8 3-1.8 2-2.7 1.3-3-0.5-0.9 1.2 0.9 1.7 3 0.4 4 2.2 2.8 0.7-3.7 1-0.9 1-1.2 0.3-1.8-0.3-2.2-1.4-5-0.2-3.2 0.6-2.9 3-0.2 1 1.3 1.4 2.1 0.6 2.5 2-2.6 2.7-1 0.1-1-0.6-7.7-6.2 0.1-2 2.2-2-1.6-1-3 1-1 1.4-2 1-4-0.2-3-2.2-1 0-3 2.6-1-0.1-0.7-1.5-3.8-2-0.6-2-0.9-1-1-0.1-1.9 3.1-1.8 1-0.3 3-1 1-1 0.1-3-1.1-2.7-3-5.3 0.2-1 0.8 0.7 3-0.7 1-1 0.1-0.9-2.1 0-2-0.8-1-3.7 0-0.6 1.2-1.5-1.2-3.5-0.6-4 0.6-0.6 1 0.5 3-0.7 7 0.8 0.6 3-0.6 0.8 1-0.2 1-1.6 1.4-1 0.2-2-0.8-4 0.1zM10.9 -78.5l0.5-1-3.2-2-1.9 0-0.8 1 0.4 2 1.1 0.5zM111 -77.6l2-1.2 1.2 0.3 0.8 1 0.4 3-3.4 0.5-2.5-0.5zM70 -86.5l3 0 2.4 0-0.4 1-4 1.2-1.3-0.2zM224.8 82.5l6-1-0.9 1zM136 80.5l2 1 3-0.2 3.2 1.2-9.8 0 0.6-1.6zM146 80.6l-2 0.6-0.5-0.7 1.5-0.2zM151.8 80.5l3.2-1.1 5 0.1 5-1.5 9 1.1 3-1.2 3 0.9 6 0.1 5 0.8 3.2-1.2 0.8-3.1 0.1 1.1 0.9 0.6 3-0.1 5 0.8 4-0.8 3 1.8 5-0.7 3-1.3 2.5 1.7 1.2 2-1.7 2-9.2 0-1.8-0.9-5.2 0.9-19.4 0-1.4-0.5-1.4 0.5-5.3 0-2.3-0.5-2 0.5-22.2 0zM233 79.8l4 0.3 3-1.4 6-1.6 4 0.5 2 0.8 5-0.6 2-0.6 2-2.2 1.4 0.5-0.2 2 2.8 1.1 5 0.3 5 1.9 7-3.1 1-2.1 1-0.3 5 1 1-0.2 1-1.2 1 0.1 1.5 1.5-0.5 2 1 0.7 4-2.5 4-0.4 0.9 2.2 1.1 0.5 5-0.4 2 0.9 2-0.3 3 0.9 5-1 4-1.9 7 1.8 10 0.3 2.6-0.8 1.4-3.1 3 1.6 4 1.1 3 2.3 1 0.1 3-1.3 5 0.4 4-1.2 3-0.1 4 0.7 4-0.2 0 3.7-20.9 0-2.1-2-1 0.7-0.2 1.3-41.2 0-0.6-1.3-2 1.3-16.8 0-1.2-0.5-2.1 0.5-59.3 0-1.3-1-0.4-1zM256.8 -61.5l0.2-2 1-0.6 3 0.7 0.1 1.9-1.1 2.1-2-0.6zM238.5 -60.5l1.7-3 1.8-1.4 2-0.6 2 0.6 0 4.4-2 1.5-2 0.6-2.6-1.1zM148.9 -63.5l1.1-1 1.7 1 0.4 1-2.1 2.1-1-1.4zM212 -69.9l-1 0.9-0.6-0.5 0.3-1 1.3-1zM322 -59.2l-5-1.1-3 0.4-6-1.1-2.1-2.5-1.2-4-1.7-1.9-2-1.2-3.5 0.1-0.8-1 0.1-2-3.8-1-3 1-0.5 2-1.5 0.9-6-1.8-1 0.1-0.7 0.8-0.1 2 0.8 2.3 2 2.2 2 0.3 1.7 1.2-0.7 1.1-4-1.3-3 0.1-0.9-0.9-1-3-4.1-4.5-3 1.1-2.9 2.4 2.8 3 0.2 1-0.1 2-0.9 1-2.1-0.2-2.3-1.8-0.4-1 0.7-3-2.8-5-1.2-1.2-2-0.6-2.9 0.8-1.1 1-1.1 3-1.9 0.6-3 2-1-0.1-0.3-0.5 0.5-2 4.3-4-1.5-0.4-2.8 0.4-1.1 2-3.1 0.6-4 1.8-2.6 2.6-0.7 4-0.7 0.7-1 0-1.1-1.7 0.1-5-1-0.9-2.5 0.9-1.5 3.2-1 0.7-2 0.1-0.8-1 0.2-1 2.5-3-0.6-2-1-1-3.3-0.4-0.8 0.4-0.2 2.7-1.4 0.3-3.9-4-4.1-1-0.3-2-0.9-1-2.4-0.5-3 0.4-1-0.7-0.3-2.2 2.5-3 0.4-3 2.9 0 1.5 0.9 0.7 1.1 0.5 5 1.8 2.4 3 0.7 5-1.5 4 1.1 1-0.7 0.3-1-4.5-6-0.3-2 5.2 0-0.2 2 3 2-0.2 2 0.6 2 1.1 0.9 1 0.1 4.5-1 1.2-1 0.9-2-1.3-2 0.1-1 1.6-2 11.9 0 1.4 4-2.6 2-0.6 2 0.9 1.9 1 0.2 5-0.7 3-1.5 0.6-0.9-0.6-0.5-3-0.3-2.3-2.2 3.3-2.4 1-0.3 2 1.1 2 0.3 1.5-0.7 0.2-1-0.6-1 10.2 0-2.4 5-0.1 2 1.2 2.2 3 0.9 2-0.7 4-2.6 3 1.1 1-0.2 2-3.6 5-1.7 2-2.4 40.2 0 0 2-1.2 1.4-0.5 1.6 0.4 1 1.1 0.6 1.6-0.6 6.8-6 8.8 0-0.2 3.7 2 0.8 2-0.5 2 1.8 2.8-1.8 2.7-4 15.5 0 0 4.5-2.6-0.5-0.8-3-0.6-0.4-1.3 1.4-1.7 5-2.7 3 1.7 1.2 3-1.8 3 1.1 2-0.7 0 6.7-2-1.4-2.6 1.9-0.8 2-0.4 4-2.2 2.1-1 0.3-1-1.2-2-4.6-3-4-7 1.6-4 0.2-1 4.8-2 0-3-0.8-0.9-1.4 2.4-3 0.1-2-1.6-1.5-6-1.4-1.6 0.9 0.1 1 2.5 4.2-4 1-1-0.4-1.7-2.8-1.3-0.8-3 0.3-2 1-2.9 2.5-1.3 3-0.8 6.7-1 0.2zM367.8 -77.5l0.1-2-0.9-0.6-1 0.1-1.2 0.5-0.7 1 0 1 1.9 0.9zM372 -74l-1.3 0.5 1.3 0.9 1.4-0.9zM241 -73.5l1 0.3 0.5-0.3-0.5-0.1zM246.4 -78.5l-2.4-0.6-1.3 1.6 0.3 0.8 3.1 0.2 0.6-1zM244.5 -84.5l-1.8 0-0.6 1 0.2 2 0.7 0.3 1-0.7 0.8-1.6zM203 -66.1l-6.4-2.4 0.7-3-0.3-1-1-0.9-2 0.6-2 2-2 0.2-1-0.3-2.5-2.6-1.9-1 2.5-3 0.7-5-0.4-1-3.9-3 10.6 0 0.7 2 1.2 0.9 3 0.2 1 0.7-0.4 6.2 1.2 2-0.8 1 3 3.8 3.7 2.2 0 1zM173 -71.2l-3-0.3-0.8-2-1.2-0.2-2.2 0.2-0.8 0.9-1 0.2-3-0.3-3-1.4-7 1.3-4-0.9-1.1 0.2-0.9 1-1.7 0-2.6-2 1.6-3-0.4-1-1.9-1-1-0.1-1.5 2.1 0.5 3-3 1-2 3.4-2-0.8-1.9-2.6-1.1-0.2-1.2 0.2-0.4 2-1.4 1.3-2-0.1-1.9-1.2-0.8-2-2.3-1 0.1-1 0.9-1.4 3-1 5 2.2 3-2.1 3-0.7 0.5-2-0.5-1.2-1-0.7-4 0.2-2-0.6-0.4-0.7 0.5-3 6.7 0 2.2 2.8 1 0.5 1 0 1-0.9 1.8-2.4 2.8 0 3.4 3 3.3 1 1.7 3.6 5-0.7 3 1.2 2.2-1.1 1.9-4-0.2-3 7.8 0 0.3 2.8 1 0.6 4-3.4 2.5 0 0.1 8 3.4 4-1.9 1 0.7 2-0.3 1-1.5 0.8-3 0zM169.7 -78.5l-0.3 1 0.6 1.1 0.5-2.1zM277.3 -86.5l2.7 0.5 1.3 1.5-0.2 1-1.1 0.3-2.4-1.3-0.6-1zM152.5 -86.5l2.5 0 4.3 0-4.3 2.6-1.8-0.6-0.6-1z"/><path fill="#dc00a0" d="M72.8 81.5l-0.1 1-1.4 0-1-1 0.7-1zM103 80.5l4.1 0 1 2-2.8 0zM1.4 80.5l0.4 2-1.8 0 0-2.6zM82 79.8l1.4 0.7 0.1 2-0.9 0-1.9-2zM7.5 80.5l5.5-0.3 4-1 4 0.3 2.8 1 2.3 2-14.8 0-1.3-1.8zM34 78.9l1 0.1 4.1 1.5-0.6 1-2.9 1-4 0-1-2zM46 81.1l-0.4-0.6 1.7 0-0.3 0.4zM54.3 80.5l3.7-0.2 6-1.5 5.5 1.7-2.9 2-15.8 0zM80 -32.7l-1.7-1.8-0.3-1.1 2-2.9 4-3.5 1-0.2 5.5-0.3 5.9 7 0 1-1.2 1-4.2 2.7-6-0.5zM88 -34l1.9-1.5-1.9-1.6-5-0.2-1.7 0.8-0.4 1 2.1 1.6zM92 -60.4l1.2 0.9-0.2 1.3-1 0.8-2.4-0.1-0.4-1zM15 -60.2l-7-2.3-1.8-3 1-1 3.8-1.2 1.1-1.8-1.1-0.8-1.4-0.2-0.6-0.6-0.5-2.4-1.5-0.6-3-0.3-4 0.6 0-2.7 0.7-1 0.1-2 1.8-3-1.3-2 0.4-1 1.8-1 4.7 0 1 3-3.2 0.3-1.4 1.7 0 2 1.4 2.2 5 0.4 2-0.4 5.2-3.2-4.2-1.8 0.7-4.2 7.3 0 1.7 1-2.7 1.3-2 2.7 0.3 1 2.8 2 1.4 3-1.4 1-3.9 1-0.7 1 0.7 4-1.3 7-0.9 1zM41 -74.1l-7 0.3-4-0.6-5.9-0.1 0.2-1 0.7-0.2 5 1 3-2.5 3-1 1-1.2 1 0.2 3 3.1 1 0.2 7-3.5 1.3-0.1 1.1 1-1.2 4-2.1 1-1.4 2-1.7 0.2-1.6-2.2zM81 -67.4l-2.3-3.1 2.3-3-1.5-1 0.5-0.9 1-0.7 7-0.4 2.9-4 0-1-1.9-1.2-5 0.8-1.9-0.6-1.3-2 0.2-2 20.5 0 0.2 2-0.9 2-2 1-3.8-2-1 0-1.2 4 2.2 2.9 4 0.7 2.4 1.4-3.4 0.9-3-0.8-5-0.1-4 0.7-3.8 3.3-0.4 1 2.2 2.4 1.4 0.6 0.6 1.1-1 0.3zM66 -73.6l-5 0.2-4.8-1.1-1.2-3.8-2.7-2.2 0-2 2.8-4 4.8 0 0.8 3 2.3 1.5 1.6 2.5 4.4 1.3 5 0.7 1 1 0.7 2-3.7 2.5-3 0zM33.1 -83.5l1.9-1.1 2.2 0.1 0.6 3-0.8 1.8zM43.2 -84.5l-1.2 0.1-0.9-1.1 0.9-0.5zM74.1 -86.5l-2.1 1-1-1zM157.7 80.5l7.3-1.6 6.5 1.6-0.5 0.2-0.5 1.8-12.3 0-1-1zM239 79.9l5-1.4 2 0.2 3 1.7 3-0.1 3-1.1 5 0.5 3-0.5 5 0.1 3 0.8 2 2 4.3 0.4-20.7 0-3.6-1.7-1 0.1-0.9 1.6-2.7 0-0.4-0.5-1.1 0.5-10.8 0zM213 79.5l3-0.3 3-1.1 2 1.4 0.4 1-1.4 1.4-2.1 0.6-6.5-2zM174.2 80.5l3.8-1.2 6 1.2 3-0.4 5 0.9 4-2.1 3-0.9 5 1.2 3-0.4 1.3 0.7 0.1 1-8 2-12.5 0-1.9-1.4-2-0.6-4 1.7-3-1.3zM242 -63.6l2-0.4 1 0.4 0.3 1.1-0.3 1.4-2 1.6-1-0.1-1.5-1.9 0.2-1zM200 -71.6l2.1 2.1 0.4 1-0.5 0.6-2-0.3-1.2-1.3 0.2-2.2zM122.3 -73.5l-2.7-1 0.8-1 1.6-0.7 4.9 1.7-2.4 1 0.9 1-0.3 1-1.1 0.3-1.5-1.3zM255 -76l2.6 0.5 0 1-2.6 0.7-3.9-0.7zM113 -77.1l0.1 2.6-2.2 0-0.1-1 1.2-1.4zM226 -73.7l-8 0-3.5-0.8-0.2-1 0.7-0.5 4-0.1 4-1.2 4 1.2 3-2.5 3 1.8 7-1 2 3.2 5-1 0.8-0.9 0-1-0.8-1.7-1.5-1.3 0-1 3.1-5 3.4 0 1 2 0 1.3-2.5 2.7-0.3 1 0.7 5-5.9 0.9-3-0.9-4 1.3-2 0-2 2.4-4 1.3-1-0.7-1.2-2.3zM176 -70.4l-7-4-6 0.9-5-1.4-6 1.1-4-0.5-5 0.5-1.2-0.7 1.5-3-0.3-1-1-1.1-3-1.4-1 0.5-1.9 3 0.3 3-2.6 1-0.8 1.4-1 0.5-1.6-1.9-3.3-1 2.9-1.9 4-1.1 0.9-1-0.4-3 0.5-0.9 2 0.2 1-0.5 2-2.9 1-0.5 1.6 0.6 2.2 2 3.8 2 0.2 2-1.4 3 0.6 1 1-0.1 2.2-1.9 2.8-1.1 5 2 3.2-2.9 1.9-4 0-3 5.7 0 0.7 5-2 3-0.5 3.2 1 0.6 2-1.4 2.5-7.4 2.5-1.4 1 0.1 0.5 1.3-0.2 3 0.8 3 2.3 3-1.7 1 1.1 2-0.6 1-1.2 0.4zM185.9 -74.5l2.5-3 0.4-5-0.8-1.9-2-0.9-1.2-1.2 8.4 0 1.8 3.3 4 1.5 0 2.4-1.2 2.8 2 2-0.8 0.5-5 0.3-3 2-1-0.2zM196.1 -77.5l-2.1-1.7-1.5 0.7 0.6 1 1.9 0.4zM229.8 -82.5l0.2 1.4-1 0.9-1.3-1.3 0.3-1zM205.7 -80.5l3.3-4.4 2 0.3 1.1 1.1-0.1 4-3 0.9-3-0.5zM127 -86.5l4.3 0 1.9 2-0.2 0.9-4 0.4-1.8-0.3-0.5-2zM158 -86.5l-3 1.6-1-0.4-0.6-1.2zM362.4 80.5l1.2 1-0.6 1-2.2 0-0.1-2zM324.1 79.5l3.9-0.2 3 0.8 3 0.1 1.5 0.3 0.2 1-1.2 1-3.5-0.8-2.3 0.8-2.3 0-1.4-0.9-2 0.9-1-0.2-0.8-1.8zM368 79.5l12 0.2 0 2.8-14.5 0-0.3-1 0.5-1zM342.8 80.5l5.2-2.2 4 0.8 2.3 1.4-0.1 2-12 0zM297 78.7l2-1.1 1 0 4 2.4 4-0.1 1.8 0.6-1.6 2-10.8 0-2-2zM282 79.1l3-2.3 2.3 0.7 4.4 3-3.7 1.7-3.5 0.3-4.2 0-2.1-1 0.3-1zM259 -60.9l-1.1-0.6 0.1-1.1 1-0.3 1 0.4-0.1 1zM265.4 -65.5l1.6-1.1 1 0.4 1.3 1.7-0.3 1.5-1 0.6-1-0.2-1.8-1.9zM370 -64.1l-1.3-7.4 1.3-0.3 2 0.6 2-0.9 0.7-1.4-1.4-1 0.7-1.2 1-0.5 4 1.1 1-0.6 0 1.9-2-0.3-1.5 0.6-0.4 2-1.2 1-1.2 3-0.5 4-1.2 0.9-1-0.2zM275.4 -70.5l-0.2-1 0.8-0.7 2-0.1 0.8 0.8 0.5 3-0.3 1.6zM340.5 -69.5l-1.5 1-1-1 0.1-1 0.9-0.8 1 0.5zM314 -61.3l-2.8-1.2-0.2-1-1-0.8-2 0.5-1-0.4-1.4-3.3-2.6-2.8-4-2.1-0.6-1.1-4.4-1.9-4.9 1.9-0.1 1.1-1 1-3-1.5-8-1.3-8 0.6-0.3 2.1-0.8 1-1.9 1.2-1 0-3-4.2-2.2-1-0.8-1 0.7-1 3.3-2 0-3.4 4-1.9 0.5-0.7-0.8-2 6.9 0-2 5-0.2 2 1.6 3 4 1.6 5-3.2 1-0.3 3 0.9 1-0.3 1-0.7 1.3-3 1.7-0.7 3.3-0.3 2.9-4 4.8 0 1 0.4 0.4-0.4 5.4 0 1.2 0.7 0.7-0.7 24.7 0-1.8 5 1.1 2 1.3 0.5 2-0.7 5-4.4 2-0.6 0.3-1.8 6.7 0-0.9 3-2.1 1.7-1-0.2-2-2.1-1-0.3-0.2 0.9 1.2 2.8 2-0.5 1 0.6 2.4 2.1 0.6 2.3 1 0.4 1-0.7 0.4-2 0.6-0.6 4 0.3 3.3-1.7 3.3-6 8.9 0-2.2 6-1.3 1.5-1 0.1-2-2.3-1-0.2-2.8 0.9-1.4 1 0.1 2 1.1 1.4 2 0.9 3-0.2 1.5 0.9-1.5 0.5-3-0.1-1.4 0.6-0.1 1-6.5 2.4-4-0.3-1.2 0.9-0.9 4-1.9 0.2-1.6-1.2 0.3-1 2-2-0.3-3 0.6-0.8 2.2-0.2-7.2-0.3-4-1.6-4 2.5-7 1.6-3 2.1-2.4 3.7-1.6 4.4-1 0.9zM260 -83.7l0.9 1.2-0.6 1-1.9 0-0.5-1 1.1-1.1z"/><path fill="#78000a" d="M15 80.5l6.3 0 1.2 2-8.8 0zM65 79.7l1.3 0.8-2.2 2-1.5 0-2.1-1 0-1 0.5-0.3zM88 -33.7l2.8-1.8-1.8-1.6-4.2-1.4 3.2-2.6 1 0 1.7 1.6 3 5-0.4 1-3.3 1.9-5.9-0.9 2-1zM12.5 -62.5l1.5-7 2-0.9 1 0.7 0.3 1.2-0.6 4-0.7 2.2-1 1.1-1.7-0.3zM82 -75.1l3-0.2 1.5 0.8-3.5 2-0.3-1-1.8-1zM124 -74.5l-1 0.2-1.5-0.2 1.5-0.3zM99.3 -74.5l-2.3 0.2-0.8-0.2 0.8-0.5zM33 -76.2l5-0.9 2.5 2.6-8.1 0-0.1-1zM42.3 -74.5l6.7-3.9 1.2 0.9-1.1 3-3.1 1.5zM10 -73.5l-4.8-2 3.8-0.7 4 0.3 6-3.7 2.3 1.1 1 2-1.3 1.6-5 1.5-3-0.6zM91.2 -78.5l1.7 1 1 2-1.9 0.7-2-0.7 0-2zM65 -74.2l-8.1-0.3-0.9-5-2-0.7-0.8-1.3 0.8-2.1 4-2.6 1.2 2.7 2.3 2-0.1 2 0.6 1.4 4 0 7 1 1 0.6 0.8 2-3.8 1.8zM15.6 -86.5l4.3 0-0.8 3-1.1 1.1-1 0.2-1.1-0.3-0.7-1zM82.1 -86.5l1.9 0 13.9 0-1.9 1.6-2-0.3-2 2.1-1 0.2-7-0.2-1.9-2.4zM130 -86.3l0.9 0.8-0.2 1-1.7 0.4-1.2-0.4 0.2-1.8zM164 79.5l4.1 1 0.4 2-5.4 0-0.7-1-0.2-1zM239.1 80.5l4.9-1.1 1.8 1.1-2.4 2-4.8 0zM199 78.9l2.4 0.6 0.7 1-4.1 1.9-2.5-0.9-0.1-1 0.6-0.5zM218 81l-1.2-0.5 2.2-0.7 0.7 0.7zM226 -74.2l-9.6-0.3 6.6-2.2 3 1.5 4-1.7 4 0.9 3-0.8 2 0.1 1.2 1.2-0.1 1-5.1 0.8-1.5 2.2-2.5 0.9-1-0.2-1.6-2.7zM134 -76.2l1.1 0.7-0.1 1-3 0.9-2.5-0.9 1.5-1.3zM187 -74.5l2-2.4 2-0.6 6.3 3-3.3 0.4-3 1.3zM145 -76.2l0.4 1.7-2.6 0 1.2-1.7zM153 -77.5l1.5 0 1.8 2-1.3 1.1-4.4-0.1 0.4-1.1zM177 -71l-6.4-3.5 1.9-3 1.5-4.9 1-0.8 0.9 0.7 0.8 4 2.1 4-1.8 1 1.4 2zM162 -78.2l2.9-5.3 0.1-3 3.9 0 0.4 5-3.4 7-2.9 0.6-2.9-0.6 0.3-2zM210 -83.1l0.5 0.6 0.2 2-0.9 1-2.1 0-0.6-1 0.6-1 1.3-1.5zM145 -77.8l-5.5-4.7 0-1 1.5-1.5 5.9 3.5 0.7 1-0.6 1.2zM195 -80.6l-4 0.9-0.9-0.8-0.3-3 2.2-2 1 0.6 3 4.1 1.9 0.3 0.1 1-1 0.3zM380 80.5l0 2-1.3 0-0.4-1zM373 80.4l1 0.7 2.5 0.4 0.3 1-6.8 0-0.8-2zM264 80.1l5.6 0.4 0.8 1-0.1 1-10.2 0 0.1-1 1.3-1zM350 79.7l3 0.8-0.2 2-4.8 0-0.7-2zM299 78.7l3.6 1.8-0.2 2-3.1 0-2.3-1.7 0.5-1.3zM284 78.9l2-0.4 1 0.4 1.2 1.6-1.2 0.6-4 0.4-1-0.6-0.3-0.4zM266.5 -64.5l0.5-0.8 1.1 0.8-1.1 0.6zM372 -64.2l-1-0.2 0-1.4 1 0.3zM315.6 -64.5l-1.6-2.1-6 1.1-1.3-2-4.7-4.6-1.9-1.4-3.6-1-0.9-1-0.6-2.2-1-0.3-2 2.2-4 2-5 0-3.2-0.7 2.2-2.4 5 0.4 2-1.8 1-2.6 1-0.4 3 1.2 1-0.2 3.8-6.2 1.5 0 0.7 3 1 0.8 1.8-0.8 1.2-3 2.4 0 0.3 4 1.3 0.6 1.4-0.6 0.6-2 1.5-2 22 0-0.4 2-1.7 3 0 1 1.1 1 1.5 1 2 0.3 4.2-2.3 1.8-1.7 1 2.1 4 0.7 1.6 0.9 0.9 3 1 1-5.5 0.3-4-2.5-1 0.4-1 1.9-9 2.3-4 3.1-4 7.2-2 1-5-1.7zM353.5 -74.5l2.5-2.8 4-0.7 2 0.8 2.7 2.7-2.9 1-2.3 2-2.5 0.7-1.5-0.7-0.3-2zM377.1 -74.5l-2.1 0.4-0.7-0.4 0.7-0.8 1 0zM256.1 -74.5l-2.1 0.1-0.2-0.1 1.2-0.7zM262 -73.9l-1.1-0.6-0.3-1 4.1-3-0.5-2 4.8-3 0.5-2-0.5-1 2.2 0 0 3-1.5 4-0.7 0.8-2 0.2-0.7 1 1.7 2.4 1 0.5 3-0.6 1.7 0.7-5.7 0.4-0.7 0.6 0.2 2-1.5 1.3-1 0zM247.9 -81.5l2.1-3.6 1-0.3 1 1.9-2.3 2-0.7 1.6-1-0.1zM368 -82.3l-3 0-0.2-1.2 2.2-2.1 3.7-0.9 2.3 0-0.2 3-1.8 2.8-1-0.1zM346.3 -86.5l4.6 0-0.9 2.2-1 0.6-2-1z"/></g>
<g id="mapA" clip-path="url(#fc)"><use href="#gm"/><use href="#land" class="co"/></g>
<g id="mapS" clip-path="url(#fc)"><g clip-path="url(#lc)"><use href="#gs"/></g><use href="#land" class="co"/></g>
<g id="mapD" clip-path="url(#fc)"><g clip-path="url(#lc)"><use href="#gd"/></g><use href="#land" class="co"/></g>
</defs>
<g transform="translate(39.60 98.70) scale(0.33711 0.45976) translate(0 86.5)"><use href="#mapA"/></g>
<path class="gl" d="M100.28 98.70V176.40M160.96 98.70V176.40M39.60 138.47H167.70"/>
<rect class="fr" x="39.60" y="98.70" width="128.10" height="77.70"/>
<path class="tk" d="M39.60 176.40v1.6M59.83 176.40v1.6M80.05 176.40v1.6M100.28 176.40v1.6M120.51 176.40v1.6M140.73 176.40v1.6M160.96 176.40v1.6M39.60 110.88h-1.6M39.60 124.68h-1.6M39.60 138.47h-1.6M39.60 152.26h-1.6M39.60 166.06h-1.6"/>
<text class="k" text-anchor="middle" transform="translate(40.2 184.9) scale(0.73 1)">0</text><text class="k" text-anchor="middle" transform="translate(60.4 184.9) scale(0.73 1)">60E</text><text class="k" text-anchor="middle" transform="translate(80.7 184.9) scale(0.73 1)">120E</text><text class="k" text-anchor="middle" transform="translate(100.9 184.9) scale(0.73 1)">180</text><text class="k" text-anchor="middle" transform="translate(121.1 184.9) scale(0.73 1)">120W</text><text class="k" text-anchor="middle" transform="translate(141.3 184.9) scale(0.73 1)">60W</text><text class="k" text-anchor="middle" transform="translate(161.6 184.9) scale(0.73 1)">0</text>
<text class="k" text-anchor="end" transform="translate(37.2 113.3) scale(0.73 1)">60N</text><text class="k" text-anchor="end" transform="translate(37.2 127.1) scale(0.73 1)">30N</text><text class="k" text-anchor="end" transform="translate(37.2 140.9) scale(0.73 1)">EQ</text><text class="k" text-anchor="end" transform="translate(37.2 154.7) scale(0.73 1)">30S</text><text class="k" text-anchor="end" transform="translate(37.2 168.5) scale(0.73 1)">60S</text>
<g transform="translate(39.60 197.00) scale(0.33711 0.46154) translate(0 86.5)"><use href="#mapS"/></g>
<path class="gl" d="M100.28 197.00V275.00M160.96 197.00V275.00M39.60 236.92H167.70"/>
<rect class="fr" x="39.60" y="197.00" width="128.10" height="78.00"/>
<path class="tk" d="M39.60 275.00v1.6M59.83 275.00v1.6M80.05 275.00v1.6M100.28 275.00v1.6M120.51 275.00v1.6M140.73 275.00v1.6M160.96 275.00v1.6M39.60 209.23h-1.6M39.60 223.08h-1.6M39.60 236.92h-1.6M39.60 250.77h-1.6M39.60 264.62h-1.6"/>
<text class="k" text-anchor="middle" transform="translate(40.2 283.4) scale(0.73 1)">0</text><text class="k" text-anchor="middle" transform="translate(60.4 283.4) scale(0.73 1)">60E</text><text class="k" text-anchor="middle" transform="translate(80.7 283.4) scale(0.73 1)">120E</text><text class="k" text-anchor="middle" transform="translate(100.9 283.4) scale(0.73 1)">180</text><text class="k" text-anchor="middle" transform="translate(121.1 283.4) scale(0.73 1)">120W</text><text class="k" text-anchor="middle" transform="translate(141.3 283.4) scale(0.73 1)">60W</text><text class="k" text-anchor="middle" transform="translate(161.6 283.4) scale(0.73 1)">0</text>
<text class="k" text-anchor="end" transform="translate(37.2 211.7) scale(0.73 1)">60N</text><text class="k" text-anchor="end" transform="translate(37.2 225.5) scale(0.73 1)">30N</text><text class="k" text-anchor="end" transform="translate(37.2 239.4) scale(0.73 1)">EQ</text><text class="k" text-anchor="end" transform="translate(37.2 253.2) scale(0.73 1)">30S</text><text class="k" text-anchor="end" transform="translate(37.2 267.1) scale(0.73 1)">60S</text>
<g transform="translate(274.10 17.60) scale(0.30974 0.38284) translate(0 86.5)"><use href="#mapS"/></g>
<path class="gl" d="M329.85 17.60V82.30M385.61 17.60V82.30M274.10 50.72H391.80"/>
<rect class="fr" x="274.10" y="17.60" width="117.70" height="64.70"/>
<path class="tk" d="M274.10 82.30v1.4M292.68 82.30v1.4M311.27 82.30v1.4M329.85 82.30v1.4M348.44 82.30v1.4M367.02 82.30v1.4M385.61 82.30v1.4M274.10 27.75h-1.4M274.10 39.23h-1.4M274.10 50.72h-1.4M274.10 62.20h-1.4M274.10 73.69h-1.4"/>
<text class="kc" text-anchor="middle" transform="translate(274.7 88.8) scale(0.78 1)">0</text><text class="kc" text-anchor="middle" transform="translate(293.3 88.8) scale(0.78 1)">60E</text><text class="kc" text-anchor="middle" transform="translate(311.9 88.8) scale(0.78 1)">120E</text><text class="kc" text-anchor="middle" transform="translate(330.5 88.8) scale(0.78 1)">180</text><text class="kc" text-anchor="middle" transform="translate(349.0 88.8) scale(0.78 1)">120W</text><text class="kc" text-anchor="middle" transform="translate(367.6 88.8) scale(0.78 1)">60W</text><text class="kc" text-anchor="middle" transform="translate(386.2 88.8) scale(0.78 1)">0</text>
<text class="kc" text-anchor="end" transform="translate(272.0 29.8) scale(0.78 1)">60N</text><text class="kc" text-anchor="end" transform="translate(272.0 41.3) scale(0.78 1)">30N</text><text class="kc" text-anchor="end" transform="translate(272.0 52.8) scale(0.78 1)">EQ</text><text class="kc" text-anchor="end" transform="translate(272.0 64.3) scale(0.78 1)">30S</text><text class="kc" text-anchor="end" transform="translate(272.0 75.8) scale(0.78 1)">60S</text>
<g transform="translate(274.10 99.30) scale(0.30974 0.38284) translate(0 86.5)"><use href="#mapS"/></g>
<path class="gl" d="M329.85 99.30V164.00M385.61 99.30V164.00M274.10 132.42H391.80"/>
<rect class="fr" x="274.10" y="99.30" width="117.70" height="64.70"/>
<path class="tk" d="M274.10 164.00v1.4M292.68 164.00v1.4M311.27 164.00v1.4M329.85 164.00v1.4M348.44 164.00v1.4M367.02 164.00v1.4M385.61 164.00v1.4M274.10 109.45h-1.4M274.10 120.93h-1.4M274.10 132.42h-1.4M274.10 143.90h-1.4M274.10 155.39h-1.4"/>
<text class="kc" text-anchor="middle" transform="translate(274.7 170.5) scale(0.78 1)">0</text><text class="kc" text-anchor="middle" transform="translate(293.3 170.5) scale(0.78 1)">60E</text><text class="kc" text-anchor="middle" transform="translate(311.9 170.5) scale(0.78 1)">120E</text><text class="kc" text-anchor="middle" transform="translate(330.5 170.5) scale(0.78 1)">180</text><text class="kc" text-anchor="middle" transform="translate(349.0 170.5) scale(0.78 1)">120W</text><text class="kc" text-anchor="middle" transform="translate(367.6 170.5) scale(0.78 1)">60W</text><text class="kc" text-anchor="middle" transform="translate(386.2 170.5) scale(0.78 1)">0</text>
<text class="kc" text-anchor="end" transform="translate(272.0 111.5) scale(0.78 1)">60N</text><text class="kc" text-anchor="end" transform="translate(272.0 123.0) scale(0.78 1)">30N</text><text class="kc" text-anchor="end" transform="translate(272.0 134.5) scale(0.78 1)">EQ</text><text class="kc" text-anchor="end" transform="translate(272.0 146.0) scale(0.78 1)">30S</text><text class="kc" text-anchor="end" transform="translate(272.0 157.5) scale(0.78 1)">60S</text>
<g transform="translate(274.10 181.10) scale(0.30974 0.38284) translate(0 86.5)"><use href="#mapS"/></g>
<path class="gl" d="M329.85 181.10V245.80M385.61 181.10V245.80M274.10 214.22H391.80"/>
<rect class="fr" x="274.10" y="181.10" width="117.70" height="64.70"/>
<path class="tk" d="M274.10 245.80v1.4M292.68 245.80v1.4M311.27 245.80v1.4M329.85 245.80v1.4M348.44 245.80v1.4M367.02 245.80v1.4M385.61 245.80v1.4M274.10 191.25h-1.4M274.10 202.73h-1.4M274.10 214.22h-1.4M274.10 225.70h-1.4M274.10 237.19h-1.4"/>
<text class="kc" text-anchor="middle" transform="translate(274.7 252.3) scale(0.78 1)">0</text><text class="kc" text-anchor="middle" transform="translate(293.3 252.3) scale(0.78 1)">60E</text><text class="kc" text-anchor="middle" transform="translate(311.9 252.3) scale(0.78 1)">120E</text><text class="kc" text-anchor="middle" transform="translate(330.5 252.3) scale(0.78 1)">180</text><text class="kc" text-anchor="middle" transform="translate(349.0 252.3) scale(0.78 1)">120W</text><text class="kc" text-anchor="middle" transform="translate(367.6 252.3) scale(0.78 1)">60W</text><text class="kc" text-anchor="middle" transform="translate(386.2 252.3) scale(0.78 1)">0</text>
<text class="kc" text-anchor="end" transform="translate(272.0 193.3) scale(0.78 1)">60N</text><text class="kc" text-anchor="end" transform="translate(272.0 204.8) scale(0.78 1)">30N</text><text class="kc" text-anchor="end" transform="translate(272.0 216.3) scale(0.78 1)">EQ</text><text class="kc" text-anchor="end" transform="translate(272.0 227.8) scale(0.78 1)">30S</text><text class="kc" text-anchor="end" transform="translate(272.0 239.3) scale(0.78 1)">60S</text>
<g transform="translate(274.10 262.90) scale(0.30974 0.38284) translate(0 86.5)"><use href="#mapS"/></g>
<path class="gl" d="M329.85 262.90V327.60M385.61 262.90V327.60M274.10 296.02H391.80"/>
<rect class="fr" x="274.10" y="262.90" width="117.70" height="64.70"/>
<path class="tk" d="M274.10 327.60v1.4M292.68 327.60v1.4M311.27 327.60v1.4M329.85 327.60v1.4M348.44 327.60v1.4M367.02 327.60v1.4M385.61 327.60v1.4M274.10 273.05h-1.4M274.10 284.53h-1.4M274.10 296.02h-1.4M274.10 307.50h-1.4M274.10 318.99h-1.4"/>
<text class="kc" text-anchor="middle" transform="translate(274.7 334.1) scale(0.78 1)">0</text><text class="kc" text-anchor="middle" transform="translate(293.3 334.1) scale(0.78 1)">60E</text><text class="kc" text-anchor="middle" transform="translate(311.9 334.1) scale(0.78 1)">120E</text><text class="kc" text-anchor="middle" transform="translate(330.5 334.1) scale(0.78 1)">180</text><text class="kc" text-anchor="middle" transform="translate(349.0 334.1) scale(0.78 1)">120W</text><text class="kc" text-anchor="middle" transform="translate(367.6 334.1) scale(0.78 1)">60W</text><text class="kc" text-anchor="middle" transform="translate(386.2 334.1) scale(0.78 1)">0</text>
<text class="kc" text-anchor="end" transform="translate(272.0 275.1) scale(0.78 1)">60N</text><text class="kc" text-anchor="end" transform="translate(272.0 286.6) scale(0.78 1)">30N</text><text class="kc" text-anchor="end" transform="translate(272.0 298.1) scale(0.78 1)">EQ</text><text class="kc" text-anchor="end" transform="translate(272.0 309.6) scale(0.78 1)">30S</text><text class="kc" text-anchor="end" transform="translate(272.0 321.1) scale(0.78 1)">60S</text>
<g transform="translate(133.20 390.00) scale(0.44289 0.52663) translate(0 86.5)"><use href="#mapD"/></g>
<path class="gl" d="M212.92 390.00V479.00M292.64 390.00V479.00M133.20 435.55H301.50"/>
<rect class="fr" x="133.20" y="390.00" width="168.30" height="89.00"/>
<path class="tk" d="M133.20 479.00v2.0M159.77 479.00v2.0M186.35 479.00v2.0M212.92 479.00v2.0M239.49 479.00v2.0M266.07 479.00v2.0M292.64 479.00v2.0M133.20 403.96h-2.0M133.20 419.75h-2.0M133.20 435.55h-2.0M133.20 451.35h-2.0M133.20 467.15h-2.0"/>
<text class="kd" text-anchor="middle" transform="translate(133.8 488.8) scale(0.84 1)">0</text><text class="kd" text-anchor="middle" transform="translate(160.4 488.8) scale(0.84 1)">60E</text><text class="kd" text-anchor="middle" transform="translate(186.9 488.8) scale(0.84 1)">120E</text><text class="kd" text-anchor="middle" transform="translate(213.5 488.8) scale(0.84 1)">180</text><text class="kd" text-anchor="middle" transform="translate(240.1 488.8) scale(0.84 1)">120W</text><text class="kd" text-anchor="middle" transform="translate(266.7 488.8) scale(0.84 1)">60W</text><text class="kd" text-anchor="middle" transform="translate(293.2 488.8) scale(0.84 1)">0</text>
<text class="kd" text-anchor="end" transform="translate(130.4 406.7) scale(0.84 1)">60N</text><text class="kd" text-anchor="end" transform="translate(130.4 422.5) scale(0.84 1)">30N</text><text class="kd" text-anchor="end" transform="translate(130.4 438.3) scale(0.84 1)">EQ</text><text class="kd" text-anchor="end" transform="translate(130.4 454.1) scale(0.84 1)">30S</text><text class="kd" text-anchor="end" transform="translate(130.4 469.9) scale(0.84 1)">60S</text>
<text class="t" y="91.6"><tspan x="52.6" textLength="33.9" lengthAdjust="spacingAndGlyphs">Annual</tspan> <tspan x="93.4" textLength="27.3" lengthAdjust="spacingAndGlyphs">Temp</tspan> <tspan x="128.3" textLength="25.9" lengthAdjust="spacingAndGlyphs">2008</tspan></text>
<text class="tc" y="11.3"><tspan x="285.5" textLength="31.8" lengthAdjust="spacingAndGlyphs">Annual</tspan> <tspan x="324.9" textLength="23.8" lengthAdjust="spacingAndGlyphs">Temp</tspan> <tspan x="356.3" textLength="23.2" lengthAdjust="spacingAndGlyphs">2008</tspan></text>
<text class="td" y="381.6"><tspan x="69.1" textLength="44.6" lengthAdjust="spacingAndGlyphs">Annual</tspan> <tspan x="123.0" textLength="45.1" lengthAdjust="spacingAndGlyphs">MERRA</tspan><tspan x="168.4" textLength="12.0" lengthAdjust="spacingAndGlyphs">-</tspan><tspan x="181.3" textLength="7.2" lengthAdjust="spacingAndGlyphs">2</tspan> <tspan x="199.0" textLength="41.0" lengthAdjust="spacingAndGlyphs">Minus</tspan> <tspan x="247.3" textLength="30.2" lengthAdjust="spacingAndGlyphs">Sats</tspan> <tspan x="284.8" textLength="36.6" lengthAdjust="spacingAndGlyphs">Temp</tspan> <tspan x="331.3" textLength="33.7" lengthAdjust="spacingAndGlyphs">2008</tspan></text>
<text class="s" y="108.8"><tspan x="174.2" textLength="25.9" lengthAdjust="spacingAndGlyphs">MERRA</tspan><tspan x="200.4" textLength="6.5" lengthAdjust="spacingAndGlyphs">-</tspan><tspan x="207.7" textLength="4.1" lengthAdjust="spacingAndGlyphs">2</tspan></text>
<text class="s" x="174.2" y="206.5" textLength="16.9" lengthAdjust="spacingAndGlyphs">Sats</text>
<text class="s" style="font-size:7.2px" y="25.6"><tspan x="398.0" textLength="21.4" lengthAdjust="spacingAndGlyphs">MetOp</tspan><tspan x="420.3" textLength="5.5" lengthAdjust="spacingAndGlyphs">-</tspan><tspan x="426.2" textLength="4.3" lengthAdjust="spacingAndGlyphs">A</tspan></text>
<text class="s" style="font-size:7.2px" y="107.4"><tspan x="398.3" textLength="17.7" lengthAdjust="spacingAndGlyphs">NOAA</tspan><tspan x="417.0" textLength="5.6" lengthAdjust="spacingAndGlyphs">-</tspan><tspan x="424.0" textLength="7.5" lengthAdjust="spacingAndGlyphs">15</tspan></text>
<text class="s" style="font-size:7.2px" y="189.2"><tspan x="398.3" textLength="17.7" lengthAdjust="spacingAndGlyphs">NOAA</tspan><tspan x="417.0" textLength="5.6" lengthAdjust="spacingAndGlyphs">-</tspan><tspan x="424.0" textLength="7.5" lengthAdjust="spacingAndGlyphs">16</tspan></text>
<text class="s" style="font-size:7.2px" y="271.0"><tspan x="398.3" textLength="17.7" lengthAdjust="spacingAndGlyphs">NOAA</tspan><tspan x="417.0" textLength="5.6" lengthAdjust="spacingAndGlyphs">-</tspan><tspan x="424.0" textLength="7.5" lengthAdjust="spacingAndGlyphs">18</tspan></text>
<text class="p" x="1.0" y="86.8">(a)</text><text class="p" x="1.0" y="264.3">(b)</text><text class="p" x="324.2" y="352.7">(c)</text><text class="p" style="font-size:9.2px" x="211.7" y="546.5">(d)</text>
<rect x="227.20" y="254.59" width="6.70" height="16.46" fill="#7800d2"/><rect x="227.20" y="238.18" width="6.70" height="16.46" fill="#0078ff"/><rect x="227.20" y="221.77" width="6.70" height="16.46" fill="#00ffff"/><rect x="227.20" y="205.37" width="6.70" height="16.46" fill="#32f096"/><rect x="227.20" y="188.96" width="6.70" height="16.46" fill="#64f064"/><rect x="227.20" y="172.55" width="6.70" height="16.46" fill="#c8ff96"/><rect x="227.20" y="156.14" width="6.70" height="16.46" fill="#ffff96"/><rect x="227.20" y="139.73" width="6.70" height="16.46" fill="#ffc800"/><rect x="227.20" y="123.32" width="6.70" height="16.46" fill="#ff8200"/><rect x="227.20" y="106.92" width="6.70" height="16.46" fill="#ff4600"/><rect x="227.20" y="90.51" width="6.70" height="16.46" fill="#ff0000"/><rect x="227.20" y="74.10" width="6.70" height="16.46" fill="#7d0a0f"/><path d="M227.20 254.59H233.90M227.20 238.18H233.90M227.20 221.77H233.90M227.20 205.37H233.90M227.20 188.96H233.90M227.20 172.55H233.90M227.20 156.14H233.90M227.20 139.73H233.90M227.20 123.32H233.90M227.20 106.92H233.90M227.20 90.51H233.90" stroke="#333" stroke-width=".45" fill="none"/>
<rect x="227.20" y="74.10" width="6.70" height="196.90" fill="none" stroke="#444" stroke-width=".4"/>
<text class="cb" y="257.2"><tspan x="235.6" textLength="4.6" lengthAdjust="spacingAndGlyphs">-</tspan><tspan x="240.8" textLength="6.8" lengthAdjust="spacingAndGlyphs">50</tspan></text><text class="cb" y="240.8"><tspan x="235.6" textLength="4.6" lengthAdjust="spacingAndGlyphs">-</tspan><tspan x="240.8" textLength="6.8" lengthAdjust="spacingAndGlyphs">30</tspan></text><text class="cb" y="224.4"><tspan x="235.6" textLength="4.6" lengthAdjust="spacingAndGlyphs">-</tspan><tspan x="240.8" textLength="6.8" lengthAdjust="spacingAndGlyphs">10</tspan></text><text class="cb" y="208.0"><tspan x="235.6" textLength="4.6" lengthAdjust="spacingAndGlyphs">-</tspan><tspan x="240.8" textLength="3.4" lengthAdjust="spacingAndGlyphs">5</tspan></text><text class="cb" x="235.8" y="191.6">0</text><text class="cb" x="235.8" y="175.1">5</text><text class="cb" x="235.8" y="158.7">10</text><text class="cb" x="235.8" y="142.3">15</text><text class="cb" x="235.8" y="125.9">20</text><text class="cb" x="235.8" y="109.5">25</text><text class="cb" x="235.8" y="93.1">30</text>
<text class="cb" style="font-size:6.6px;fill:#000;font-weight:bold" x="230.0" y="287.4">°C</text>
<rect x="63.70" y="508.70" width="23.68" height="9.50" fill="#8200e1"/><rect x="87.33" y="508.70" width="23.68" height="9.50" fill="#a000c8"/><rect x="110.96" y="508.70" width="23.68" height="9.50" fill="#1e6ef0"/><rect x="134.59" y="508.70" width="23.68" height="9.50" fill="#00ebf5"/><rect x="158.22" y="508.70" width="23.68" height="9.50" fill="#73f073"/><rect x="181.85" y="508.70" width="23.68" height="9.50" fill="#c8fa96"/><rect x="205.48" y="508.70" width="23.68" height="9.50" fill="#bebebe"/><rect x="229.12" y="508.70" width="23.68" height="9.50" fill="#ffff82"/><rect x="252.75" y="508.70" width="23.68" height="9.50" fill="#ffc800"/><rect x="276.38" y="508.70" width="23.68" height="9.50" fill="#ff8200"/><rect x="300.01" y="508.70" width="23.68" height="9.50" fill="#ff0000"/><rect x="323.64" y="508.70" width="23.68" height="9.50" fill="#dc00a0"/><rect x="347.27" y="508.70" width="23.68" height="9.50" fill="#78000a"/><path d="M87.33 508.70V518.20M110.96 508.70V518.20M134.59 508.70V518.20M158.22 508.70V518.20M181.85 508.70V518.20M205.48 508.70V518.20M229.12 508.70V518.20M252.75 508.70V518.20M276.38 508.70V518.20M300.01 508.70V518.20M323.64 508.70V518.20M347.27 508.70V518.20" stroke="#333" stroke-width=".45" fill="none"/>
<rect x="63.70" y="508.70" width="307.20" height="9.50" fill="none" stroke="#444" stroke-width=".4"/>
<text class="kd" y="526.8"><tspan x="79.5" textLength="6.3" lengthAdjust="spacingAndGlyphs">-</tspan><tspan x="87.5" textLength="9.2" lengthAdjust="spacingAndGlyphs">12</tspan></text><text class="kd" y="526.8"><tspan x="103.1" textLength="6.3" lengthAdjust="spacingAndGlyphs">-</tspan><tspan x="111.2" textLength="9.2" lengthAdjust="spacingAndGlyphs">10</tspan></text><text class="kd" y="526.8"><tspan x="129.1" textLength="6.4" lengthAdjust="spacingAndGlyphs">-</tspan><tspan x="137.0" textLength="4.2" lengthAdjust="spacingAndGlyphs">8</tspan></text><text class="kd" y="526.8"><tspan x="152.8" textLength="6.4" lengthAdjust="spacingAndGlyphs">-</tspan><tspan x="160.6" textLength="4.2" lengthAdjust="spacingAndGlyphs">6</tspan></text><text class="kd" y="526.8"><tspan x="176.4" textLength="6.4" lengthAdjust="spacingAndGlyphs">-</tspan><tspan x="184.3" textLength="4.2" lengthAdjust="spacingAndGlyphs">4</tspan></text><text class="kd" y="526.8"><tspan x="200.0" textLength="6.4" lengthAdjust="spacingAndGlyphs">-</tspan><tspan x="207.9" textLength="4.2" lengthAdjust="spacingAndGlyphs">2</tspan></text><text class="kd" x="227.3" y="526.8" textLength="4.3" lengthAdjust="spacingAndGlyphs">2</text><text class="kd" x="250.9" y="526.8" textLength="4.3" lengthAdjust="spacingAndGlyphs">4</text><text class="kd" x="274.5" y="526.8" textLength="4.3" lengthAdjust="spacingAndGlyphs">6</text><text class="kd" x="298.2" y="526.8" textLength="4.3" lengthAdjust="spacingAndGlyphs">8</text><text class="kd" x="319.2" y="526.8" textLength="9.4" lengthAdjust="spacingAndGlyphs">10</text><text class="kd" x="342.9" y="526.8" textLength="9.4" lengthAdjust="spacingAndGlyphs">12</text>
<text class="kd" style="fill:#000;font-weight:bold;font-size:7.6px" x="326.8" y="535.4">°C</text>
</svg>
</body></html>
